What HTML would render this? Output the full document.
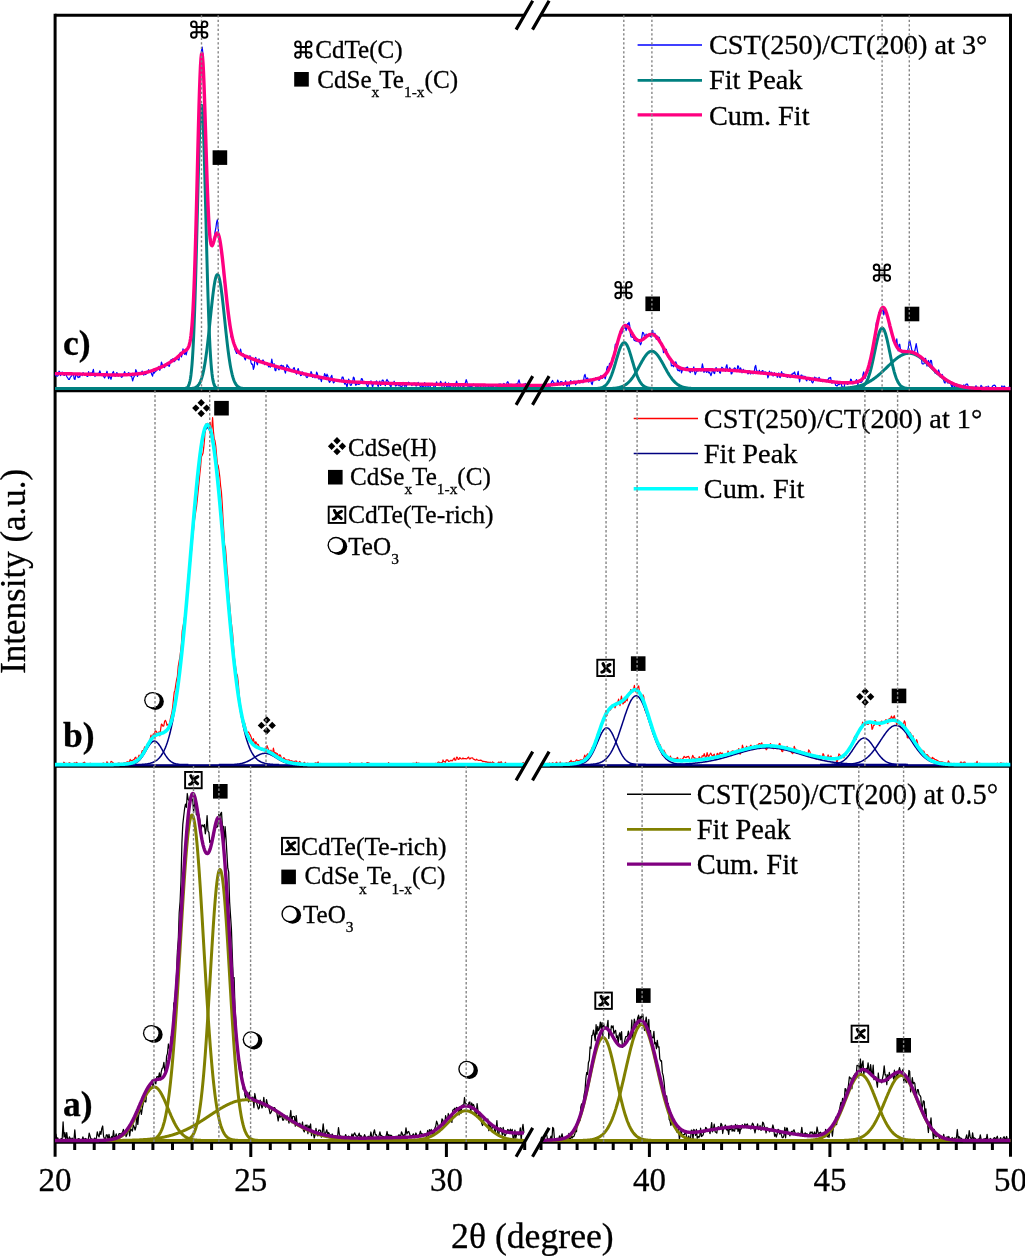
<!DOCTYPE html>
<html lang="en"><head><meta charset="utf-8"><title>XRD patterns of CST(250)/CT(200)</title>
<style>
html,body{margin:0;padding:0;background:#fff}
svg{display:block}
.serif text,.serif{font-family:"Liberation Serif","DejaVu Serif",serif;stroke:#000;stroke-width:0.3px}
.sym text,.sym{font-family:"DejaVu Sans","Liberation Sans",sans-serif}
.dot{stroke:#858585;stroke-width:1.4;stroke-dasharray:2.4 2.1}
</style></head><body>
<svg width="1025" height="1256" viewBox="0 0 1025 1256">
<rect width="100%" height="100%" fill="#fff"/>
<g id="axes" stroke="#000" stroke-width="3" fill="none" stroke-linecap="butt">
<path d="M55.1 13.7V1156.8"/>
<path d="M1010.5 13.7V1156.8"/>
<path d="M55.1 15.2H524.4M540.8 15.2H1010.5"/>
<path d="M55.1 1142.3H524.4M540.8 1142.3H1010.5"/>
<path d="M55.1 390.8H1010.5"/>
<path d="M55.1 766.3H524.4M540.8 766.3H1010.5"/>
<path d="M74.7 1142.3v7.6M94.2 1142.3v7.6M113.8 1142.3v7.6M133.4 1142.3v7.6M152.9 1142.3v7.6M172.5 1142.3v7.6M192.1 1142.3v7.6M211.6 1142.3v7.6M231.2 1142.3v7.6M250.8 1142.3v14.6M270.3 1142.3v7.6M289.9 1142.3v7.6M309.5 1142.3v7.6M329.0 1142.3v7.6M348.6 1142.3v7.6M368.2 1142.3v7.6M387.7 1142.3v7.6M407.3 1142.3v7.6M426.9 1142.3v7.6M446.4 1142.3v14.6M466.0 1142.3v7.6M485.6 1142.3v7.6M505.1 1142.3v7.6M524.7 1142.3v7.6M541.0 1142.3v7.6M559.1 1142.3v7.6M577.1 1142.3v7.6M595.2 1142.3v7.6M613.2 1142.3v7.6M631.3 1142.3v7.6M649.4 1142.3v14.6M667.4 1142.3v7.6M685.5 1142.3v7.6M703.5 1142.3v7.6M721.6 1142.3v7.6M739.6 1142.3v7.6M757.7 1142.3v7.6M775.7 1142.3v7.6M793.8 1142.3v7.6M811.8 1142.3v7.6M829.9 1142.3v14.6M848.0 1142.3v7.6M866.0 1142.3v7.6M884.1 1142.3v7.6M902.1 1142.3v7.6M920.2 1142.3v7.6M938.2 1142.3v7.6M956.3 1142.3v7.6M974.3 1142.3v7.6M992.4 1142.3v7.6"/>
</g>
<g id="panel-c" fill="none" stroke-linejoin="round">
<path d="M55.0 373.6L55.8 375.7L56.6 376.0L57.4 376.2L58.2 375.3L59.0 371.1L59.8 372.1L60.6 375.6L61.4 373.9L62.2 372.1L63.0 372.8L63.8 375.2L64.6 375.4L65.4 372.5L66.2 374.9L67.0 377.0L67.8 378.0L68.6 379.5L69.4 379.4L70.2 377.5L71.0 376.5L71.8 375.6L72.6 373.1L73.4 373.9L74.2 378.8L75.0 379.4L75.8 375.0L76.6 373.8L77.4 376.5L78.2 377.6L79.0 376.6L79.8 377.2L80.6 373.6L81.4 373.6L82.2 375.6L83.0 372.6L83.8 373.6L84.6 375.4L85.4 374.2L86.2 373.9L87.0 376.3L87.8 376.3L88.6 371.7L89.4 374.6L90.2 375.5L91.0 372.6L91.8 375.3L92.6 371.9L93.4 369.4L94.2 375.2L95.0 376.5L95.8 373.3L96.6 373.8L97.4 373.6L98.2 373.4L99.0 373.5L99.8 370.8L100.6 373.3L101.4 375.5L102.2 375.1L103.0 375.3L103.8 376.6L104.6 377.9L105.4 376.2L106.2 373.6L107.0 371.2L107.8 375.2L108.6 378.7L109.4 375.2L110.2 377.3L111.0 379.3L111.8 376.0L112.6 372.9L113.4 371.5L114.2 374.3L115.0 376.2L115.8 376.1L116.6 372.7L117.4 373.0L118.2 376.3L119.0 374.9L119.8 374.6L120.6 375.5L121.4 377.3L122.2 376.9L123.0 375.7L123.8 373.6L124.6 371.6L125.4 373.7L126.2 373.6L127.0 374.1L127.8 373.4L128.6 372.7L129.4 373.5L130.2 375.7L131.0 376.1L131.8 376.8L132.6 381.0L133.4 378.4L134.2 376.3L135.0 375.4L135.8 369.7L136.6 371.4L137.4 376.5L138.2 374.5L139.0 372.4L139.8 373.1L140.6 374.2L141.4 372.5L142.2 371.1L143.0 374.1L143.8 375.0L144.6 372.9L145.4 374.5L146.2 373.9L147.0 373.3L147.8 371.8L148.6 369.7L149.4 371.0L150.2 372.2L151.0 372.3L151.8 374.6L152.6 376.2L153.4 371.6L154.2 373.1L155.0 371.9L155.8 370.9L156.6 370.8L157.4 368.8L158.2 368.4L159.0 366.3L159.8 370.3L160.6 367.9L161.4 362.0L162.2 364.1L163.0 366.9L163.8 366.7L164.6 367.6L165.4 364.8L166.2 363.5L167.0 365.3L167.8 365.3L168.6 365.9L169.4 366.3L170.2 362.2L171.0 359.6L171.8 359.6L172.6 358.8L173.4 361.5L174.2 361.6L175.0 360.8L175.8 359.6L176.6 358.6L177.4 358.5L178.2 359.8L179.0 360.1L179.8 353.4L180.6 352.4L181.4 357.0L182.2 354.3L183.0 348.8L183.8 351.8L184.6 354.4L185.4 352.3L186.2 354.9L187.0 351.4L187.8 346.9L188.6 346.8L189.4 345.9L190.2 341.5L191.0 335.7L191.8 329.2L192.6 319.7L193.4 307.6L194.2 283.2L195.0 258.3L195.8 233.4L196.6 201.4L197.4 170.6L198.2 139.1L199.0 105.3L199.8 78.6L200.6 62.1L201.4 51.2L202.2 47.1L203.0 54.5L203.8 74.3L204.6 100.9L205.4 132.0L206.2 154.2L207.0 172.8L207.8 197.7L208.6 216.6L209.4 227.4L210.2 235.4L211.0 239.8L211.8 244.5L212.6 242.2L213.4 241.7L214.2 240.1L215.0 232.0L215.8 228.5L216.6 222.3L217.4 219.6L218.2 228.1L219.0 239.1L219.8 238.6L220.6 242.8L221.4 251.6L222.2 254.1L223.0 265.6L223.8 280.5L224.6 283.6L225.4 286.4L226.2 295.2L227.0 302.6L227.8 310.9L228.6 320.7L229.4 325.0L230.2 329.1L231.0 336.9L231.8 337.8L232.6 337.9L233.4 341.1L234.2 345.5L235.0 349.8L235.8 351.5L236.6 353.4L237.4 352.1L238.2 352.9L239.0 353.3L239.8 351.8L240.6 349.0L241.4 353.0L242.2 355.7L243.0 353.5L243.8 355.7L244.6 358.7L245.4 359.9L246.2 355.9L247.0 355.5L247.8 357.1L248.6 357.9L249.4 356.1L250.2 355.9L251.0 362.7L251.8 364.3L252.6 364.1L253.4 369.4L254.2 366.9L255.0 358.3L255.8 357.5L256.6 362.6L257.4 364.8L258.2 360.6L259.0 358.8L259.8 361.1L260.6 361.8L261.4 362.1L262.2 360.7L263.0 360.0L263.8 361.4L264.6 364.6L265.4 364.3L266.2 363.9L267.0 363.0L267.8 364.4L268.6 366.9L269.4 364.8L270.2 367.3L271.0 364.2L271.8 359.2L272.6 363.6L273.4 365.1L274.2 363.7L275.0 370.3L275.8 370.8L276.6 366.2L277.4 366.8L278.2 368.9L279.0 369.8L279.8 368.3L280.6 365.8L281.4 365.1L282.2 367.5L283.0 365.5L283.8 366.7L284.6 370.5L285.4 373.1L286.2 369.7L287.0 364.7L287.8 366.2L288.6 366.9L289.4 368.6L290.2 369.7L291.0 370.6L291.8 371.5L292.6 371.2L293.4 368.3L294.2 367.6L295.0 370.6L295.8 372.9L296.6 374.2L297.4 370.4L298.2 368.5L299.0 371.5L299.8 373.3L300.6 375.6L301.4 375.3L302.2 371.9L303.0 372.7L303.8 374.9L304.6 374.7L305.4 374.3L306.2 376.9L307.0 377.7L307.8 376.6L308.6 374.8L309.4 374.8L310.2 375.5L311.0 371.6L311.8 373.3L312.6 377.3L313.4 376.5L314.2 375.6L315.0 377.9L315.8 377.2L316.6 372.1L317.4 373.5L318.2 377.6L319.0 379.2L319.8 378.4L320.6 378.9L321.4 381.6L322.2 377.3L323.0 377.1L323.8 377.7L324.6 373.6L325.4 375.2L326.2 377.0L327.0 374.2L327.8 375.7L328.6 380.3L329.4 382.4L330.2 381.5L331.0 376.7L331.8 375.3L332.6 379.6L333.4 382.9L334.2 382.3L335.0 380.4L335.8 380.0L336.6 380.3L337.4 379.6L338.2 380.6L339.0 381.2L339.8 380.5L340.6 380.7L341.4 380.3L342.2 377.0L343.0 377.0L343.8 380.2L344.6 384.1L345.4 383.6L346.2 384.2L347.0 387.3L347.8 382.6L348.6 379.1L349.4 380.8L350.2 385.0L351.0 385.4L351.8 383.7L352.6 382.0L353.4 377.1L354.2 377.9L355.0 383.0L355.8 385.4L356.6 384.2L357.4 382.6L358.2 384.5L359.0 384.0L359.8 384.1L360.6 382.4L361.4 378.7L362.2 378.8L363.0 381.4L363.8 382.4L364.6 381.9L365.4 383.5L366.2 383.8L367.0 385.4L367.8 387.3L368.6 383.8L369.4 381.7L370.2 382.7L371.0 380.8L371.8 384.1L372.6 387.1L373.4 383.9L374.2 382.0L375.0 382.9L375.8 381.9L376.6 380.9L377.4 384.7L378.2 386.6L379.0 383.3L379.8 381.0L380.6 385.5L381.4 384.1L382.2 380.0L383.0 380.0L383.8 381.7L384.6 384.4L385.4 385.7L386.2 381.0L387.0 379.4L387.8 381.0L388.6 381.8L389.4 384.2L390.2 385.9L391.0 386.9L391.8 382.5L392.6 383.9L393.4 383.8L394.2 381.2L395.0 384.7L395.8 386.1L396.6 385.2L397.4 384.5L398.2 384.6L399.0 385.9L399.8 385.5L400.6 385.9L401.4 387.5L402.2 385.9L403.0 382.4L403.8 384.8L404.6 386.3L405.4 384.9L406.2 386.5L407.0 384.0L407.8 383.3L408.6 382.2L409.4 382.7L410.2 384.5L411.0 383.7L411.8 385.6L412.6 384.2L413.4 383.3L414.2 383.2L415.0 383.1L415.8 385.9L416.6 386.0L417.4 384.1L418.2 382.4L419.0 384.0L419.8 385.7L420.6 387.0L421.4 385.9L422.2 384.9L423.0 388.3L423.8 387.2L424.6 382.5L425.4 384.9L426.2 388.3L427.0 387.2L427.8 387.3L428.6 385.5L429.4 385.0L430.2 386.8L431.0 384.5L431.8 384.6L432.6 384.9L433.4 385.2L434.2 388.0L435.0 388.3L435.8 384.4L436.6 381.9L437.4 384.6L438.2 384.1L439.0 384.2L439.8 384.1L440.6 381.3L441.4 383.1L442.2 388.3L443.0 388.3L443.8 388.3L444.6 385.5L445.4 382.0L446.2 384.8L447.0 388.3L447.8 387.5L448.6 382.9L449.4 387.0L450.2 388.3L451.0 385.5L451.8 384.7L452.6 384.7L453.4 386.9L454.2 387.6L455.0 388.3L455.8 384.0L456.6 381.1L457.4 384.1L458.2 386.8L459.0 388.3L459.8 388.3L460.6 385.5L461.4 385.0L462.2 385.1L463.0 386.8L463.8 386.8L464.6 385.0L465.4 382.8L466.2 379.7L467.0 382.0L467.8 386.3L468.6 386.2L469.4 386.0L470.2 387.1L471.0 386.2L471.8 386.7L472.6 385.6L473.4 384.1L474.2 384.7L475.0 384.8L475.8 386.4L476.6 387.7L477.4 386.9L478.2 386.3L479.0 385.5L479.8 384.6L480.6 387.2L481.4 387.1L482.2 387.1L483.0 388.2L483.8 386.5L484.6 388.3L485.4 388.3L486.2 384.7L487.0 385.1L487.8 386.0L488.6 386.4L489.4 387.3L490.2 387.1L491.0 386.4L491.8 385.9L492.6 386.9L493.4 386.7L494.2 384.5L495.0 385.1L495.8 386.1L496.6 385.0L497.4 387.0L498.2 387.1L499.0 384.0L499.8 384.3L500.6 384.1L501.4 385.6L502.2 386.7L503.0 384.6L503.8 383.5L504.6 384.2L505.4 387.3L506.2 386.8L507.0 382.5L507.8 381.7L508.6 383.2L509.4 387.4L510.2 386.2L511.0 384.0L511.8 388.3L512.6 388.3L513.4 387.1L514.2 388.3L515.0 388.3L515.8 384.2L516.6 383.8L517.4 385.4L518.2 382.0L519.0 379.9L519.8 382.9L520.6 385.9L521.4 387.7L522.2 388.3L523.0 385.8L523.8 384.0L524.6 384.5L525.4 383.5L526.2 385.0L527.0 386.7L527.8 384.3L536.8 385.3L537.5 386.3L538.2 388.3L539.0 386.9L539.7 384.6L540.4 385.0L541.1 387.4L541.8 388.3L542.6 386.8L543.3 387.5L544.0 388.3L544.7 388.3L545.4 384.5L546.2 383.4L546.9 385.5L547.6 386.0L548.3 384.0L549.0 388.0L549.8 388.3L550.5 384.3L551.2 383.1L551.9 381.3L552.6 380.5L553.4 382.5L554.1 383.7L554.8 382.9L555.5 384.1L556.2 385.2L557.0 383.0L557.7 380.0L558.4 381.5L559.1 384.4L559.8 383.8L560.6 381.7L561.3 381.9L562.0 381.7L562.7 383.0L563.4 385.4L564.2 384.2L564.9 382.6L565.6 380.7L566.3 384.1L567.0 386.9L567.8 384.1L568.5 383.6L569.2 386.3L569.9 383.7L570.6 380.6L571.4 381.3L572.1 382.7L572.8 381.8L573.5 381.3L574.2 381.1L575.0 382.1L575.7 384.9L576.4 383.1L577.1 382.8L577.8 382.0L578.6 380.4L579.3 382.8L580.0 383.0L580.7 382.0L581.4 380.6L582.2 380.9L582.9 382.9L583.6 380.0L584.3 375.8L585.0 374.4L585.8 377.7L586.5 380.3L587.2 377.9L587.9 378.3L588.6 382.1L589.4 381.6L590.1 379.2L590.8 380.6L591.5 383.7L592.2 384.5L593.0 380.8L593.7 379.6L594.4 380.7L595.1 379.0L595.8 377.7L596.6 378.4L597.3 378.4L598.0 379.0L598.7 380.2L599.4 380.2L600.2 377.6L600.9 375.7L601.6 378.4L602.3 378.5L603.0 377.3L603.8 375.1L604.5 376.7L605.2 378.9L605.9 376.1L606.6 369.5L607.4 366.3L608.1 369.4L608.8 368.5L609.5 363.4L610.2 363.4L611.0 365.7L611.7 361.3L612.4 357.6L613.1 356.3L613.8 355.7L614.6 350.9L615.3 344.3L616.0 344.1L616.7 343.3L617.4 345.4L618.2 342.9L618.9 337.0L619.6 335.0L620.3 331.2L621.0 330.7L621.8 333.5L622.5 330.8L623.2 327.8L623.9 328.4L624.6 327.6L625.4 327.4L626.1 330.7L626.8 328.0L627.5 323.6L628.2 324.6L629.0 322.2L629.7 325.4L630.4 333.9L631.1 336.8L631.8 337.0L632.6 337.4L633.3 336.2L634.0 340.1L634.7 340.6L635.4 340.6L636.2 341.4L636.9 339.4L637.6 341.0L638.3 341.2L639.0 341.8L639.8 342.8L640.5 344.8L641.2 343.5L641.9 336.6L642.6 332.4L643.4 332.8L644.1 334.6L644.8 337.8L645.5 335.8L646.2 334.1L647.0 336.4L647.7 336.4L648.4 335.6L649.1 335.5L649.8 335.6L650.6 336.7L651.3 337.1L652.0 330.8L652.7 330.3L653.4 335.3L654.2 334.6L654.9 333.2L655.6 336.9L656.3 339.4L657.0 336.3L657.8 336.3L658.5 338.8L659.2 337.4L659.9 340.0L660.6 343.9L661.4 344.8L662.1 343.5L662.8 347.3L663.5 352.6L664.2 351.2L665.0 350.1L665.7 349.4L666.4 349.3L667.1 354.4L667.8 356.8L668.6 355.7L669.3 359.3L670.0 358.9L670.7 360.3L671.4 365.8L672.2 365.7L672.9 365.6L673.6 366.8L674.3 364.3L675.0 363.4L675.8 361.9L676.5 363.4L677.2 369.2L677.9 370.6L678.6 370.0L679.4 371.1L680.1 369.2L680.8 368.5L681.5 372.8L682.2 370.8L683.0 367.9L683.7 368.7L684.4 368.5L685.1 368.1L685.8 368.4L686.6 367.4L687.3 366.9L688.0 368.3L688.7 368.4L689.4 371.5L690.2 372.5L690.9 370.5L691.6 369.9L692.3 371.7L693.0 369.4L693.8 366.9L694.5 371.6L695.2 374.6L695.9 373.1L696.6 370.4L697.4 371.1L698.1 370.8L698.8 370.7L699.5 369.9L700.2 370.1L701.0 371.1L701.7 368.2L702.4 363.9L703.1 367.2L703.8 372.2L704.6 372.0L705.3 369.9L706.0 370.4L706.7 372.5L707.4 370.7L708.2 371.5L708.9 373.0L709.6 372.2L710.3 374.1L711.0 375.7L711.8 372.9L712.5 370.3L713.2 369.9L713.9 373.1L714.6 373.6L715.4 369.3L716.1 367.6L716.8 369.1L717.5 371.5L718.2 370.3L719.0 369.8L719.7 372.8L720.4 373.2L721.1 368.9L721.8 367.2L722.6 367.7L723.3 368.8L724.0 369.2L724.7 369.5L725.4 371.3L726.2 366.2L726.9 364.7L727.6 369.7L728.3 371.1L729.0 369.8L729.8 367.7L730.5 369.1L731.2 374.0L731.9 373.7L732.6 370.9L733.4 370.3L734.1 368.2L734.8 367.9L735.5 368.8L736.2 371.2L737.0 371.1L737.7 365.9L738.4 366.1L739.1 369.2L739.8 370.3L740.6 367.9L741.3 369.7L742.0 372.9L742.7 370.7L743.4 369.3L744.2 370.9L744.9 371.7L745.6 371.5L746.3 371.9L747.0 371.7L747.8 373.8L748.5 373.7L749.2 370.5L749.9 372.1L750.6 374.0L751.4 371.4L752.1 372.8L752.8 373.7L753.5 373.7L754.2 372.2L755.0 366.8L755.7 365.4L756.4 369.6L757.1 371.8L757.8 371.3L758.6 372.4L759.3 370.2L760.0 372.5L760.7 373.4L761.4 371.4L762.2 370.9L762.9 370.6L763.6 374.0L764.3 374.0L765.0 371.7L765.8 372.2L766.5 372.7L767.2 373.6L767.9 377.9L768.6 375.7L769.4 371.2L770.1 372.5L770.8 373.6L771.5 372.2L772.2 373.1L773.0 376.0L773.7 375.7L774.4 372.7L775.1 374.7L775.8 374.7L776.6 373.6L777.3 377.4L778.0 374.4L778.7 372.9L779.4 377.1L780.2 377.6L780.9 374.1L781.6 371.6L782.3 373.9L783.0 375.2L783.8 373.5L784.5 375.3L785.2 375.9L785.9 375.0L786.6 376.5L787.4 377.3L788.1 376.5L788.8 375.7L789.5 376.8L790.2 377.6L791.0 375.0L791.7 374.1L792.4 374.5L793.1 373.1L793.8 373.6L794.6 372.0L795.3 374.3L796.0 376.7L796.7 376.0L797.4 374.5L798.2 371.4L798.9 377.5L799.6 381.8L800.3 377.8L801.0 375.1L801.8 375.1L802.5 376.5L803.2 377.1L803.9 376.0L804.6 377.0L805.4 376.5L806.1 380.0L806.8 380.8L807.5 378.9L808.2 378.5L809.0 377.4L809.7 380.4L810.4 379.5L811.1 379.7L811.8 381.8L812.6 382.9L813.3 381.6L814.0 378.5L814.7 377.0L815.4 378.1L816.2 378.2L816.9 378.0L817.6 379.9L818.3 379.1L819.0 377.4L819.8 378.9L820.5 381.1L821.2 380.9L821.9 380.5L822.6 381.7L823.4 380.4L824.1 379.7L824.8 380.7L825.5 381.4L826.2 381.7L827.0 379.9L827.7 381.2L828.4 378.8L829.1 377.7L829.8 378.2L830.6 377.4L831.3 381.2L832.0 383.3L832.7 381.7L833.4 381.1L834.2 381.8L834.9 382.4L835.6 385.3L836.3 385.3L837.0 386.0L837.8 385.1L838.5 383.0L839.2 384.7L839.9 383.9L840.6 382.5L841.4 384.4L842.1 387.5L842.8 386.9L843.5 387.4L844.2 387.3L845.0 381.8L845.7 382.0L846.4 383.4L847.1 383.9L847.8 384.4L848.6 382.8L849.3 383.4L850.0 382.0L850.7 379.2L851.4 379.8L852.2 382.2L852.9 383.9L853.6 383.1L854.3 381.9L855.0 381.4L855.8 381.0L856.5 379.5L857.2 382.2L857.9 385.1L858.6 380.5L859.4 380.3L860.1 382.5L860.8 381.9L861.5 382.3L862.2 381.1L863.0 374.4L863.7 371.9L864.4 376.5L865.1 378.5L865.8 376.0L866.6 371.4L867.3 370.2L868.0 371.0L868.7 365.8L869.4 360.6L870.2 359.8L870.9 360.2L871.6 359.0L872.3 354.7L873.0 352.2L873.8 345.7L874.5 338.7L875.2 335.2L875.9 326.4L876.6 321.1L877.4 323.2L878.1 320.4L878.8 312.6L879.5 313.1L880.2 315.0L881.0 311.9L881.7 311.9L882.4 307.9L883.1 309.3L883.8 314.9L884.6 311.4L885.3 310.9L886.0 311.8L886.7 312.9L887.4 316.0L888.2 317.0L888.9 323.5L889.6 328.6L890.3 328.7L891.0 331.3L891.8 332.2L892.5 336.8L893.2 340.9L893.9 339.9L894.6 340.1L895.4 344.6L896.1 343.0L896.8 338.9L897.5 346.4L898.2 350.9L899.0 344.5L899.7 344.2L900.4 348.8L901.1 350.9L901.8 352.5L902.6 352.7L903.3 352.8L904.0 351.2L904.7 350.9L905.4 353.0L906.2 354.3L906.9 353.0L907.6 350.7L908.3 348.1L909.0 341.7L909.8 340.4L910.5 343.9L911.2 347.2L911.9 350.3L912.6 352.2L913.4 353.1L914.1 351.1L914.8 350.9L915.5 347.4L916.2 343.7L917.0 348.3L917.7 352.1L918.4 355.1L919.1 356.0L919.8 357.1L920.6 356.1L921.3 356.8L922.0 363.4L922.7 363.9L923.4 364.0L924.2 363.5L924.9 358.8L925.6 358.3L926.3 363.1L927.0 366.2L927.8 361.6L928.5 360.5L929.2 364.2L929.9 363.7L930.6 360.3L931.4 360.6L932.1 365.2L932.8 367.5L933.5 367.4L934.2 369.8L935.0 373.2L935.7 372.8L936.4 373.3L937.1 374.2L937.8 373.1L938.6 369.9L939.3 372.1L940.0 376.6L940.7 376.1L941.4 375.9L942.2 374.5L942.9 376.6L943.6 380.0L944.3 382.4L945.0 383.0L945.8 380.1L946.5 379.1L947.2 382.0L947.9 383.1L948.6 381.9L949.4 381.0L950.1 382.3L950.8 383.8L951.5 386.0L952.2 387.7L953.0 382.9L953.7 384.8L954.4 388.0L955.1 384.7L955.8 385.0L956.6 386.8L957.3 386.6L958.0 385.6L958.7 385.9L959.4 388.3L960.2 388.3L960.9 387.8L961.6 388.3L962.3 387.1L963.0 385.6L963.8 384.8L964.5 386.5L965.2 386.6L965.9 384.4L966.6 384.2L967.4 384.0L968.1 385.9L968.8 388.2L969.5 386.9L970.2 388.3L971.0 388.3L971.7 388.3L972.4 388.3L973.1 388.3L973.8 388.3L974.6 388.3L975.3 387.0L976.0 385.7L976.7 387.1L977.4 388.3L978.2 388.3L978.9 388.3L979.6 388.2L980.3 387.9L981.0 385.3L981.8 386.1L982.5 388.3L983.2 388.3L983.9 388.3L984.6 388.3L985.4 388.3L986.1 386.5L986.8 388.3L987.5 388.3L988.2 386.0L989.0 387.4L989.7 388.3L990.4 388.3L991.1 388.3L991.8 387.3L992.6 386.2L993.3 385.4L994.0 385.4L994.7 385.2L995.4 385.9L996.2 388.3L996.9 388.3L997.6 388.3L998.3 388.3L999.0 387.9L999.8 387.9L1000.5 388.3L1001.2 387.9L1001.9 385.8L1002.6 387.4L1003.4 387.1L1004.1 386.0L1004.8 386.7L1005.5 388.3L1006.2 388.3L1007.0 388.3L1007.7 388.3L1008.4 388.3L1009.1 386.8L1009.8 387.7" stroke="#0000ff" stroke-width="1.2"/>
<path d="M183.5 388.6L184.0 388.5L184.5 388.5L185.0 388.4L185.5 388.3L186.0 388.2L186.5 388.0L187.0 387.7L187.5 387.2L188.0 386.6L188.5 385.8L189.0 384.6L189.5 383.0L190.0 381.0L190.5 378.2L191.0 374.7L191.5 370.2L192.0 364.7L192.5 357.8L193.0 349.5L193.5 339.7L194.0 328.2L194.5 314.9L195.0 300.1L195.5 283.6L196.0 265.7L196.5 246.7L197.0 227.0L197.5 207.1L198.0 187.4L198.5 168.5L199.0 151.1L199.5 135.8L200.0 123.2L200.5 113.6L201.0 107.5L201.5 105.1L202.0 106.6L202.5 111.8L203.0 120.6L203.5 132.5L204.0 147.3L204.5 164.2L205.0 182.7L205.5 202.3L206.0 222.2L206.5 242.1L207.0 261.2L207.5 279.4L208.0 296.2L208.5 311.5L209.0 325.1L209.5 337.1L210.0 347.3L210.5 355.9L211.0 363.1L211.5 369.0L212.0 373.7L212.5 377.5L213.0 380.4L213.5 382.6L214.0 384.3L214.5 385.5L215.0 386.5L215.5 387.1L216.0 387.6L216.5 387.9L217.0 388.2L217.5 388.3L218.0 388.4L218.5 388.5L219.0 388.5L219.5 388.6" stroke="#008080" stroke-width="3"/>
<path d="M187.2 388.6L187.7 388.6L188.2 388.6L188.7 388.6L189.2 388.5L189.7 388.5L190.2 388.5L190.7 388.5L191.2 388.5L191.7 388.4L192.2 388.4L192.7 388.3L193.2 388.2L193.7 388.1L194.2 388.0L194.7 387.8L195.2 387.6L195.7 387.4L196.2 387.1L196.7 386.8L197.2 386.4L197.7 385.9L198.2 385.4L198.7 384.7L199.2 384.0L199.7 383.1L200.2 382.1L200.7 380.9L201.2 379.6L201.7 378.1L202.2 376.4L202.7 374.6L203.2 372.4L203.7 370.1L204.2 367.5L204.7 364.7L205.2 361.7L205.7 358.4L206.2 354.8L206.7 351.1L207.2 347.1L207.7 342.9L208.2 338.5L208.7 333.9L209.2 329.3L209.7 324.5L210.2 319.7L210.7 314.9L211.2 310.2L211.7 305.5L212.2 301.0L212.7 296.6L213.2 292.6L213.7 288.8L214.2 285.4L214.7 282.4L215.2 279.8L215.7 277.7L216.2 276.1L216.7 275.0L217.2 274.5L217.7 274.5L218.2 275.0L218.7 276.1L219.2 277.8L219.7 279.9L220.2 282.5L220.7 285.5L221.2 289.0L221.7 292.7L222.2 296.8L222.7 301.1L223.2 305.7L223.7 310.3L224.2 315.1L224.7 319.9L225.2 324.7L225.7 329.5L226.2 334.1L226.7 338.7L227.2 343.0L227.7 347.2L228.2 351.2L228.7 355.0L229.2 358.5L229.7 361.8L230.2 364.9L230.7 367.7L231.2 370.2L231.7 372.5L232.2 374.6L232.7 376.5L233.2 378.2L233.7 379.7L234.2 381.0L234.7 382.1L235.2 383.1L235.7 384.0L236.2 384.8L236.7 385.4L237.2 386.0L237.7 386.4L238.2 386.8L238.7 387.1L239.2 387.4L239.7 387.6L240.2 387.8L240.7 388.0L241.2 388.1L241.7 388.2L242.2 388.3L242.7 388.4L243.2 388.4L243.7 388.5L244.2 388.5L244.7 388.5L245.2 388.5L245.7 388.5L246.2 388.6L246.7 388.6L247.2 388.6" stroke="#008080" stroke-width="3"/>
<path d="M590.2 388.6L590.7 388.6L591.2 388.6L591.7 388.6L592.2 388.6L592.7 388.6L593.2 388.6L593.7 388.6L594.2 388.6L594.7 388.5L595.2 388.5L595.7 388.5L596.2 388.5L596.7 388.5L597.2 388.4L597.7 388.4L598.2 388.3L598.7 388.3L599.2 388.2L599.7 388.1L600.2 388.0L600.7 387.9L601.2 387.8L601.7 387.6L602.2 387.5L602.7 387.3L603.2 387.0L603.7 386.7L604.2 386.4L604.7 386.1L605.2 385.7L605.7 385.2L606.2 384.7L606.7 384.2L607.2 383.5L607.7 382.9L608.2 382.1L608.7 381.3L609.2 380.4L609.7 379.4L610.2 378.3L610.7 377.2L611.2 376.0L611.7 374.7L612.2 373.3L612.7 371.9L613.2 370.4L613.7 368.8L614.2 367.2L614.7 365.5L615.2 363.9L615.7 362.1L616.2 360.4L616.7 358.7L617.2 357.0L617.7 355.3L618.2 353.7L618.7 352.1L619.2 350.6L619.7 349.2L620.2 347.9L620.7 346.7L621.2 345.7L621.7 344.8L622.2 344.0L622.7 343.4L623.2 343.0L623.7 342.7L624.2 342.6L624.7 342.7L625.2 342.9L625.7 343.4L626.2 344.0L626.7 344.7L627.2 345.6L627.7 346.7L628.2 347.8L628.7 349.1L629.2 350.5L629.7 352.0L630.2 353.6L630.7 355.2L631.2 356.9L631.7 358.6L632.2 360.3L632.7 362.0L633.2 363.7L633.7 365.4L634.2 367.1L634.7 368.7L635.2 370.2L635.7 371.8L636.2 373.2L636.7 374.6L637.2 375.9L637.7 377.1L638.2 378.2L638.7 379.3L639.2 380.3L639.7 381.2L640.2 382.0L640.7 382.8L641.2 383.5L641.7 384.1L642.2 384.7L642.7 385.2L643.2 385.6L643.7 386.0L644.2 386.4L644.7 386.7L645.2 387.0L645.7 387.2L646.2 387.4L646.7 387.6L647.2 387.8L647.7 387.9L648.2 388.0L648.7 388.1L649.2 388.2L649.7 388.3L650.2 388.3L650.7 388.4L651.2 388.4L651.7 388.5L652.2 388.5L652.7 388.5L653.2 388.5L653.7 388.5L654.2 388.6L654.7 388.6L655.2 388.6L655.7 388.6L656.2 388.6L656.7 388.6L657.2 388.6L657.7 388.6L658.2 388.6" stroke="#008080" stroke-width="3"/>
<path d="M600.1 388.6L600.6 388.6L601.1 388.6L601.6 388.6L602.1 388.6L602.6 388.6L603.1 388.6L603.6 388.6L604.1 388.6L604.6 388.6L605.1 388.6L605.6 388.6L606.1 388.6L606.6 388.6L607.1 388.5L607.6 388.5L608.1 388.5L608.6 388.5L609.1 388.5L609.6 388.5L610.1 388.5L610.6 388.5L611.1 388.4L611.6 388.4L612.1 388.4L612.6 388.4L613.1 388.3L613.6 388.3L614.1 388.3L614.6 388.2L615.1 388.2L615.6 388.1L616.1 388.0L616.6 388.0L617.1 387.9L617.6 387.8L618.1 387.7L618.6 387.6L619.1 387.5L619.6 387.4L620.1 387.2L620.6 387.1L621.1 386.9L621.6 386.7L622.1 386.6L622.6 386.3L623.1 386.1L623.6 385.9L624.1 385.6L624.6 385.3L625.1 385.0L625.6 384.7L626.1 384.4L626.6 384.0L627.1 383.6L627.6 383.2L628.1 382.7L628.6 382.2L629.1 381.7L629.6 381.2L630.1 380.7L630.6 380.1L631.1 379.5L631.6 378.8L632.1 378.2L632.6 377.5L633.1 376.8L633.6 376.0L634.1 375.3L634.6 374.5L635.1 373.7L635.6 372.8L636.1 372.0L636.6 371.1L637.1 370.2L637.6 369.3L638.1 368.4L638.6 367.5L639.1 366.6L639.6 365.7L640.1 364.7L640.6 363.8L641.1 362.9L641.6 362.0L642.1 361.1L642.6 360.3L643.1 359.4L643.6 358.6L644.1 357.8L644.6 357.0L645.1 356.3L645.6 355.6L646.1 355.0L646.6 354.4L647.1 353.8L647.6 353.3L648.1 352.8L648.6 352.4L649.1 352.1L649.6 351.8L650.1 351.5L650.6 351.4L651.1 351.3L651.6 351.2L652.1 351.2L652.6 351.3L653.1 351.4L653.6 351.6L654.1 351.9L654.6 352.2L655.1 352.6L655.6 353.0L656.1 353.5L656.6 354.0L657.1 354.6L657.6 355.2L658.1 355.9L658.6 356.6L659.1 357.3L659.6 358.1L660.1 358.9L660.6 359.7L661.1 360.6L661.6 361.4L662.1 362.3L662.6 363.2L663.1 364.1L663.6 365.1L664.1 366.0L664.6 366.9L665.1 367.8L665.6 368.7L666.1 369.6L666.6 370.5L667.1 371.4L667.6 372.3L668.1 373.1L668.6 373.9L669.1 374.8L669.6 375.5L670.1 376.3L670.6 377.0L671.1 377.7L671.6 378.4L672.1 379.1L672.6 379.7L673.1 380.3L673.6 380.9L674.1 381.4L674.6 381.9L675.1 382.4L675.6 382.9L676.1 383.3L676.6 383.7L677.1 384.1L677.6 384.5L678.1 384.8L678.6 385.1L679.1 385.4L679.6 385.7L680.1 386.0L680.6 386.2L681.1 386.4L681.6 386.6L682.1 386.8L682.6 387.0L683.1 387.1L683.6 387.3L684.1 387.4L684.6 387.5L685.1 387.7L685.6 387.8L686.1 387.8L686.6 387.9L687.1 388.0L687.6 388.1L688.1 388.1L688.6 388.2L689.1 388.2L689.6 388.3L690.1 388.3L690.6 388.3L691.1 388.4L691.6 388.4L692.1 388.4L692.6 388.4L693.1 388.5L693.6 388.5L694.1 388.5L694.6 388.5L695.1 388.5L695.6 388.5L696.1 388.5L696.6 388.6L697.1 388.6L697.6 388.6L698.1 388.6L698.6 388.6L699.1 388.6L699.6 388.6L700.1 388.6L700.6 388.6L701.1 388.6L701.6 388.6L702.1 388.6L702.6 388.6L703.1 388.6" stroke="#008080" stroke-width="3"/>
<path d="M850.7 388.6L851.2 388.6L851.7 388.6L852.2 388.6L852.7 388.6L853.2 388.6L853.7 388.6L854.2 388.5L854.7 388.5L855.2 388.5L855.7 388.5L856.2 388.5L856.7 388.4L857.2 388.4L857.7 388.3L858.2 388.2L858.7 388.2L859.2 388.1L859.7 387.9L860.2 387.8L860.7 387.6L861.2 387.4L861.7 387.2L862.2 386.9L862.7 386.5L863.2 386.2L863.7 385.7L864.2 385.2L864.7 384.6L865.2 384.0L865.7 383.2L866.2 382.4L866.7 381.5L867.2 380.4L867.7 379.3L868.2 378.0L868.7 376.6L869.2 375.1L869.7 373.5L870.2 371.8L870.7 369.9L871.2 368.0L871.7 365.9L872.2 363.7L872.7 361.5L873.2 359.2L873.7 356.8L874.2 354.3L874.7 351.9L875.2 349.5L875.7 347.0L876.2 344.7L876.7 342.4L877.2 340.2L877.7 338.1L878.2 336.1L878.7 334.3L879.2 332.8L879.7 331.4L880.2 330.2L880.7 329.3L881.2 328.6L881.7 328.2L882.2 328.1L882.7 328.2L883.2 328.6L883.7 329.3L884.2 330.2L884.7 331.4L885.2 332.8L885.7 334.3L886.2 336.1L886.7 338.1L887.2 340.2L887.7 342.4L888.2 344.7L888.7 347.0L889.2 349.5L889.7 351.9L890.2 354.3L890.7 356.8L891.2 359.2L891.7 361.5L892.2 363.7L892.7 365.9L893.2 368.0L893.7 369.9L894.2 371.8L894.7 373.5L895.2 375.1L895.7 376.6L896.2 378.0L896.7 379.3L897.2 380.4L897.7 381.5L898.2 382.4L898.7 383.2L899.2 384.0L899.7 384.6L900.2 385.2L900.7 385.7L901.2 386.2L901.7 386.5L902.2 386.9L902.7 387.2L903.2 387.4L903.7 387.6L904.2 387.8L904.7 387.9L905.2 388.1L905.7 388.2L906.2 388.2L906.7 388.3L907.2 388.4L907.7 388.4L908.2 388.5L908.7 388.5L909.2 388.5L909.7 388.5L910.2 388.5L910.7 388.6L911.2 388.6L911.7 388.6L912.2 388.6L912.7 388.6L913.2 388.6" stroke="#008080" stroke-width="3"/>
<path d="M816.6 388.6L817.1 388.6L817.6 388.6L818.1 388.6L818.6 388.6L819.1 388.6L819.6 388.6L820.1 388.6L820.6 388.6L821.1 388.6L821.6 388.6L822.1 388.6L822.6 388.6L823.1 388.6L823.6 388.6L824.1 388.6L824.6 388.6L825.1 388.6L825.6 388.6L826.1 388.6L826.6 388.6L827.1 388.6L827.6 388.6L828.1 388.6L828.6 388.6L829.1 388.6L829.6 388.5L830.1 388.5L830.6 388.5L831.1 388.5L831.6 388.5L832.1 388.5L832.6 388.5L833.1 388.5L833.6 388.5L834.1 388.5L834.6 388.5L835.1 388.5L835.6 388.5L836.1 388.5L836.6 388.4L837.1 388.4L837.6 388.4L838.1 388.4L838.6 388.4L839.1 388.4L839.6 388.4L840.1 388.3L840.6 388.3L841.1 388.3L841.6 388.3L842.1 388.3L842.6 388.2L843.1 388.2L843.6 388.2L844.1 388.1L844.6 388.1L845.1 388.1L845.6 388.0L846.1 388.0L846.6 388.0L847.1 387.9L847.6 387.9L848.1 387.8L848.6 387.8L849.1 387.7L849.6 387.7L850.1 387.6L850.6 387.6L851.1 387.5L851.6 387.4L852.1 387.4L852.6 387.3L853.1 387.2L853.6 387.1L854.1 387.0L854.6 386.9L855.1 386.8L855.6 386.7L856.1 386.6L856.6 386.5L857.1 386.4L857.6 386.3L858.1 386.2L858.6 386.0L859.1 385.9L859.6 385.8L860.1 385.6L860.6 385.5L861.1 385.3L861.6 385.1L862.1 385.0L862.6 384.8L863.1 384.6L863.6 384.4L864.1 384.2L864.6 384.0L865.1 383.8L865.6 383.6L866.1 383.3L866.6 383.1L867.1 382.8L867.6 382.6L868.1 382.3L868.6 382.1L869.1 381.8L869.6 381.5L870.1 381.2L870.6 380.9L871.1 380.6L871.6 380.3L872.1 380.0L872.6 379.6L873.1 379.3L873.6 378.9L874.1 378.6L874.6 378.2L875.1 377.8L875.6 377.4L876.1 377.1L876.6 376.7L877.1 376.3L877.6 375.9L878.1 375.4L878.6 375.0L879.1 374.6L879.6 374.1L880.1 373.7L880.6 373.3L881.1 372.8L881.6 372.3L882.1 371.9L882.6 371.4L883.1 370.9L883.6 370.5L884.1 370.0L884.6 369.5L885.1 369.0L885.6 368.6L886.1 368.1L886.6 367.6L887.1 367.1L887.6 366.6L888.1 366.1L888.6 365.6L889.1 365.2L889.6 364.7L890.1 364.2L890.6 363.7L891.1 363.2L891.6 362.8L892.1 362.3L892.6 361.9L893.1 361.4L893.6 361.0L894.1 360.5L894.6 360.1L895.1 359.7L895.6 359.3L896.1 358.9L896.6 358.5L897.1 358.1L897.6 357.7L898.1 357.4L898.6 357.0L899.1 356.7L899.6 356.4L900.1 356.1L900.6 355.8L901.1 355.5L901.6 355.2L902.1 355.0L902.6 354.8L903.1 354.5L903.6 354.3L904.1 354.2L904.6 354.0L905.1 353.9L905.6 353.7L906.1 353.6L906.6 353.5L907.1 353.4L907.6 353.4L908.1 353.3L908.6 353.3L909.1 353.3L909.6 353.3L910.1 353.3L910.6 353.4L911.1 353.5L911.6 353.5L912.1 353.6L912.6 353.8L913.1 353.9L913.6 354.1L914.1 354.2L914.6 354.4L915.1 354.6L915.6 354.9L916.1 355.1L916.6 355.3L917.1 355.6L917.6 355.9L918.1 356.2L918.6 356.5L919.1 356.8L919.6 357.2L920.1 357.5L920.6 357.9L921.1 358.3L921.6 358.6L922.1 359.0L922.6 359.4L923.1 359.9L923.6 360.3L924.1 360.7L924.6 361.1L925.1 361.6L925.6 362.0L926.1 362.5L926.6 363.0L927.1 363.4L927.6 363.9L928.1 364.4L928.6 364.9L929.1 365.3L929.6 365.8L930.1 366.3L930.6 366.8L931.1 367.3L931.6 367.8L932.1 368.3L932.6 368.7L933.1 369.2L933.6 369.7L934.1 370.2L934.6 370.7L935.1 371.1L935.6 371.6L936.1 372.1L936.6 372.5L937.1 373.0L937.6 373.4L938.1 373.9L938.6 374.3L939.1 374.8L939.6 375.2L940.1 375.6L940.6 376.0L941.1 376.4L941.6 376.8L942.1 377.2L942.6 377.6L943.1 378.0L943.6 378.4L944.1 378.7L944.6 379.1L945.1 379.4L945.6 379.8L946.1 380.1L946.6 380.4L947.1 380.7L947.6 381.0L948.1 381.3L948.6 381.6L949.1 381.9L949.6 382.2L950.1 382.4L950.6 382.7L951.1 382.9L951.6 383.2L952.1 383.4L952.6 383.6L953.1 383.9L953.6 384.1L954.1 384.3L954.6 384.5L955.1 384.7L955.6 384.9L956.1 385.0L956.6 385.2L957.1 385.4L957.6 385.5L958.1 385.7L958.6 385.8L959.1 386.0L959.6 386.1L960.1 386.2L960.6 386.3L961.1 386.5L961.6 386.6L962.1 386.7L962.6 386.8L963.1 386.9L963.6 387.0L964.1 387.1L964.6 387.2L965.1 387.2L965.6 387.3L966.1 387.4L966.6 387.5L967.1 387.5L967.6 387.6L968.1 387.6L968.6 387.7L969.1 387.8L969.6 387.8L970.1 387.9L970.6 387.9L971.1 387.9L971.6 388.0L972.1 388.0L972.6 388.1L973.1 388.1L973.6 388.1L974.1 388.2L974.6 388.2L975.1 388.2L975.6 388.2L976.1 388.3L976.6 388.3L977.1 388.3L977.6 388.3L978.1 388.3L978.6 388.4L979.1 388.4L979.6 388.4L980.1 388.4L980.6 388.4L981.1 388.4L981.6 388.4L982.1 388.5L982.6 388.5L983.1 388.5L983.6 388.5L984.1 388.5L984.6 388.5L985.1 388.5L985.6 388.5L986.1 388.5L986.6 388.5L987.1 388.5L987.6 388.5L988.1 388.5L988.6 388.5L989.1 388.6L989.6 388.6L990.1 388.6L990.6 388.6L991.1 388.6L991.6 388.6L992.1 388.6L992.6 388.6L993.1 388.6L993.6 388.6L994.1 388.6L994.6 388.6L995.1 388.6L995.6 388.6L996.1 388.6L996.6 388.6L997.1 388.6L997.6 388.6L998.1 388.6L998.6 388.6L999.1 388.6L999.6 388.6L1000.1 388.6L1000.6 388.6L1001.1 388.6" stroke="#008080" stroke-width="3"/>
<path d="M55 388.6H1010.5" stroke="#008080" stroke-width="3"/>
<path d="M55.0 373.6L55.5 373.6L56.0 373.6L56.5 373.6L57.0 373.6L57.5 373.6L58.0 373.6L58.5 373.6L59.0 373.6L59.5 373.6L60.0 373.6L60.5 373.6L61.0 373.6L61.5 373.6L62.0 373.6L62.5 373.7L63.0 373.7L63.5 373.7L64.0 373.7L64.5 373.7L65.0 373.7L65.5 373.7L66.0 373.7L66.5 373.7L67.0 373.7L67.5 373.7L68.0 373.7L68.5 373.8L69.0 373.8L69.5 373.8L70.0 373.8L70.5 373.8L71.0 373.8L71.5 373.8L72.0 373.8L72.5 373.9L73.0 373.9L73.5 373.9L74.0 373.9L74.5 373.9L75.0 373.9L75.5 373.9L76.0 373.9L76.5 374.0L77.0 374.0L77.5 374.0L78.0 374.0L78.5 374.0L79.0 374.0L79.5 374.0L80.0 374.0L80.5 374.1L81.0 374.1L81.5 374.1L82.0 374.1L82.5 374.1L83.0 374.1L83.5 374.1L84.0 374.2L84.5 374.2L85.0 374.2L85.5 374.2L86.0 374.2L86.5 374.2L87.0 374.2L87.5 374.2L88.0 374.3L88.5 374.3L89.0 374.3L89.5 374.3L90.0 374.3L90.5 374.3L91.0 374.3L91.5 374.3L92.0 374.3L92.5 374.4L93.0 374.4L93.5 374.4L94.0 374.4L94.5 374.4L95.0 374.4L95.5 374.5L96.0 374.5L96.5 374.5L97.0 374.5L97.5 374.5L98.0 374.5L98.5 374.6L99.0 374.6L99.5 374.6L100.0 374.6L100.5 374.6L101.0 374.6L101.5 374.7L102.0 374.7L102.5 374.7L103.0 374.7L103.5 374.7L104.0 374.7L104.5 374.8L105.0 374.8L105.5 374.8L106.0 374.8L106.5 374.8L107.0 374.8L107.5 374.9L108.0 374.9L108.5 374.9L109.0 374.9L109.5 374.9L110.0 374.9L110.5 374.9L111.0 374.9L111.5 374.9L112.0 375.0L112.5 375.0L113.0 375.0L113.5 375.0L114.0 375.0L114.5 375.0L115.0 375.0L115.5 375.0L116.0 375.0L116.5 375.0L117.0 375.0L117.5 375.0L118.0 375.0L118.5 375.0L119.0 375.0L119.5 375.0L120.0 375.0L120.5 375.0L121.0 374.9L121.5 374.9L122.0 374.9L122.5 374.9L123.0 374.9L123.5 374.9L124.0 374.8L124.5 374.8L125.0 374.8L125.5 374.8L126.0 374.7L126.5 374.7L127.0 374.7L127.5 374.7L128.0 374.6L128.5 374.6L129.0 374.6L129.5 374.5L130.0 374.5L130.5 374.5L131.0 374.4L131.5 374.4L132.0 374.3L132.5 374.3L133.0 374.3L133.5 374.2L134.0 374.2L134.5 374.1L135.0 374.1L135.5 374.0L136.0 374.0L136.5 373.9L137.0 373.9L137.5 373.9L138.0 373.8L138.5 373.8L139.0 373.7L139.5 373.7L140.0 373.6L140.5 373.5L141.0 373.5L141.5 373.4L142.0 373.3L142.5 373.3L143.0 373.2L143.5 373.1L144.0 373.0L144.5 372.9L145.0 372.7L145.5 372.6L146.0 372.5L146.5 372.4L147.0 372.2L147.5 372.1L148.0 372.0L148.5 371.8L149.0 371.7L149.5 371.5L150.0 371.3L150.5 371.2L151.0 371.0L151.5 370.8L152.0 370.7L152.5 370.5L153.0 370.3L153.5 370.1L154.0 369.9L154.5 369.7L155.0 369.6L155.5 369.4L156.0 369.2L156.5 369.0L157.0 368.8L157.5 368.6L158.0 368.4L158.5 368.2L159.0 368.0L159.5 367.8L160.0 367.6L160.5 367.4L161.0 367.2L161.5 367.0L162.0 366.7L162.5 366.5L163.0 366.3L163.5 366.0L164.0 365.8L164.5 365.5L165.0 365.2L165.5 365.0L166.0 364.7L166.5 364.4L167.0 364.1L167.5 363.8L168.0 363.5L168.5 363.2L169.0 362.9L169.5 362.6L170.0 362.3L170.5 362.0L171.0 361.7L171.5 361.4L172.0 361.1L172.5 360.7L173.0 360.4L173.5 360.1L174.0 359.8L174.5 359.4L175.0 359.1L175.5 358.8L176.0 358.4L176.5 358.0L177.0 357.6L177.5 357.1L178.0 356.7L178.5 356.2L179.0 355.8L179.5 355.3L180.0 354.9L180.5 354.4L181.0 353.9L181.5 353.5L182.0 353.1L182.5 352.7L183.0 352.3L183.5 351.9L184.0 351.5L184.5 351.2L185.0 350.8L185.5 350.5L186.0 350.2L186.5 349.8L187.0 349.4L187.5 348.8L188.0 348.1L188.5 347.1L189.0 345.8L189.5 344.1L190.0 341.9L190.5 339.1L191.0 335.5L191.5 331.0L192.0 325.4L192.5 318.4L193.0 310.1L193.5 300.2L194.0 288.6L194.5 275.3L195.0 260.3L195.5 243.7L196.0 225.6L196.5 206.3L197.0 186.2L197.5 165.7L198.0 145.4L198.5 125.8L199.0 107.5L199.5 91.1L200.0 77.2L200.5 66.2L201.0 58.5L201.5 54.3L202.0 53.8L202.5 56.8L203.0 63.2L203.5 72.6L204.0 84.6L204.5 98.6L205.0 114.0L205.5 130.3L206.0 146.7L206.5 162.8L207.0 178.1L207.5 192.2L208.0 204.8L208.5 215.7L209.0 224.8L209.5 232.1L210.0 237.7L210.5 241.7L211.0 244.2L211.5 245.5L212.0 245.7L212.5 245.2L213.0 244.0L213.5 242.4L214.0 240.7L214.5 238.8L215.0 237.1L215.5 235.5L216.0 234.3L216.5 233.4L217.0 233.0L217.5 233.1L218.0 233.6L218.5 234.7L219.0 236.2L219.5 238.3L220.0 240.8L220.5 243.8L221.0 247.2L221.5 250.9L222.0 255.0L222.5 259.3L223.0 263.9L223.5 268.6L224.0 273.4L224.5 278.3L225.0 283.2L225.5 288.0L226.0 292.8L226.5 297.5L227.0 302.1L227.5 306.5L228.0 310.7L228.5 314.7L229.0 318.5L229.5 322.1L230.0 325.4L230.5 328.5L231.0 331.3L231.5 333.9L232.0 336.3L232.5 338.5L233.0 340.4L233.5 342.2L234.0 343.8L234.5 345.2L235.0 346.4L235.5 347.6L236.0 348.6L236.5 349.4L237.0 350.2L237.5 350.9L238.0 351.5L238.5 352.0L239.0 352.5L239.5 352.9L240.0 353.3L240.5 353.7L241.0 354.0L241.5 354.3L242.0 354.6L242.5 354.8L243.0 355.1L243.5 355.3L244.0 355.5L244.5 355.8L245.0 356.0L245.5 356.2L246.0 356.4L246.5 356.6L247.0 356.8L247.5 357.0L248.0 357.2L248.5 357.4L249.0 357.6L249.5 357.8L250.0 358.0L250.5 358.2L251.0 358.4L251.5 358.6L252.0 358.8L252.5 358.9L253.0 359.1L253.5 359.3L254.0 359.5L254.5 359.7L255.0 359.9L255.5 360.0L256.0 360.2L256.5 360.4L257.0 360.6L257.5 360.8L258.0 360.9L258.5 361.1L259.0 361.3L259.5 361.4L260.0 361.6L260.5 361.8L261.0 361.9L261.5 362.1L262.0 362.2L262.5 362.4L263.0 362.6L263.5 362.7L264.0 362.9L264.5 363.0L265.0 363.2L265.5 363.3L266.0 363.5L266.5 363.6L267.0 363.8L267.5 364.0L268.0 364.1L268.5 364.3L269.0 364.4L269.5 364.5L270.0 364.7L270.5 364.8L271.0 365.0L271.5 365.1L272.0 365.3L272.5 365.4L273.0 365.6L273.5 365.7L274.0 365.8L274.5 366.0L275.0 366.1L275.5 366.3L276.0 366.4L276.5 366.5L277.0 366.7L277.5 366.8L278.0 367.0L278.5 367.1L279.0 367.2L279.5 367.4L280.0 367.5L280.5 367.7L281.0 367.8L281.5 367.9L282.0 368.1L282.5 368.2L283.0 368.3L283.5 368.5L284.0 368.6L284.5 368.7L285.0 368.9L285.5 369.0L286.0 369.1L286.5 369.3L287.0 369.4L287.5 369.5L288.0 369.7L288.5 369.8L289.0 369.9L289.5 370.1L290.0 370.2L290.5 370.4L291.0 370.5L291.5 370.6L292.0 370.8L292.5 370.9L293.0 371.0L293.5 371.2L294.0 371.3L294.5 371.4L295.0 371.5L295.5 371.7L296.0 371.8L296.5 371.9L297.0 372.1L297.5 372.2L298.0 372.3L298.5 372.4L299.0 372.6L299.5 372.7L300.0 372.8L300.5 372.9L301.0 373.1L301.5 373.2L302.0 373.3L302.5 373.4L303.0 373.6L303.5 373.7L304.0 373.8L304.5 373.9L305.0 374.0L305.5 374.1L306.0 374.2L306.5 374.4L307.0 374.5L307.5 374.6L308.0 374.7L308.5 374.8L309.0 374.9L309.5 375.0L310.0 375.1L310.5 375.2L311.0 375.3L311.5 375.4L312.0 375.5L312.5 375.6L313.0 375.7L313.5 375.8L314.0 375.9L314.5 376.0L315.0 376.1L315.5 376.2L316.0 376.3L316.5 376.4L317.0 376.6L317.5 376.7L318.0 376.8L318.5 376.9L319.0 377.0L319.5 377.1L320.0 377.2L320.5 377.3L321.0 377.4L321.5 377.5L322.0 377.6L322.5 377.7L323.0 377.8L323.5 377.9L324.0 378.0L324.5 378.1L325.0 378.2L325.5 378.3L326.0 378.4L326.5 378.5L327.0 378.6L327.5 378.7L328.0 378.8L328.5 378.9L329.0 379.0L329.5 379.1L330.0 379.2L330.5 379.3L331.0 379.4L331.5 379.4L332.0 379.5L332.5 379.6L333.0 379.7L333.5 379.8L334.0 379.9L334.5 380.0L335.0 380.1L335.5 380.1L336.0 380.2L336.5 380.3L337.0 380.4L337.5 380.4L338.0 380.5L338.5 380.6L339.0 380.7L339.5 380.7L340.0 380.8L340.5 380.9L341.0 380.9L341.5 381.0L342.0 381.1L342.5 381.1L343.0 381.2L343.5 381.2L344.0 381.3L344.5 381.3L345.0 381.4L345.5 381.4L346.0 381.5L346.5 381.5L347.0 381.6L347.5 381.6L348.0 381.7L348.5 381.7L349.0 381.7L349.5 381.8L350.0 381.8L350.5 381.8L351.0 381.9L351.5 381.9L352.0 381.9L352.5 381.9L353.0 382.0L353.5 382.0L354.0 382.0L354.5 382.1L355.0 382.1L355.5 382.1L356.0 382.1L356.5 382.2L357.0 382.2L357.5 382.2L358.0 382.2L358.5 382.3L359.0 382.3L359.5 382.3L360.0 382.3L360.5 382.4L361.0 382.4L361.5 382.4L362.0 382.4L362.5 382.4L363.0 382.5L363.5 382.5L364.0 382.5L364.5 382.5L365.0 382.6L365.5 382.6L366.0 382.6L366.5 382.6L367.0 382.6L367.5 382.7L368.0 382.7L368.5 382.7L369.0 382.7L369.5 382.7L370.0 382.8L370.5 382.8L371.0 382.8L371.5 382.8L372.0 382.8L372.5 382.9L373.0 382.9L373.5 382.9L374.0 382.9L374.5 382.9L375.0 383.0L375.5 383.0L376.0 383.0L376.5 383.0L377.0 383.0L377.5 383.0L378.0 383.1L378.5 383.1L379.0 383.1L379.5 383.1L380.0 383.1L380.5 383.1L381.0 383.2L381.5 383.2L382.0 383.2L382.5 383.2L383.0 383.2L383.5 383.2L384.0 383.3L384.5 383.3L385.0 383.3L385.5 383.3L386.0 383.3L386.5 383.3L387.0 383.3L387.5 383.4L388.0 383.4L388.5 383.4L389.0 383.4L389.5 383.4L390.0 383.4L390.5 383.4L391.0 383.5L391.5 383.5L392.0 383.5L392.5 383.5L393.0 383.5L393.5 383.5L394.0 383.5L394.5 383.5L395.0 383.6L395.5 383.6L396.0 383.6L396.5 383.6L397.0 383.6L397.5 383.6L398.0 383.6L398.5 383.6L399.0 383.7L399.5 383.7L400.0 383.7L400.5 383.7L401.0 383.7L401.5 383.7L402.0 383.7L402.5 383.7L403.0 383.7L403.5 383.8L404.0 383.8L404.5 383.8L405.0 383.8L405.5 383.8L406.0 383.8L406.5 383.8L407.0 383.8L407.5 383.8L408.0 383.9L408.5 383.9L409.0 383.9L409.5 383.9L410.0 383.9L410.5 383.9L411.0 383.9L411.5 383.9L412.0 383.9L412.5 383.9L413.0 384.0L413.5 384.0L414.0 384.0L414.5 384.0L415.0 384.0L415.5 384.0L416.0 384.0L416.5 384.0L417.0 384.0L417.5 384.0L418.0 384.1L418.5 384.1L419.0 384.1L419.5 384.1L420.0 384.1L420.5 384.1L421.0 384.1L421.5 384.1L422.0 384.1L422.5 384.2L423.0 384.2L423.5 384.2L424.0 384.2L424.5 384.2L425.0 384.2L425.5 384.2L426.0 384.2L426.5 384.2L427.0 384.2L427.5 384.2L428.0 384.3L428.5 384.3L429.0 384.3L429.5 384.3L430.0 384.3L430.5 384.3L431.0 384.3L431.5 384.3L432.0 384.3L432.5 384.3L433.0 384.3L433.5 384.4L434.0 384.4L434.5 384.4L435.0 384.4L435.5 384.4L436.0 384.4L436.5 384.4L437.0 384.4L437.5 384.4L438.0 384.4L438.5 384.4L439.0 384.5L439.5 384.5L440.0 384.5L440.5 384.5L441.0 384.5L441.5 384.5L442.0 384.5L442.5 384.5L443.0 384.5L443.5 384.5L444.0 384.5L444.5 384.5L445.0 384.6L445.5 384.6L446.0 384.6L446.5 384.6L447.0 384.6L447.5 384.6L448.0 384.6L448.5 384.6L449.0 384.6L449.5 384.6L450.0 384.6L450.5 384.6L451.0 384.6L451.5 384.7L452.0 384.7L452.5 384.7L453.0 384.7L453.5 384.7L454.0 384.7L454.5 384.7L455.0 384.7L455.5 384.7L456.0 384.7L456.5 384.7L457.0 384.7L457.5 384.7L458.0 384.7L458.5 384.8L459.0 384.8L459.5 384.8L460.0 384.8L460.5 384.8L461.0 384.8L461.5 384.8L462.0 384.8L462.5 384.8L463.0 384.8L463.5 384.8L464.0 384.8L464.5 384.8L465.0 384.8L465.5 384.8L466.0 384.8L466.5 384.9L467.0 384.9L467.5 384.9L468.0 384.9L468.5 384.9L469.0 384.9L469.5 384.9L470.0 384.9L470.5 384.9L471.0 384.9L471.5 384.9L472.0 384.9L472.5 384.9L473.0 384.9L473.5 384.9L474.0 384.9L474.5 384.9L475.0 384.9L475.5 385.0L476.0 385.0L476.5 385.0L477.0 385.0L477.5 385.0L478.0 385.0L478.5 385.0L479.0 385.0L479.5 385.0L480.0 385.0L480.5 385.0L481.0 385.0L481.5 385.0L482.0 385.0L482.5 385.0L483.0 385.0L483.5 385.0L484.0 385.0L484.5 385.0L485.0 385.0L485.5 385.1L486.0 385.1L486.5 385.1L487.0 385.1L487.5 385.1L488.0 385.1L488.5 385.1L489.0 385.1L489.5 385.1L490.0 385.1L490.5 385.1L491.0 385.1L491.5 385.1L492.0 385.1L492.5 385.1L493.0 385.1L493.5 385.1L494.0 385.1L494.5 385.1L495.0 385.1L495.5 385.1L496.0 385.1L496.5 385.1L497.0 385.1L497.5 385.2L498.0 385.2L498.5 385.2L499.0 385.2L499.5 385.2L500.0 385.2L500.5 385.2L501.0 385.2L501.5 385.2L502.0 385.2L502.5 385.2L503.0 385.2L503.5 385.2L504.0 385.2L504.5 385.2L505.0 385.2L505.5 385.2L506.0 385.2L506.5 385.2L507.0 385.2L507.5 385.2L508.0 385.2L508.5 385.2L509.0 385.2L509.5 385.2L510.0 385.2L510.5 385.2L511.0 385.2L511.5 385.2L512.0 385.3L512.5 385.3L513.0 385.3L513.5 385.3L514.0 385.3L514.5 385.3L515.0 385.3L515.5 385.3L516.0 385.3L516.5 385.3L517.0 385.3L517.5 385.3L518.0 385.3L518.5 385.3L519.0 385.3L519.5 385.3L520.0 385.3L520.5 385.3L521.0 385.3L521.5 385.3L522.0 385.3L522.5 385.3L523.0 385.3L523.5 385.3L524.0 385.3L524.5 385.3L525.0 385.3L525.5 385.3L526.0 385.3L526.5 385.3L527.0 385.3L527.5 385.3L528.0 385.3L528.5 385.4L529.0 385.4L529.5 385.4L530.0 385.4L530.5 385.4L531.0 385.4L531.5 385.4L532.0 385.4L532.5 385.4L533.0 385.4L533.5 385.4L534.0 385.4L534.5 385.4L535.0 385.4L535.5 385.4L536.0 385.4L536.5 385.4L537.0 385.4L537.5 385.4L538.0 385.4L538.5 385.4L539.0 385.4L539.5 385.4L540.0 385.4L540.5 385.4L541.0 385.4L541.5 385.4L542.0 385.4L542.5 385.4L543.0 385.4L543.5 385.4L544.0 385.3L544.5 385.3L545.0 385.3L545.5 385.3L546.0 385.2L546.5 385.2L547.0 385.2L547.5 385.2L548.0 385.1L548.5 385.1L549.0 385.0L549.5 385.0L550.0 385.0L550.5 384.9L551.0 384.9L551.5 384.8L552.0 384.8L552.5 384.7L553.0 384.7L553.5 384.6L554.0 384.6L554.5 384.5L555.0 384.5L555.5 384.4L556.0 384.4L556.5 384.3L557.0 384.3L557.5 384.2L558.0 384.2L558.5 384.1L559.0 384.1L559.5 384.0L560.0 384.0L560.5 384.0L561.0 383.9L561.5 383.9L562.0 383.8L562.5 383.8L563.0 383.7L563.5 383.7L564.0 383.6L564.5 383.6L565.0 383.5L565.5 383.5L566.0 383.4L566.5 383.3L567.0 383.3L567.5 383.2L568.0 383.2L568.5 383.1L569.0 383.1L569.5 383.0L570.0 382.9L570.5 382.9L571.0 382.8L571.5 382.8L572.0 382.7L572.5 382.6L573.0 382.6L573.5 382.5L574.0 382.5L574.5 382.4L575.0 382.3L575.5 382.3L576.0 382.2L576.5 382.1L577.0 382.1L577.5 382.0L578.0 381.9L578.5 381.9L579.0 381.8L579.5 381.7L580.0 381.7L580.5 381.6L581.0 381.5L581.5 381.4L582.0 381.4L582.5 381.3L583.0 381.2L583.5 381.2L584.0 381.1L584.5 381.0L585.0 380.9L585.5 380.9L586.0 380.8L586.5 380.7L587.0 380.6L587.5 380.6L588.0 380.5L588.5 380.4L589.0 380.3L589.5 380.2L590.0 380.1L590.5 380.1L591.0 380.0L591.5 379.9L592.0 379.8L592.5 379.7L593.0 379.6L593.5 379.5L594.0 379.4L594.5 379.3L595.0 379.2L595.5 379.0L596.0 378.9L596.5 378.8L597.0 378.7L597.5 378.6L598.0 378.4L598.5 378.3L599.0 378.1L599.5 378.0L600.0 377.8L600.5 377.6L601.0 377.4L601.5 377.2L602.0 376.9L602.5 376.7L603.0 376.4L603.5 376.0L604.0 375.7L604.5 375.3L605.0 374.8L605.5 374.3L606.0 373.8L606.5 373.2L607.0 372.5L607.5 371.8L608.0 371.0L608.5 370.1L609.0 369.1L609.5 368.1L610.0 367.0L610.5 365.8L611.0 364.6L611.5 363.2L612.0 361.8L612.5 360.3L613.0 358.7L613.5 357.1L614.0 355.4L614.5 353.7L615.0 351.9L615.5 350.1L616.0 348.2L616.5 346.4L617.0 344.5L617.5 342.7L618.0 340.9L618.5 339.1L619.0 337.4L619.5 335.8L620.0 334.2L620.5 332.8L621.0 331.4L621.5 330.2L622.0 329.1L622.5 328.2L623.0 327.4L623.5 326.7L624.0 326.2L624.5 325.8L625.0 325.6L625.5 325.5L626.0 325.6L626.5 325.8L627.0 326.1L627.5 326.5L628.0 327.0L628.5 327.6L629.0 328.2L629.5 329.0L630.0 329.8L630.5 330.6L631.0 331.5L631.5 332.4L632.0 333.2L632.5 334.1L633.0 334.9L633.5 335.7L634.0 336.5L634.5 337.2L635.0 337.9L635.5 338.4L636.0 339.0L636.5 339.4L637.0 339.8L637.5 340.1L638.0 340.4L638.5 340.6L639.0 340.7L639.5 340.7L640.0 340.7L640.5 340.6L641.0 340.4L641.5 340.2L642.0 339.9L642.5 339.6L643.0 339.3L643.5 338.9L644.0 338.5L644.5 338.1L645.0 337.7L645.5 337.3L646.0 336.9L646.5 336.5L647.0 336.1L647.5 335.8L648.0 335.5L648.5 335.2L649.0 334.9L649.5 334.7L650.0 334.6L650.5 334.4L651.0 334.4L651.5 334.4L652.0 334.4L652.5 334.5L653.0 334.6L653.5 334.8L654.0 335.0L654.5 335.3L655.0 335.7L655.5 336.1L656.0 336.5L656.5 337.1L657.0 337.6L657.5 338.2L658.0 338.8L658.5 339.5L659.0 340.2L659.5 341.0L660.0 341.8L660.5 342.6L661.0 343.4L661.5 344.2L662.0 345.1L662.5 346.0L663.0 346.9L663.5 347.8L664.0 348.6L664.5 349.5L665.0 350.4L665.5 351.3L666.0 352.2L666.5 353.1L667.0 353.9L667.5 354.7L668.0 355.6L668.5 356.4L669.0 357.1L669.5 357.9L670.0 358.6L670.5 359.3L671.0 360.0L671.5 360.7L672.0 361.3L672.5 361.9L673.0 362.5L673.5 363.0L674.0 363.6L674.5 364.0L675.0 364.5L675.5 365.0L676.0 365.4L676.5 365.8L677.0 366.1L677.5 366.5L678.0 366.8L678.5 367.1L679.0 367.3L679.5 367.6L680.0 367.8L680.5 368.1L681.0 368.3L681.5 368.4L682.0 368.6L682.5 368.8L683.0 368.9L683.5 369.0L684.0 369.1L684.5 369.2L685.0 369.3L685.5 369.4L686.0 369.5L686.5 369.5L687.0 369.6L687.5 369.6L688.0 369.7L688.5 369.7L689.0 369.7L689.5 369.8L690.0 369.8L690.5 369.8L691.0 369.8L691.5 369.8L692.0 369.8L692.5 369.8L693.0 369.8L693.5 369.8L694.0 369.8L694.5 369.8L695.0 369.8L695.5 369.8L696.0 369.8L696.5 369.8L697.0 369.8L697.5 369.8L698.0 369.8L698.5 369.8L699.0 369.8L699.5 369.8L700.0 369.8L700.5 369.8L701.0 369.8L701.5 369.8L702.0 369.8L702.5 369.8L703.0 369.8L703.5 369.8L704.0 369.8L704.5 369.8L705.0 369.8L705.5 369.8L706.0 369.8L706.5 369.8L707.0 369.8L707.5 369.8L708.0 369.8L708.5 369.8L709.0 369.8L709.5 369.8L710.0 369.8L710.5 369.8L711.0 369.8L711.5 369.8L712.0 369.8L712.5 369.8L713.0 369.8L713.5 369.9L714.0 369.9L714.5 369.9L715.0 369.9L715.5 369.9L716.0 369.9L716.5 369.9L717.0 369.9L717.5 369.9L718.0 369.9L718.5 369.9L719.0 369.9L719.5 369.9L720.0 369.9L720.5 369.9L721.0 369.9L721.5 369.9L722.0 369.9L722.5 370.0L723.0 370.0L723.5 370.0L724.0 370.0L724.5 370.0L725.0 370.0L725.5 370.0L726.0 370.1L726.5 370.1L727.0 370.1L727.5 370.1L728.0 370.2L728.5 370.2L729.0 370.2L729.5 370.2L730.0 370.3L730.5 370.3L731.0 370.3L731.5 370.4L732.0 370.4L732.5 370.4L733.0 370.5L733.5 370.5L734.0 370.5L734.5 370.6L735.0 370.6L735.5 370.6L736.0 370.7L736.5 370.7L737.0 370.8L737.5 370.8L738.0 370.8L738.5 370.9L739.0 370.9L739.5 371.0L740.0 371.0L740.5 371.1L741.0 371.1L741.5 371.1L742.0 371.2L742.5 371.2L743.0 371.3L743.5 371.3L744.0 371.4L744.5 371.4L745.0 371.5L745.5 371.5L746.0 371.6L746.5 371.6L747.0 371.7L747.5 371.7L748.0 371.8L748.5 371.8L749.0 371.9L749.5 371.9L750.0 372.0L750.5 372.0L751.0 372.1L751.5 372.1L752.0 372.1L752.5 372.2L753.0 372.2L753.5 372.3L754.0 372.3L754.5 372.4L755.0 372.4L755.5 372.5L756.0 372.5L756.5 372.6L757.0 372.6L757.5 372.7L758.0 372.7L758.5 372.8L759.0 372.8L759.5 372.9L760.0 372.9L760.5 373.0L761.0 373.0L761.5 373.1L762.0 373.1L762.5 373.1L763.0 373.2L763.5 373.2L764.0 373.3L764.5 373.3L765.0 373.4L765.5 373.4L766.0 373.5L766.5 373.5L767.0 373.6L767.5 373.6L768.0 373.7L768.5 373.7L769.0 373.7L769.5 373.8L770.0 373.8L770.5 373.9L771.0 373.9L771.5 374.0L772.0 374.0L772.5 374.1L773.0 374.1L773.5 374.2L774.0 374.2L774.5 374.3L775.0 374.3L775.5 374.4L776.0 374.5L776.5 374.5L777.0 374.6L777.5 374.6L778.0 374.7L778.5 374.7L779.0 374.8L779.5 374.8L780.0 374.9L780.5 374.9L781.0 375.0L781.5 375.0L782.0 375.1L782.5 375.1L783.0 375.2L783.5 375.3L784.0 375.3L784.5 375.4L785.0 375.4L785.5 375.5L786.0 375.5L786.5 375.6L787.0 375.7L787.5 375.7L788.0 375.8L788.5 375.8L789.0 375.9L789.5 375.9L790.0 376.0L790.5 376.1L791.0 376.1L791.5 376.2L792.0 376.2L792.5 376.3L793.0 376.4L793.5 376.4L794.0 376.5L794.5 376.5L795.0 376.6L795.5 376.7L796.0 376.7L796.5 376.8L797.0 376.8L797.5 376.9L798.0 377.0L798.5 377.0L799.0 377.1L799.5 377.2L800.0 377.2L800.5 377.3L801.0 377.4L801.5 377.4L802.0 377.5L802.5 377.6L803.0 377.7L803.5 377.7L804.0 377.8L804.5 377.9L805.0 377.9L805.5 378.0L806.0 378.1L806.5 378.2L807.0 378.2L807.5 378.3L808.0 378.4L808.5 378.5L809.0 378.5L809.5 378.6L810.0 378.7L810.5 378.7L811.0 378.8L811.5 378.9L812.0 379.0L812.5 379.0L813.0 379.1L813.5 379.2L814.0 379.3L814.5 379.3L815.0 379.4L815.5 379.5L816.0 379.5L816.5 379.6L817.0 379.7L817.5 379.7L818.0 379.8L818.5 379.9L819.0 380.0L819.5 380.0L820.0 380.1L820.5 380.2L821.0 380.2L821.5 380.3L822.0 380.4L822.5 380.4L823.0 380.5L823.5 380.6L824.0 380.6L824.5 380.7L825.0 380.8L825.5 380.8L826.0 380.9L826.5 381.0L827.0 381.1L827.5 381.1L828.0 381.2L828.5 381.3L829.0 381.3L829.5 381.4L830.0 381.5L830.5 381.5L831.0 381.6L831.5 381.7L832.0 381.7L832.5 381.8L833.0 381.8L833.5 381.9L834.0 382.0L834.5 382.0L835.0 382.1L835.5 382.1L836.0 382.2L836.5 382.2L837.0 382.3L837.5 382.3L838.0 382.4L838.5 382.4L839.0 382.5L839.5 382.5L840.0 382.5L840.5 382.6L841.0 382.6L841.5 382.6L842.0 382.7L842.5 382.7L843.0 382.7L843.5 382.7L844.0 382.7L844.5 382.8L845.0 382.8L845.5 382.8L846.0 382.8L846.5 382.8L847.0 382.8L847.5 382.8L848.0 382.8L848.5 382.8L849.0 382.8L849.5 382.8L850.0 382.8L850.5 382.7L851.0 382.7L851.5 382.7L852.0 382.7L852.5 382.6L853.0 382.6L853.5 382.5L854.0 382.5L854.5 382.4L855.0 382.3L855.5 382.2L856.0 382.1L856.5 382.0L857.0 381.9L857.5 381.8L858.0 381.6L858.5 381.4L859.0 381.2L859.5 381.0L860.0 380.7L860.5 380.5L861.0 380.1L861.5 379.8L862.0 379.3L862.5 378.9L863.0 378.3L863.5 377.8L864.0 377.1L864.5 376.4L865.0 375.5L865.5 374.6L866.0 373.6L866.5 372.5L867.0 371.3L867.5 369.9L868.0 368.5L868.5 366.9L869.0 365.2L869.5 363.3L870.0 361.4L870.5 359.3L871.0 357.0L871.5 354.7L872.0 352.3L872.5 349.7L873.0 347.1L873.5 344.4L874.0 341.6L874.5 338.9L875.0 336.0L875.5 333.2L876.0 330.5L876.5 327.8L877.0 325.1L877.5 322.6L878.0 320.2L878.5 317.9L879.0 315.8L879.5 313.9L880.0 312.3L880.5 310.8L881.0 309.6L881.5 308.7L882.0 308.0L882.5 307.6L883.0 307.4L883.5 307.5L884.0 307.9L884.5 308.5L885.0 309.3L885.5 310.4L886.0 311.7L886.5 313.1L887.0 314.7L887.5 316.4L888.0 318.2L888.5 320.1L889.0 322.1L889.5 324.0L890.0 326.1L890.5 328.0L891.0 330.0L891.5 331.9L892.0 333.8L892.5 335.6L893.0 337.3L893.5 338.9L894.0 340.4L894.5 341.8L895.0 343.1L895.5 344.3L896.0 345.3L896.5 346.3L897.0 347.1L897.5 347.9L898.0 348.6L898.5 349.1L899.0 349.6L899.5 350.0L900.0 350.4L900.5 350.7L901.0 350.9L901.5 351.1L902.0 351.2L902.5 351.3L903.0 351.4L903.5 351.5L904.0 351.5L904.5 351.5L905.0 351.5L905.5 351.6L906.0 351.6L906.5 351.6L907.0 351.6L907.5 351.6L908.0 351.6L908.5 351.7L909.0 351.7L909.5 351.8L910.0 351.8L910.5 351.9L911.0 352.0L911.5 352.1L912.0 352.2L912.5 352.4L913.0 352.6L913.5 352.7L914.0 352.9L914.5 353.1L915.0 353.4L915.5 353.6L916.0 353.9L916.5 354.1L917.0 354.4L917.5 354.7L918.0 355.0L918.5 355.4L919.0 355.7L919.5 356.1L920.0 356.4L920.5 356.8L921.0 357.2L921.5 357.6L922.0 358.0L922.5 358.4L923.0 358.9L923.5 359.3L924.0 359.8L924.5 360.2L925.0 360.7L925.5 361.1L926.0 361.6L926.5 362.1L927.0 362.6L927.5 363.1L928.0 363.6L928.5 364.0L929.0 364.5L929.5 365.0L930.0 365.5L930.5 366.0L931.0 366.5L931.5 367.0L932.0 367.5L932.5 368.0L933.0 368.5L933.5 369.0L934.0 369.5L934.5 370.0L935.0 370.5L935.5 371.0L936.0 371.5L936.5 371.9L937.0 372.4L937.5 372.9L938.0 373.3L938.5 373.8L939.0 374.2L939.5 374.6L940.0 375.1L940.5 375.5L941.0 375.9L941.5 376.3L942.0 376.7L942.5 377.1L943.0 377.5L943.5 377.9L944.0 378.3L944.5 378.6L945.0 379.0L945.5 379.4L946.0 379.7L946.5 380.0L947.0 380.4L947.5 380.7L948.0 381.0L948.5 381.3L949.0 381.6L949.5 381.9L950.0 382.1L950.5 382.4L951.0 382.7L951.5 382.9L952.0 383.2L952.5 383.4L953.0 383.6L953.5 383.9L954.0 384.1L954.5 384.3L955.0 384.5L955.5 384.7L956.0 384.9L956.5 385.0L957.0 385.2L957.5 385.4L958.0 385.5L958.5 385.7L959.0 385.8L959.5 386.0L960.0 386.1L960.5 386.2L961.0 386.4L961.5 386.5L962.0 386.6L962.5 386.7L963.0 386.8L963.5 386.9L964.0 387.0L964.5 387.1L965.0 387.2L965.5 387.3L966.0 387.3L966.5 387.4L967.0 387.5L967.5 387.6L968.0 387.6L968.5 387.7L969.0 387.7L969.5 387.8L970.0 387.8L970.5 387.9L971.0 387.9L971.5 388.0L972.0 388.0L972.5 388.1L973.0 388.1L973.5 388.1L974.0 388.2L974.5 388.2L975.0 388.2L975.5 388.2L976.0 388.3L976.5 388.3L977.0 388.3L977.5 388.3L978.0 388.3L978.5 388.4L979.0 388.4L979.5 388.4L980.0 388.4L980.5 388.4L981.0 388.4L981.5 388.4L982.0 388.5L982.5 388.5L983.0 388.5L983.5 388.5L984.0 388.5L984.5 388.5L985.0 388.5L985.5 388.5L986.0 388.5L986.5 388.5L987.0 388.5L987.5 388.5L988.0 388.5L988.5 388.5L989.0 388.6L989.5 388.6L990.0 388.6L990.5 388.6L991.0 388.6L991.5 388.6L992.0 388.6L992.5 388.6L993.0 388.6L993.5 388.6L994.0 388.6L994.5 388.6L995.0 388.6L995.5 388.6L996.0 388.6L996.5 388.6L997.0 388.6L997.5 388.6L998.0 388.6L998.5 388.6L999.0 388.6L999.5 388.6L1000.0 388.6L1000.5 388.6L1001.0 388.6L1001.5 388.6L1002.0 388.6L1002.5 388.6L1003.0 388.6L1003.5 388.6L1004.0 388.6L1004.5 388.6L1005.0 388.6L1005.5 388.6L1006.0 388.6L1006.5 388.6L1007.0 388.6L1007.5 388.6L1008.0 388.6L1008.5 388.6L1009.0 388.6L1009.5 388.6L1010.0 388.6L1010.5 388.6" stroke="#ff0080" stroke-width="3.4"/>
</g>
<g id="panel-b" fill="none" stroke-linejoin="round">
<path d="M55.0 764.3L55.8 764.0L56.6 764.3L57.4 764.3L58.2 764.3L59.0 764.2L59.8 764.3L60.6 763.8L61.4 764.3L62.2 764.3L63.0 764.3L63.8 762.2L64.6 762.7L65.4 764.0L66.2 763.4L67.0 764.3L67.8 764.1L68.6 763.2L69.4 762.7L70.2 763.2L71.0 764.3L71.8 764.2L72.6 764.3L73.4 763.6L74.2 762.8L75.0 763.0L75.8 763.3L76.6 762.3L77.4 763.1L78.2 764.2L79.0 763.8L79.8 763.8L80.6 764.3L81.4 763.9L82.2 764.3L83.0 763.0L83.8 762.6L84.6 762.2L85.4 763.8L86.2 764.3L87.0 764.3L87.8 764.3L88.6 764.3L89.4 764.3L90.2 763.2L91.0 764.3L91.8 764.2L92.6 764.3L93.4 764.3L94.2 763.7L95.0 763.9L95.8 764.0L96.6 764.3L97.4 764.3L98.2 764.2L99.0 764.3L99.8 763.9L100.6 763.9L101.4 763.6L102.2 764.3L103.0 763.0L103.8 763.0L104.6 764.1L105.4 764.2L106.2 764.3L107.0 761.7L107.8 763.0L108.6 764.3L109.4 764.0L110.2 764.3L111.0 761.4L111.8 761.5L112.6 762.8L113.4 762.9L114.2 764.3L115.0 764.2L115.8 764.3L116.6 764.0L117.4 764.3L118.2 763.2L119.0 763.0L119.8 763.4L120.6 764.0L121.4 763.4L122.2 763.5L123.0 763.6L123.8 763.0L124.6 762.7L125.4 762.8L126.2 762.5L127.0 761.9L127.8 761.8L128.6 762.1L129.4 761.7L130.2 759.4L131.0 761.1L131.8 760.4L132.6 760.6L133.4 759.6L134.2 759.6L135.0 757.8L135.8 757.2L136.6 759.8L137.4 760.3L138.2 757.8L139.0 755.1L139.8 756.3L140.6 757.0L141.4 753.7L142.2 750.6L143.0 751.0L143.8 749.7L144.6 746.9L145.4 748.8L146.2 748.7L147.0 744.4L147.8 743.4L148.6 745.7L149.4 744.1L150.2 738.9L151.0 735.2L151.8 738.4L152.6 736.1L153.4 733.8L154.2 735.5L155.0 731.4L155.8 730.8L156.6 731.8L157.4 734.4L158.2 733.1L159.0 731.8L159.8 735.8L160.6 729.7L161.4 724.0L162.2 724.7L163.0 726.3L163.8 726.0L164.6 721.3L165.4 720.3L166.2 721.9L167.0 725.3L167.8 724.4L168.6 724.7L169.4 725.4L170.2 719.6L171.0 715.8L171.8 713.0L172.6 707.7L173.4 699.7L174.2 692.2L175.0 690.2L175.8 684.5L176.6 679.7L177.4 676.3L178.2 666.6L179.0 661.8L179.8 657.6L180.6 651.2L181.4 643.8L182.2 631.1L183.0 626.3L183.8 622.7L184.6 616.4L185.4 612.7L186.2 606.7L187.0 593.9L187.8 578.4L188.6 573.3L189.4 573.0L190.2 564.8L191.0 556.1L191.8 547.9L192.6 538.3L193.4 531.5L194.2 522.5L195.0 516.6L195.8 511.2L196.6 506.3L197.4 498.7L198.2 490.4L199.0 482.4L199.8 474.2L200.6 466.9L201.4 456.8L202.2 455.2L203.0 453.3L203.8 447.2L204.6 438.5L205.4 427.2L206.2 423.7L207.0 427.0L207.8 423.3L208.6 425.3L209.4 424.7L210.2 422.4L211.0 435.4L211.8 427.5L212.6 417.5L213.4 430.9L214.2 438.6L215.0 440.8L215.8 446.0L216.6 455.3L217.4 463.9L218.2 465.5L219.0 470.6L219.8 476.8L220.6 485.8L221.4 491.8L222.2 503.2L223.0 518.3L223.8 531.2L224.6 545.0L225.4 547.2L226.2 556.7L227.0 569.0L227.8 577.2L228.6 591.0L229.4 601.6L230.2 610.2L231.0 620.0L231.8 626.6L232.6 633.2L233.4 644.6L234.2 656.0L235.0 662.1L235.8 668.0L236.6 673.7L237.4 675.2L238.2 681.9L239.0 692.5L239.8 699.7L240.6 706.0L241.4 711.7L242.2 716.1L243.0 719.0L243.8 721.5L244.6 722.8L245.4 725.6L246.2 729.7L247.0 733.2L247.8 732.6L248.6 732.0L249.4 733.6L250.2 734.8L251.0 736.7L251.8 739.4L252.6 741.6L253.4 738.6L254.2 742.1L255.0 745.0L255.8 741.7L256.6 743.3L257.4 745.0L258.2 744.3L259.0 746.6L259.8 748.1L260.6 748.6L261.4 750.3L262.2 750.2L263.0 749.7L263.8 748.9L264.6 748.3L265.4 750.6L266.2 748.8L267.0 745.6L267.8 747.6L268.6 749.9L269.4 751.3L270.2 750.5L271.0 750.2L271.8 753.5L272.6 753.5L273.4 748.1L274.2 751.9L275.0 754.8L275.8 752.5L276.6 754.4L277.4 753.7L278.2 755.5L279.0 757.5L279.8 754.7L280.6 755.6L281.4 758.4L282.2 758.4L283.0 758.9L283.8 757.6L284.6 758.5L285.4 759.6L286.2 759.8L287.0 760.1L287.8 760.0L288.6 759.8L289.4 760.1L290.2 761.0L291.0 761.0L291.8 760.7L292.6 761.6L293.4 761.4L294.2 762.1L295.0 761.0L295.8 761.1L296.6 761.0L297.4 762.9L298.2 763.0L299.0 762.2L299.8 761.4L300.6 762.7L301.4 763.8L302.2 763.9L303.0 763.8L303.8 762.8L304.6 762.3L305.4 763.9L306.2 763.8L307.0 764.1L307.8 763.1L308.6 764.0L309.4 764.2L310.2 764.3L311.0 764.0L311.8 763.6L312.6 764.3L313.4 764.3L314.2 764.3L315.0 763.1L315.8 762.8L316.6 764.0L317.4 762.6L318.2 762.0L319.0 764.3L319.8 764.2L320.6 763.5L321.4 764.3L322.2 764.3L323.0 764.3L323.8 763.9L324.6 763.9L325.4 764.3L326.2 764.3L327.0 763.9L327.8 764.0L328.6 764.3L329.4 764.3L330.2 764.3L331.0 764.3L331.8 764.3L332.6 764.1L333.4 763.6L334.2 764.0L335.0 764.2L335.8 764.1L336.6 764.0L337.4 764.3L338.2 764.3L339.0 763.4L339.8 764.2L340.6 763.6L341.4 764.0L342.2 763.9L343.0 764.0L343.8 764.1L344.6 764.3L345.4 764.3L346.2 764.3L347.0 764.1L347.8 764.3L348.6 764.3L349.4 763.0L350.2 762.8L351.0 764.3L351.8 764.3L352.6 764.3L353.4 764.3L354.2 763.6L355.0 764.3L355.8 764.3L356.6 763.8L357.4 764.0L358.2 764.3L359.0 764.3L359.8 764.0L360.6 764.2L361.4 763.1L362.2 763.0L363.0 764.3L363.8 764.3L364.6 764.3L365.4 764.2L366.2 763.9L367.0 762.6L367.8 762.6L368.6 763.1L369.4 763.1L370.2 763.8L371.0 764.3L371.8 764.1L372.6 764.3L373.4 764.3L374.2 763.9L375.0 764.2L375.8 764.2L376.6 764.3L377.4 764.3L378.2 764.3L379.0 764.3L379.8 764.3L380.6 763.9L381.4 764.3L382.2 764.2L383.0 764.3L383.8 764.3L384.6 764.2L385.4 764.3L386.2 763.6L387.0 764.3L387.8 764.2L388.6 762.5L389.4 764.3L390.2 764.3L391.0 764.3L391.8 763.6L392.6 763.7L393.4 764.1L394.2 764.3L395.0 764.3L395.8 764.3L396.6 764.0L397.4 764.1L398.2 764.3L399.0 764.0L399.8 764.3L400.6 764.1L401.4 763.8L402.2 763.9L403.0 764.3L403.8 764.1L404.6 763.6L405.4 764.3L406.2 764.0L407.0 764.1L407.8 764.3L408.6 764.1L409.4 764.3L410.2 763.9L411.0 764.2L411.8 764.3L412.6 763.4L413.4 763.4L414.2 763.3L415.0 763.5L415.8 763.4L416.6 762.3L417.4 763.5L418.2 763.4L419.0 763.1L419.8 764.3L420.6 764.3L421.4 764.1L422.2 764.1L423.0 764.3L423.8 764.3L424.6 763.6L425.4 763.9L426.2 763.8L427.0 763.7L427.8 763.9L428.6 764.3L429.4 764.1L430.2 763.5L431.0 763.7L431.8 764.2L432.6 763.9L433.4 763.8L434.2 763.6L435.0 763.5L435.8 763.3L436.6 763.8L437.4 763.2L438.2 762.0L439.0 762.1L439.8 762.9L440.6 762.9L441.4 762.7L442.2 762.9L443.0 759.9L443.8 761.7L444.6 761.7L445.4 762.3L446.2 759.9L447.0 760.1L447.8 759.9L448.6 761.5L449.4 761.2L450.2 760.9L451.0 760.2L451.8 760.9L452.6 760.6L453.4 759.0L454.2 758.0L455.0 760.2L455.8 760.1L456.6 757.2L457.4 757.4L458.2 759.5L459.0 759.3L459.8 757.6L460.6 758.5L461.4 758.9L462.2 759.0L463.0 757.9L463.8 758.8L464.6 758.5L465.4 758.7L466.2 758.9L467.0 758.7L467.8 757.7L468.6 757.1L469.4 758.9L470.2 758.9L471.0 757.9L471.8 758.0L472.6 757.9L473.4 759.2L474.2 759.3L475.0 760.0L475.8 760.1L476.6 759.1L477.4 760.0L478.2 760.3L479.0 760.4L479.8 760.3L480.6 760.1L481.4 760.4L482.2 761.0L483.0 761.7L483.8 761.2L484.6 761.5L485.4 762.1L486.2 761.6L487.0 762.4L487.8 762.1L488.6 762.3L489.4 762.7L490.2 762.1L491.0 763.0L491.8 762.9L492.6 761.8L493.4 762.6L494.2 763.1L495.0 763.5L495.8 763.5L496.6 763.6L497.4 763.6L498.2 762.6L499.0 762.0L499.8 763.8L500.6 762.0L501.4 761.8L502.2 764.2L503.0 764.3L503.8 764.2L504.6 764.3L505.4 762.3L506.2 763.9L507.0 764.1L507.8 764.3L508.6 764.3L509.4 764.2L510.2 764.3L511.0 764.1L511.8 763.8L512.6 764.3L513.4 764.3L514.2 764.3L515.0 764.3L515.8 764.3L516.6 764.2L517.4 764.3L518.2 764.0L519.0 763.8L519.8 764.3L520.6 764.3L521.4 764.3L522.2 763.6L523.0 762.7L523.8 762.3" stroke="#ff0000" stroke-width="1.2"/>
<path d="M540.8 763.3L541.5 763.6L542.2 763.5L543.0 762.7L543.7 763.1L544.4 763.5L545.1 763.7L545.8 764.0L546.6 764.2L547.3 763.4L548.0 764.1L548.7 763.4L549.4 763.0L550.2 763.7L550.9 763.7L551.6 764.3L552.3 762.8L553.0 762.9L553.8 764.0L554.5 763.8L555.2 764.1L555.9 762.7L556.6 762.2L557.4 763.3L558.1 764.3L558.8 764.2L559.5 763.4L560.2 762.0L561.0 763.3L561.7 764.3L562.4 763.4L563.1 764.0L563.8 763.8L564.6 764.0L565.3 763.2L566.0 763.4L566.7 762.7L567.4 763.7L568.2 763.0L568.9 763.3L569.6 761.5L570.3 761.8L571.0 760.3L571.8 761.8L572.5 762.2L573.2 761.7L573.9 761.9L574.6 761.8L575.4 761.6L576.1 760.2L576.8 759.8L577.5 761.0L578.2 760.7L579.0 760.6L579.7 760.4L580.4 759.9L581.1 760.0L581.8 759.8L582.6 759.6L583.3 759.4L584.0 757.7L584.7 755.1L585.4 756.5L586.2 757.7L586.9 755.0L587.6 753.8L588.3 755.9L589.0 755.0L589.8 753.5L590.5 751.0L591.2 750.1L591.9 747.8L592.6 747.5L593.4 747.8L594.1 746.2L594.8 742.8L595.5 739.9L596.2 740.7L597.0 736.8L597.7 732.7L598.4 733.6L599.1 734.0L599.8 732.3L600.6 729.5L601.3 725.3L602.0 724.1L602.7 723.2L603.4 721.4L604.2 719.8L604.9 716.7L605.6 711.3L606.3 714.1L607.0 715.7L607.8 712.0L608.5 709.9L609.2 709.9L609.9 710.3L610.6 709.7L611.4 707.6L612.1 705.0L612.8 706.0L613.5 705.1L614.2 704.8L615.0 707.9L615.7 706.0L616.4 702.4L617.1 703.4L617.8 701.9L618.6 699.1L619.3 702.5L620.0 705.7L620.7 700.6L621.4 696.2L622.2 699.8L622.9 704.0L623.6 703.2L624.3 701.3L625.0 702.3L625.8 700.6L626.5 699.3L627.2 700.8L627.9 695.9L628.6 694.1L629.4 695.1L630.1 691.9L630.8 689.5L631.5 690.6L632.2 691.4L633.0 691.9L633.7 688.3L634.4 685.3L635.1 690.6L635.8 691.9L636.6 688.7L637.3 688.3L638.0 686.8L638.7 685.9L639.4 691.3L640.2 695.1L640.9 697.8L641.6 698.6L642.3 697.6L643.0 694.9L643.8 696.8L644.5 707.4L645.2 710.8L645.9 709.0L646.6 712.3L647.4 716.2L648.1 716.9L648.8 717.2L649.5 719.2L650.2 723.5L651.0 724.2L651.7 725.9L652.4 730.2L653.1 733.6L653.8 736.2L654.6 735.0L655.3 738.3L656.0 741.2L656.7 739.6L657.4 741.7L658.2 744.0L658.9 746.6L659.6 746.6L660.3 744.9L661.0 747.6L661.8 752.6L662.5 755.4L663.2 752.8L663.9 750.1L664.6 751.9L665.4 753.3L666.1 755.1L666.8 757.5L667.5 757.3L668.2 757.0L669.0 759.3L669.7 759.0L670.4 756.0L671.1 758.7L671.8 758.1L672.6 759.0L673.3 759.4L674.0 758.4L674.7 759.1L675.4 758.7L676.2 759.7L676.9 758.0L677.6 757.3L678.3 759.6L679.0 759.6L679.8 759.4L680.5 759.0L681.2 759.5L681.9 759.5L682.6 759.0L683.4 757.9L684.1 756.3L684.8 757.2L685.5 757.4L686.2 757.7L687.0 756.5L687.7 756.9L688.4 756.3L689.1 757.3L689.8 759.7L690.6 760.1L691.3 760.1L692.0 757.7L692.7 755.4L693.4 756.7L694.2 758.3L694.9 757.8L695.6 758.6L696.3 759.6L697.0 758.5L697.8 759.0L698.5 758.9L699.2 756.7L699.9 757.5L700.6 758.7L701.4 759.6L702.1 755.9L702.8 755.8L703.5 756.1L704.2 753.7L705.0 756.0L705.7 758.2L706.4 756.4L707.1 752.7L707.8 755.1L708.6 757.6L709.3 755.1L710.0 754.3L710.7 753.1L711.4 754.2L712.2 755.9L712.9 756.7L713.6 754.8L714.3 754.1L715.0 759.4L715.8 758.6L716.5 755.9L717.2 753.3L717.9 753.5L718.6 755.8L719.4 754.5L720.1 752.4L720.8 753.1L721.5 753.7L722.2 752.9L723.0 754.5L723.7 754.9L724.4 754.3L725.1 755.5L725.8 753.8L726.6 754.3L727.3 754.2L728.0 751.0L728.7 752.5L729.4 754.5L730.2 754.5L730.9 752.7L731.6 751.3L732.3 751.3L733.0 750.8L733.8 751.7L734.5 752.5L735.2 753.7L735.9 752.8L736.6 750.3L737.4 751.7L738.1 750.1L738.8 748.5L739.5 753.6L740.2 754.2L741.0 752.2L741.7 750.7L742.4 745.2L743.1 747.1L743.8 750.1L744.6 749.6L745.3 749.0L746.0 747.6L746.7 746.2L747.4 748.2L748.2 747.6L748.9 747.4L749.6 749.0L750.3 746.0L751.0 745.2L751.8 747.9L752.5 749.7L753.2 748.9L753.9 747.9L754.6 745.5L755.4 747.1L756.1 748.0L756.8 745.2L757.5 745.0L758.2 745.1L759.0 743.6L759.7 743.5L760.4 744.3L761.1 744.2L761.8 742.8L762.6 746.2L763.3 746.8L764.0 744.5L764.7 746.6L765.4 747.6L766.2 749.8L766.9 749.0L767.6 747.3L768.3 746.1L769.0 747.2L769.8 745.9L770.5 743.5L771.2 745.8L771.9 747.3L772.6 748.1L773.4 748.7L774.1 748.4L774.8 746.9L775.5 746.5L776.2 748.5L777.0 748.8L777.7 748.1L778.4 747.6L779.1 743.9L779.8 743.4L780.6 746.5L781.3 749.8L782.0 751.5L782.7 751.7L783.4 748.9L784.2 747.8L784.9 748.8L785.6 748.8L786.3 748.9L787.0 746.3L787.8 747.6L788.5 750.1L789.2 750.5L789.9 749.0L790.6 749.5L791.4 752.4L792.1 753.1L792.8 753.7L793.5 751.4L794.2 746.3L795.0 748.5L795.7 750.8L796.4 749.4L797.1 752.3L797.8 753.3L798.6 752.3L799.3 753.1L800.0 750.5L800.7 752.3L801.4 754.5L802.2 751.8L802.9 753.3L803.6 753.7L804.3 752.1L805.0 752.3L805.8 753.1L806.5 752.6L807.2 755.9L807.9 755.1L808.6 749.8L809.4 750.6L810.1 752.4L810.8 755.6L811.5 757.2L812.2 756.6L813.0 757.4L813.7 755.3L814.4 755.8L815.1 757.3L815.8 758.8L816.6 759.0L817.3 756.7L818.0 757.5L818.7 758.6L819.4 755.6L820.2 756.3L820.9 760.0L821.6 759.7L822.3 757.0L823.0 753.6L823.8 754.8L824.5 758.3L825.2 759.4L825.9 757.3L826.6 758.0L827.4 757.6L828.1 754.9L828.8 756.7L829.5 757.7L830.2 756.9L831.0 755.9L831.7 758.1L832.4 758.6L833.1 757.8L833.8 758.3L834.6 758.4L835.3 758.6L836.0 758.1L836.7 761.6L837.4 761.4L838.2 757.6L838.9 753.9L839.6 754.6L840.3 755.3L841.0 756.4L841.8 757.5L842.5 756.1L843.2 756.8L843.9 757.9L844.6 755.8L845.4 754.2L846.1 755.0L846.8 753.2L847.5 751.3L848.2 749.4L849.0 748.0L849.7 748.7L850.4 747.4L851.1 745.9L851.8 745.8L852.6 744.8L853.3 741.4L854.0 738.5L854.7 736.3L855.4 738.4L856.2 739.5L856.9 736.2L857.6 734.0L858.3 732.8L859.0 732.6L859.8 729.4L860.5 727.2L861.2 729.3L861.9 726.4L862.6 722.1L863.4 724.4L864.1 724.0L864.8 723.6L865.5 722.7L866.2 721.4L867.0 724.3L867.7 724.3L868.4 724.1L869.1 723.1L869.8 721.5L870.6 721.8L871.3 723.1L872.0 729.3L872.7 728.3L873.4 725.6L874.2 725.5L874.9 720.7L875.6 720.8L876.3 723.4L877.0 724.2L877.8 723.8L878.5 724.5L879.2 725.2L879.9 725.8L880.6 722.8L881.4 721.2L882.1 721.4L882.8 721.6L883.5 722.9L884.2 722.5L885.0 721.7L885.7 719.8L886.4 719.9L887.1 722.1L887.8 723.6L888.6 719.5L889.3 718.5L890.0 721.5L890.7 718.5L891.4 716.1L892.2 717.5L892.9 720.0L893.6 717.0L894.3 715.7L895.0 718.9L895.8 720.0L896.5 723.5L897.2 725.7L897.9 723.0L898.6 720.6L899.4 722.2L900.1 725.3L900.8 727.8L901.5 727.1L902.2 727.8L903.0 726.5L903.7 723.1L904.4 720.9L905.1 722.2L905.8 728.5L906.6 732.2L907.3 737.6L908.0 738.1L908.7 734.0L909.4 732.6L910.2 732.4L910.9 734.0L911.6 735.6L912.3 736.6L913.0 735.8L913.8 739.3L914.5 743.1L915.2 744.6L915.9 742.6L916.6 739.7L917.4 742.0L918.1 746.4L918.8 748.2L919.5 747.7L920.2 748.7L921.0 749.5L921.7 749.7L922.4 750.8L923.1 751.1L923.8 751.0L924.6 753.2L925.3 754.3L926.0 755.1L926.7 754.5L927.4 754.8L928.2 756.0L928.9 756.7L929.6 759.3L930.3 758.2L931.0 758.1L931.8 758.8L932.5 757.4L933.2 758.6L933.9 758.4L934.6 759.2L935.4 759.6L936.1 759.6L936.8 760.5L937.5 760.4L938.2 761.1L939.0 761.5L939.7 761.7L940.4 761.8L941.1 761.9L941.8 761.8L942.6 762.0L943.3 762.7L944.0 762.4L944.7 762.8L945.4 762.8L946.2 763.4L946.9 763.3L947.6 763.7L948.3 760.8L949.0 761.8L949.8 764.0L950.5 763.4L951.2 763.5L951.9 763.4L952.6 764.1L953.4 763.7L954.1 763.3L954.8 764.1L955.5 764.1L956.2 764.3L957.0 764.3L957.7 764.3L958.4 764.1L959.1 764.0L959.8 764.0L960.6 762.0L961.3 762.1L962.0 763.7L962.7 763.2L963.4 762.5L964.2 762.1L964.9 762.0L965.6 763.7L966.3 764.3L967.0 764.2L967.8 764.2L968.5 764.1L969.2 764.3L969.9 763.7L970.6 763.7L971.4 763.7L972.1 764.0L972.8 764.3L973.5 764.1L974.2 764.3L975.0 763.2L975.7 763.7L976.4 763.0L977.1 761.3L977.8 764.0L978.6 764.3L979.3 763.2L980.0 763.8L980.7 763.4L981.4 764.3L982.2 764.2L982.9 764.1L983.6 764.1L984.3 764.3L985.0 764.1L985.8 763.8L986.5 764.3L987.2 764.1L987.9 764.3L988.6 764.1L989.4 763.7L990.1 764.2L990.8 764.3L991.5 764.3L992.2 764.3L993.0 763.8L993.7 764.3L994.4 764.3L995.1 763.9L995.8 764.3L996.6 764.0L997.3 763.1L998.0 764.0L998.7 764.3L999.4 764.1L1000.2 763.2L1000.9 762.8L1001.6 763.4L1002.3 763.4L1003.0 763.7L1003.8 763.3L1004.5 763.5L1005.2 763.9L1005.9 764.3L1006.6 763.3L1007.4 764.3L1008.1 764.2L1008.8 764.3L1009.5 763.5" stroke="#ff0000" stroke-width="1.2"/>
<path d="M119.9 764.6L120.4 764.6L120.9 764.6L121.4 764.6L121.9 764.6L122.4 764.6L122.9 764.6L123.4 764.6L123.9 764.6L124.4 764.6L124.9 764.6L125.4 764.6L125.9 764.5L126.4 764.5L126.9 764.5L127.4 764.5L127.9 764.5L128.4 764.4L128.9 764.4L129.4 764.4L129.9 764.3L130.4 764.3L130.9 764.2L131.4 764.1L131.9 764.0L132.4 763.9L132.9 763.8L133.4 763.7L133.9 763.5L134.4 763.4L134.9 763.2L135.4 763.0L135.9 762.7L136.4 762.5L136.9 762.2L137.4 761.8L137.9 761.5L138.4 761.0L138.9 760.6L139.4 760.1L139.9 759.6L140.4 759.1L140.9 758.5L141.4 757.8L141.9 757.2L142.4 756.5L142.9 755.7L143.4 754.9L143.9 754.2L144.4 753.3L144.9 752.5L145.4 751.6L145.9 750.8L146.4 749.9L146.9 749.0L147.4 748.2L147.9 747.3L148.4 746.5L148.9 745.7L149.4 745.0L149.9 744.3L150.4 743.7L150.9 743.1L151.4 742.6L151.9 742.1L152.4 741.7L152.9 741.5L153.4 741.3L153.9 741.1L154.4 741.1L154.9 741.2L155.4 741.3L155.9 741.5L156.4 741.8L156.9 742.2L157.4 742.7L157.9 743.2L158.4 743.8L158.9 744.5L159.4 745.2L159.9 745.9L160.4 746.7L160.9 747.5L161.4 748.4L161.9 749.2L162.4 750.1L162.9 751.0L163.4 751.8L163.9 752.7L164.4 753.5L164.9 754.3L165.4 755.1L165.9 755.9L166.4 756.6L166.9 757.3L167.4 758.0L167.9 758.6L168.4 759.2L168.9 759.7L169.4 760.2L169.9 760.7L170.4 761.1L170.9 761.5L171.4 761.9L171.9 762.2L172.4 762.5L172.9 762.8L173.4 763.0L173.9 763.2L174.4 763.4L174.9 763.6L175.4 763.7L175.9 763.9L176.4 764.0L176.9 764.1L177.4 764.1L177.9 764.2L178.4 764.3L178.9 764.3L179.4 764.4L179.9 764.4L180.4 764.4L180.9 764.5L181.4 764.5L181.9 764.5L182.4 764.5L182.9 764.5L183.4 764.6L183.9 764.6L184.4 764.6L184.9 764.6L185.4 764.6L185.9 764.6L186.4 764.6L186.9 764.6L187.4 764.6L187.9 764.6L188.4 764.6" stroke="#000080" stroke-width="1.5"/>
<path d="M135.2 764.6L135.7 764.5L136.2 764.5L136.7 764.5L137.2 764.5L137.7 764.5L138.2 764.5L138.7 764.5L139.2 764.5L139.7 764.5L140.2 764.4L140.7 764.4L141.2 764.4L141.7 764.4L142.2 764.3L142.7 764.3L143.2 764.3L143.7 764.2L144.2 764.2L144.7 764.2L145.2 764.1L145.7 764.1L146.2 764.0L146.7 763.9L147.2 763.9L147.7 763.8L148.2 763.7L148.7 763.6L149.2 763.5L149.7 763.4L150.2 763.3L150.7 763.1L151.2 763.0L151.7 762.8L152.2 762.7L152.7 762.5L153.2 762.3L153.7 762.0L154.2 761.8L154.7 761.5L155.2 761.3L155.7 760.9L156.2 760.6L156.7 760.3L157.2 759.9L157.7 759.5L158.2 759.0L158.7 758.5L159.2 758.0L159.7 757.4L160.2 756.8L160.7 756.2L161.2 755.5L161.7 754.8L162.2 754.0L162.7 753.2L163.2 752.3L163.7 751.3L164.2 750.3L164.7 749.2L165.2 748.1L165.7 746.9L166.2 745.6L166.7 744.2L167.2 742.8L167.7 741.2L168.2 739.6L168.7 737.9L169.2 736.1L169.7 734.2L170.2 732.3L170.7 730.2L171.2 728.0L171.7 725.7L172.2 723.3L172.7 720.8L173.2 718.1L173.7 715.4L174.2 712.5L174.7 709.5L175.2 706.4L175.7 703.2L176.2 699.8L176.7 696.4L177.2 692.8L177.7 689.0L178.2 685.2L178.7 681.2L179.2 677.0L179.7 672.8L180.2 668.4L180.7 664.0L181.2 659.3L181.7 654.6L182.2 649.8L182.7 644.8L183.2 639.8L183.7 634.6L184.2 629.3L184.7 624.0L185.2 618.5L185.7 613.0L186.2 607.4L186.7 601.7L187.2 596.0L187.7 590.2L188.2 584.3L188.7 578.5L189.2 572.5L189.7 566.6L190.2 560.7L190.7 554.7L191.2 548.8L191.7 542.9L192.2 537.0L192.7 531.2L193.2 525.4L193.7 519.7L194.2 514.0L194.7 508.4L195.2 503.0L195.7 497.6L196.2 492.4L196.7 487.3L197.2 482.3L197.7 477.5L198.2 472.9L198.7 468.4L199.2 464.1L199.7 460.1L200.2 456.2L200.7 452.5L201.2 449.1L201.7 445.9L202.2 442.9L202.7 440.2L203.2 437.7L203.7 435.5L204.2 433.5L204.7 431.8L205.2 430.4L205.7 429.3L206.2 428.5L206.7 427.9L207.2 427.6L207.7 427.6L208.2 427.9L208.7 428.5L209.2 429.4L209.7 430.5L210.2 431.9L210.7 433.6L211.2 435.6L211.7 437.8L212.2 440.3L212.7 443.0L213.2 446.0L213.7 449.2L214.2 452.6L214.7 456.3L215.2 460.2L215.7 464.3L216.2 468.6L216.7 473.1L217.2 477.7L217.7 482.5L218.2 487.5L218.7 492.6L219.2 497.8L219.7 503.2L220.2 508.7L220.7 514.2L221.2 519.9L221.7 525.6L222.2 531.4L222.7 537.2L223.2 543.1L223.7 549.0L224.2 555.0L224.7 560.9L225.2 566.9L225.7 572.8L226.2 578.7L226.7 584.6L227.2 590.4L227.7 596.2L228.2 601.9L228.7 607.6L229.2 613.2L229.7 618.7L230.2 624.2L230.7 629.5L231.2 634.8L231.7 640.0L232.2 645.0L232.7 650.0L233.2 654.8L233.7 659.5L234.2 664.1L234.7 668.6L235.2 673.0L235.7 677.2L236.2 681.3L236.7 685.3L237.2 689.2L237.7 692.9L238.2 696.5L238.7 700.0L239.2 703.3L239.7 706.6L240.2 709.7L240.7 712.6L241.2 715.5L241.7 718.2L242.2 720.9L242.7 723.4L243.2 725.8L243.7 728.1L244.2 730.3L244.7 732.3L245.2 734.3L245.7 736.2L246.2 738.0L246.7 739.7L247.2 741.3L247.7 742.8L248.2 744.3L248.7 745.6L249.2 746.9L249.7 748.1L250.2 749.3L250.7 750.3L251.2 751.4L251.7 752.3L252.2 753.2L252.7 754.0L253.2 754.8L253.7 755.5L254.2 756.2L254.7 756.9L255.2 757.5L255.7 758.0L256.2 758.5L256.7 759.0L257.2 759.5L257.7 759.9L258.2 760.3L258.7 760.6L259.2 761.0L259.7 761.3L260.2 761.5L260.7 761.8L261.2 762.1L261.7 762.3L262.2 762.5L262.7 762.7L263.2 762.8L263.7 763.0L264.2 763.1L264.7 763.3L265.2 763.4L265.7 763.5L266.2 763.6L266.7 763.7L267.2 763.8L267.7 763.9L268.2 763.9L268.7 764.0L269.2 764.1L269.7 764.1L270.2 764.2L270.7 764.2L271.2 764.3L271.7 764.3L272.2 764.3L272.7 764.3L273.2 764.4L273.7 764.4L274.2 764.4L274.7 764.4L275.2 764.5L275.7 764.5L276.2 764.5L276.7 764.5L277.2 764.5L277.7 764.5L278.2 764.5L278.7 764.5L279.2 764.5" stroke="#000080" stroke-width="1.5"/>
<path d="M218.8 764.6L219.3 764.6L219.8 764.6L220.3 764.6L220.8 764.6L221.3 764.6L221.8 764.6L222.3 764.6L222.8 764.6L223.3 764.6L223.8 764.6L224.3 764.6L224.8 764.6L225.3 764.6L225.8 764.6L226.3 764.6L226.8 764.6L227.3 764.6L227.8 764.6L228.3 764.6L228.8 764.5L229.3 764.5L229.8 764.5L230.3 764.5L230.8 764.5L231.3 764.5L231.8 764.5L232.3 764.5L232.8 764.4L233.3 764.4L233.8 764.4L234.3 764.4L234.8 764.3L235.3 764.3L235.8 764.3L236.3 764.2L236.8 764.2L237.3 764.1L237.8 764.1L238.3 764.0L238.8 763.9L239.3 763.9L239.8 763.8L240.3 763.7L240.8 763.6L241.3 763.5L241.8 763.4L242.3 763.3L242.8 763.1L243.3 763.0L243.8 762.8L244.3 762.7L244.8 762.5L245.3 762.3L245.8 762.1L246.3 761.9L246.8 761.7L247.3 761.5L247.8 761.3L248.3 761.0L248.8 760.8L249.3 760.5L249.8 760.3L250.3 760.0L250.8 759.7L251.3 759.4L251.8 759.1L252.3 758.8L252.8 758.5L253.3 758.2L253.8 757.9L254.3 757.6L254.8 757.2L255.3 756.9L255.8 756.6L256.3 756.3L256.8 756.0L257.3 755.8L257.8 755.5L258.3 755.2L258.8 755.0L259.3 754.7L259.8 754.5L260.3 754.3L260.8 754.1L261.3 753.9L261.8 753.8L262.3 753.6L262.8 753.5L263.3 753.4L263.8 753.4L264.3 753.3L264.8 753.3L265.3 753.3L265.8 753.3L266.3 753.4L266.8 753.5L267.3 753.5L267.8 753.7L268.3 753.8L268.8 754.0L269.3 754.1L269.8 754.3L270.3 754.5L270.8 754.8L271.3 755.0L271.8 755.3L272.3 755.5L272.8 755.8L273.3 756.1L273.8 756.4L274.3 756.7L274.8 757.0L275.3 757.3L275.8 757.6L276.3 757.9L276.8 758.2L277.3 758.6L277.8 758.9L278.3 759.2L278.8 759.5L279.3 759.7L279.8 760.0L280.3 760.3L280.8 760.6L281.3 760.8L281.8 761.1L282.3 761.3L282.8 761.5L283.3 761.8L283.8 762.0L284.3 762.2L284.8 762.4L285.3 762.5L285.8 762.7L286.3 762.9L286.8 763.0L287.3 763.2L287.8 763.3L288.3 763.4L288.8 763.5L289.3 763.6L289.8 763.7L290.3 763.8L290.8 763.9L291.3 764.0L291.8 764.0L292.3 764.1L292.8 764.1L293.3 764.2L293.8 764.2L294.3 764.3L294.8 764.3L295.3 764.3L295.8 764.4L296.3 764.4L296.8 764.4L297.3 764.4L297.8 764.5L298.3 764.5L298.8 764.5L299.3 764.5L299.8 764.5L300.3 764.5L300.8 764.5L301.3 764.6L301.8 764.6L302.3 764.6L302.8 764.6L303.3 764.6L303.8 764.6L304.3 764.6L304.8 764.6L305.3 764.6L305.8 764.6L306.3 764.6L306.8 764.6L307.3 764.6L307.8 764.6L308.3 764.6L308.8 764.6L309.3 764.6L309.8 764.6L310.3 764.6L310.8 764.6" stroke="#000080" stroke-width="1.5"/>
<path d="M567.7 764.6L568.2 764.6L568.7 764.6L569.2 764.6L569.7 764.6L570.2 764.6L570.7 764.6L571.2 764.6L571.7 764.6L572.2 764.6L572.7 764.6L573.2 764.5L573.7 764.5L574.2 764.5L574.7 764.5L575.2 764.5L575.7 764.5L576.2 764.4L576.7 764.4L577.2 764.4L577.7 764.3L578.2 764.3L578.7 764.2L579.2 764.1L579.7 764.1L580.2 764.0L580.7 763.9L581.2 763.8L581.7 763.6L582.2 763.5L582.7 763.3L583.2 763.1L583.7 762.9L584.2 762.7L584.7 762.4L585.2 762.1L585.7 761.8L586.2 761.4L586.7 761.0L587.2 760.6L587.7 760.1L588.2 759.6L588.7 759.0L589.2 758.4L589.7 757.8L590.2 757.1L590.7 756.3L591.2 755.5L591.7 754.7L592.2 753.8L592.7 752.9L593.2 751.9L593.7 750.9L594.2 749.9L594.7 748.8L595.2 747.7L595.7 746.5L596.2 745.3L596.7 744.2L597.2 743.0L597.7 741.8L598.2 740.6L598.7 739.4L599.2 738.2L599.7 737.1L600.2 736.0L600.7 734.9L601.2 733.9L601.7 732.9L602.2 732.1L602.7 731.2L603.2 730.5L603.7 729.8L604.2 729.3L604.7 728.8L605.2 728.4L605.7 728.1L606.2 728.0L606.7 727.9L607.2 727.9L607.7 728.1L608.2 728.3L608.7 728.7L609.2 729.1L609.7 729.7L610.2 730.3L610.7 731.1L611.2 731.9L611.7 732.7L612.2 733.7L612.7 734.7L613.2 735.7L613.7 736.8L614.2 738.0L614.7 739.1L615.2 740.3L615.7 741.5L616.2 742.7L616.7 743.9L617.2 745.1L617.7 746.2L618.2 747.4L618.7 748.5L619.2 749.6L619.7 750.7L620.2 751.7L620.7 752.7L621.2 753.6L621.7 754.5L622.2 755.4L622.7 756.2L623.2 756.9L623.7 757.6L624.2 758.3L624.7 758.9L625.2 759.5L625.7 760.0L626.2 760.5L626.7 760.9L627.2 761.3L627.7 761.7L628.2 762.0L628.7 762.3L629.2 762.6L629.7 762.8L630.2 763.1L630.7 763.3L631.2 763.4L631.7 763.6L632.2 763.7L632.7 763.8L633.2 764.0L633.7 764.0L634.2 764.1L634.7 764.2L635.2 764.3L635.7 764.3L636.2 764.4L636.7 764.4L637.2 764.4L637.7 764.5L638.2 764.5L638.7 764.5L639.2 764.5L639.7 764.5L640.2 764.5L640.7 764.6L641.2 764.6L641.7 764.6L642.2 764.6L642.7 764.6L643.2 764.6L643.7 764.6L644.2 764.6L644.7 764.6L645.2 764.6L645.7 764.6" stroke="#000080" stroke-width="1.5"/>
<path d="M579.4 764.6L579.9 764.6L580.4 764.6L580.9 764.6L581.4 764.6L581.9 764.6L582.4 764.6L582.9 764.6L583.4 764.6L583.9 764.6L584.4 764.6L584.9 764.5L585.4 764.5L585.9 764.5L586.4 764.5L586.9 764.5L587.4 764.5L587.9 764.5L588.4 764.5L588.9 764.4L589.4 764.4L589.9 764.4L590.4 764.4L590.9 764.3L591.4 764.3L591.9 764.3L592.4 764.2L592.9 764.2L593.4 764.1L593.9 764.1L594.4 764.0L594.9 763.9L595.4 763.9L595.9 763.8L596.4 763.7L596.9 763.6L597.4 763.5L597.9 763.3L598.4 763.2L598.9 763.1L599.4 762.9L599.9 762.7L600.4 762.5L600.9 762.3L601.4 762.1L601.9 761.8L602.4 761.5L602.9 761.3L603.4 760.9L603.9 760.6L604.4 760.2L604.9 759.8L605.4 759.4L605.9 759.0L606.4 758.5L606.9 758.0L607.4 757.4L607.9 756.8L608.4 756.2L608.9 755.6L609.4 754.9L609.9 754.1L610.4 753.4L610.9 752.6L611.4 751.7L611.9 750.8L612.4 749.9L612.9 748.9L613.4 747.9L613.9 746.8L614.4 745.7L614.9 744.6L615.4 743.4L615.9 742.1L616.4 740.9L616.9 739.6L617.4 738.2L617.9 736.9L618.4 735.5L618.9 734.0L619.4 732.6L619.9 731.1L620.4 729.6L620.9 728.1L621.4 726.6L621.9 725.0L622.4 723.5L622.9 721.9L623.4 720.4L623.9 718.9L624.4 717.3L624.9 715.8L625.4 714.3L625.9 712.9L626.4 711.5L626.9 710.1L627.4 708.7L627.9 707.4L628.4 706.1L628.9 704.9L629.4 703.8L629.9 702.7L630.4 701.7L630.9 700.7L631.4 699.8L631.9 699.1L632.4 698.3L632.9 697.7L633.4 697.2L633.9 696.7L634.4 696.3L634.9 696.1L635.4 695.9L635.9 695.8L636.4 695.8L636.9 695.9L637.4 696.1L637.9 696.4L638.4 696.8L638.9 697.3L639.4 697.8L639.9 698.5L640.4 699.2L640.9 700.0L641.4 700.9L641.9 701.9L642.4 702.9L642.9 704.0L643.4 705.2L643.9 706.4L644.4 707.6L644.9 709.0L645.4 710.3L645.9 711.7L646.4 713.2L646.9 714.6L647.4 716.1L647.9 717.6L648.4 719.2L648.9 720.7L649.4 722.3L649.9 723.8L650.4 725.3L650.9 726.9L651.4 728.4L651.9 729.9L652.4 731.4L652.9 732.9L653.4 734.3L653.9 735.8L654.4 737.1L654.9 738.5L655.4 739.8L655.9 741.1L656.4 742.4L656.9 743.6L657.4 744.8L657.9 745.9L658.4 747.0L658.9 748.1L659.4 749.1L659.9 750.1L660.4 751.0L660.9 751.9L661.4 752.7L661.9 753.5L662.4 754.3L662.9 755.0L663.4 755.7L663.9 756.3L664.4 757.0L664.9 757.5L665.4 758.1L665.9 758.6L666.4 759.1L666.9 759.5L667.4 759.9L667.9 760.3L668.4 760.7L668.9 761.0L669.4 761.3L669.9 761.6L670.4 761.9L670.9 762.1L671.4 762.3L671.9 762.6L672.4 762.7L672.9 762.9L673.4 763.1L673.9 763.2L674.4 763.4L674.9 763.5L675.4 763.6L675.9 763.7L676.4 763.8L676.9 763.9L677.4 764.0L677.9 764.0L678.4 764.1L678.9 764.1L679.4 764.2L679.9 764.2L680.4 764.3L680.9 764.3L681.4 764.4L681.9 764.4L682.4 764.4L682.9 764.4L683.4 764.5L683.9 764.5L684.4 764.5L684.9 764.5L685.4 764.5L685.9 764.5L686.4 764.5L686.9 764.5L687.4 764.5L687.9 764.6L688.4 764.6L688.9 764.6L689.4 764.6L689.9 764.6L690.4 764.6L690.9 764.6L691.4 764.6L691.9 764.6L692.4 764.6" stroke="#000080" stroke-width="1.5"/>
<path d="M629.4 764.6L629.9 764.6L630.4 764.6L630.9 764.6L631.4 764.6L631.9 764.6L632.4 764.6L632.9 764.6L633.4 764.6L633.9 764.6L634.4 764.6L634.9 764.6L635.4 764.6L635.9 764.6L636.4 764.6L636.9 764.6L637.4 764.6L637.9 764.6L638.4 764.6L638.9 764.6L639.4 764.6L639.9 764.6L640.4 764.6L640.9 764.6L641.4 764.6L641.9 764.6L642.4 764.6L642.9 764.6L643.4 764.6L643.9 764.6L644.4 764.6L644.9 764.6L645.4 764.6L645.9 764.6L646.4 764.6L646.9 764.6L647.4 764.6L647.9 764.6L648.4 764.6L648.9 764.6L649.4 764.6L649.9 764.6L650.4 764.6L650.9 764.6L651.4 764.6L651.9 764.6L652.4 764.6L652.9 764.6L653.4 764.6L653.9 764.6L654.4 764.6L654.9 764.6L655.4 764.6L655.9 764.5L656.4 764.5L656.9 764.5L657.4 764.5L657.9 764.5L658.4 764.5L658.9 764.5L659.4 764.5L659.9 764.5L660.4 764.5L660.9 764.5L661.4 764.5L661.9 764.5L662.4 764.5L662.9 764.5L663.4 764.5L663.9 764.5L664.4 764.5L664.9 764.5L665.4 764.5L665.9 764.5L666.4 764.5L666.9 764.4L667.4 764.4L667.9 764.4L668.4 764.4L668.9 764.4L669.4 764.4L669.9 764.4L670.4 764.4L670.9 764.4L671.4 764.4L671.9 764.4L672.4 764.3L672.9 764.3L673.4 764.3L673.9 764.3L674.4 764.3L674.9 764.3L675.4 764.3L675.9 764.3L676.4 764.2L676.9 764.2L677.4 764.2L677.9 764.2L678.4 764.2L678.9 764.2L679.4 764.1L679.9 764.1L680.4 764.1L680.9 764.1L681.4 764.1L681.9 764.0L682.4 764.0L682.9 764.0L683.4 764.0L683.9 763.9L684.4 763.9L684.9 763.9L685.4 763.9L685.9 763.8L686.4 763.8L686.9 763.8L687.4 763.7L687.9 763.7L688.4 763.7L688.9 763.7L689.4 763.6L689.9 763.6L690.4 763.5L690.9 763.5L691.4 763.5L691.9 763.4L692.4 763.4L692.9 763.3L693.4 763.3L693.9 763.2L694.4 763.2L694.9 763.2L695.4 763.1L695.9 763.1L696.4 763.0L696.9 763.0L697.4 762.9L697.9 762.8L698.4 762.8L698.9 762.7L699.4 762.7L699.9 762.6L700.4 762.5L700.9 762.5L701.4 762.4L701.9 762.3L702.4 762.3L702.9 762.2L703.4 762.1L703.9 762.1L704.4 762.0L704.9 761.9L705.4 761.8L705.9 761.7L706.4 761.7L706.9 761.6L707.4 761.5L707.9 761.4L708.4 761.3L708.9 761.2L709.4 761.1L709.9 761.0L710.4 760.9L710.9 760.8L711.4 760.7L711.9 760.6L712.4 760.5L712.9 760.4L713.4 760.3L713.9 760.2L714.4 760.1L714.9 760.0L715.4 759.9L715.9 759.8L716.4 759.7L716.9 759.5L717.4 759.4L717.9 759.3L718.4 759.2L718.9 759.0L719.4 758.9L719.9 758.8L720.4 758.7L720.9 758.5L721.4 758.4L721.9 758.3L722.4 758.1L722.9 758.0L723.4 757.9L723.9 757.7L724.4 757.6L724.9 757.4L725.4 757.3L725.9 757.2L726.4 757.0L726.9 756.9L727.4 756.7L727.9 756.6L728.4 756.4L728.9 756.3L729.4 756.1L729.9 756.0L730.4 755.8L730.9 755.7L731.4 755.5L731.9 755.4L732.4 755.2L732.9 755.1L733.4 754.9L733.9 754.7L734.4 754.6L734.9 754.4L735.4 754.3L735.9 754.1L736.4 754.0L736.9 753.8L737.4 753.7L737.9 753.5L738.4 753.4L738.9 753.2L739.4 753.1L739.9 752.9L740.4 752.8L740.9 752.6L741.4 752.5L741.9 752.3L742.4 752.2L742.9 752.0L743.4 751.9L743.9 751.7L744.4 751.6L744.9 751.5L745.4 751.3L745.9 751.2L746.4 751.0L746.9 750.9L747.4 750.8L747.9 750.6L748.4 750.5L748.9 750.4L749.4 750.3L749.9 750.1L750.4 750.0L750.9 749.9L751.4 749.8L751.9 749.7L752.4 749.6L752.9 749.5L753.4 749.4L753.9 749.3L754.4 749.2L754.9 749.1L755.4 749.0L755.9 748.9L756.4 748.8L756.9 748.7L757.4 748.6L757.9 748.6L758.4 748.5L758.9 748.4L759.4 748.4L759.9 748.3L760.4 748.2L760.9 748.2L761.4 748.1L761.9 748.1L762.4 748.0L762.9 748.0L763.4 748.0L763.9 747.9L764.4 747.9L764.9 747.9L765.4 747.9L765.9 747.8L766.4 747.8L766.9 747.8L767.4 747.8L767.9 747.8L768.4 747.8L768.9 747.8L769.4 747.8L769.9 747.8L770.4 747.8L770.9 747.9L771.4 747.9L771.9 747.9L772.4 747.9L772.9 748.0L773.4 748.0L773.9 748.1L774.4 748.1L774.9 748.2L775.4 748.2L775.9 748.3L776.4 748.3L776.9 748.4L777.4 748.5L777.9 748.5L778.4 748.6L778.9 748.7L779.4 748.8L779.9 748.9L780.4 748.9L780.9 749.0L781.4 749.1L781.9 749.2L782.4 749.3L782.9 749.4L783.4 749.5L783.9 749.6L784.4 749.8L784.9 749.9L785.4 750.0L785.9 750.1L786.4 750.2L786.9 750.3L787.4 750.5L787.9 750.6L788.4 750.7L788.9 750.9L789.4 751.0L789.9 751.1L790.4 751.3L790.9 751.4L791.4 751.5L791.9 751.7L792.4 751.8L792.9 752.0L793.4 752.1L793.9 752.3L794.4 752.4L794.9 752.5L795.4 752.7L795.9 752.8L796.4 753.0L796.9 753.2L797.4 753.3L797.9 753.5L798.4 753.6L798.9 753.8L799.4 753.9L799.9 754.1L800.4 754.2L800.9 754.4L801.4 754.5L801.9 754.7L802.4 754.8L802.9 755.0L803.4 755.2L803.9 755.3L804.4 755.5L804.9 755.6L805.4 755.8L805.9 755.9L806.4 756.1L806.9 756.2L807.4 756.4L807.9 756.5L808.4 756.7L808.9 756.8L809.4 757.0L809.9 757.1L810.4 757.2L810.9 757.4L811.4 757.5L811.9 757.7L812.4 757.8L812.9 757.9L813.4 758.1L813.9 758.2L814.4 758.3L814.9 758.5L815.4 758.6L815.9 758.7L816.4 758.9L816.9 759.0L817.4 759.1L817.9 759.2L818.4 759.4L818.9 759.5L819.4 759.6L819.9 759.7L820.4 759.8L820.9 760.0L821.4 760.1L821.9 760.2L822.4 760.3L822.9 760.4L823.4 760.5L823.9 760.6L824.4 760.7L824.9 760.8L825.4 760.9L825.9 761.0L826.4 761.1L826.9 761.2L827.4 761.3L827.9 761.4L828.4 761.5L828.9 761.5L829.4 761.6L829.9 761.7L830.4 761.8L830.9 761.9L831.4 761.9L831.9 762.0L832.4 762.1L832.9 762.2L833.4 762.2L833.9 762.3L834.4 762.4L834.9 762.4L835.4 762.5L835.9 762.6L836.4 762.6L836.9 762.7L837.4 762.8L837.9 762.8L838.4 762.9L838.9 762.9L839.4 763.0L839.9 763.0L840.4 763.1L840.9 763.1L841.4 763.2L841.9 763.2L842.4 763.3L842.9 763.3L843.4 763.4L843.9 763.4L844.4 763.4L844.9 763.5L845.4 763.5L845.9 763.6L846.4 763.6L846.9 763.6L847.4 763.7L847.9 763.7L848.4 763.7L848.9 763.8L849.4 763.8L849.9 763.8L850.4 763.9L850.9 763.9L851.4 763.9L851.9 763.9L852.4 764.0L852.9 764.0L853.4 764.0L853.9 764.0L854.4 764.1L854.9 764.1L855.4 764.1L855.9 764.1L856.4 764.1L856.9 764.2L857.4 764.2L857.9 764.2L858.4 764.2L858.9 764.2L859.4 764.2L859.9 764.3L860.4 764.3L860.9 764.3L861.4 764.3L861.9 764.3L862.4 764.3L862.9 764.3L863.4 764.3L863.9 764.4L864.4 764.4L864.9 764.4L865.4 764.4L865.9 764.4L866.4 764.4L866.9 764.4L867.4 764.4L867.9 764.4L868.4 764.4L868.9 764.4L869.4 764.5L869.9 764.5L870.4 764.5L870.9 764.5L871.4 764.5L871.9 764.5L872.4 764.5L872.9 764.5L873.4 764.5L873.9 764.5L874.4 764.5L874.9 764.5L875.4 764.5L875.9 764.5L876.4 764.5L876.9 764.5L877.4 764.5L877.9 764.5L878.4 764.5L878.9 764.5L879.4 764.5L879.9 764.5L880.4 764.5L880.9 764.6L881.4 764.6L881.9 764.6L882.4 764.6L882.9 764.6L883.4 764.6L883.9 764.6L884.4 764.6L884.9 764.6L885.4 764.6L885.9 764.6L886.4 764.6L886.9 764.6L887.4 764.6L887.9 764.6L888.4 764.6L888.9 764.6L889.4 764.6L889.9 764.6L890.4 764.6L890.9 764.6L891.4 764.6L891.9 764.6L892.4 764.6L892.9 764.6L893.4 764.6L893.9 764.6L894.4 764.6L894.9 764.6L895.4 764.6L895.9 764.6L896.4 764.6L896.9 764.6L897.4 764.6L897.9 764.6L898.4 764.6L898.9 764.6L899.4 764.6L899.9 764.6L900.4 764.6L900.9 764.6L901.4 764.6L901.9 764.6L902.4 764.6L902.9 764.6L903.4 764.6L903.9 764.6L904.4 764.6L904.9 764.6L905.4 764.6L905.9 764.6L906.4 764.6" stroke="#000080" stroke-width="1.5"/>
<path d="M820.0 764.6L820.5 764.6L821.0 764.6L821.5 764.6L822.0 764.6L822.5 764.6L823.0 764.6L823.5 764.6L824.0 764.6L824.5 764.6L825.0 764.6L825.5 764.6L826.0 764.6L826.5 764.6L827.0 764.5L827.5 764.5L828.0 764.5L828.5 764.5L829.0 764.5L829.5 764.5L830.0 764.5L830.5 764.4L831.0 764.4L831.5 764.4L832.0 764.4L832.5 764.3L833.0 764.3L833.5 764.2L834.0 764.2L834.5 764.1L835.0 764.0L835.5 764.0L836.0 763.9L836.5 763.8L837.0 763.7L837.5 763.5L838.0 763.4L838.5 763.2L839.0 763.1L839.5 762.9L840.0 762.7L840.5 762.5L841.0 762.2L841.5 762.0L842.0 761.7L842.5 761.4L843.0 761.1L843.5 760.7L844.0 760.4L844.5 760.0L845.0 759.5L845.5 759.1L846.0 758.6L846.5 758.1L847.0 757.6L847.5 757.0L848.0 756.4L848.5 755.8L849.0 755.2L849.5 754.5L850.0 753.8L850.5 753.1L851.0 752.4L851.5 751.7L852.0 751.0L852.5 750.2L853.0 749.4L853.5 748.7L854.0 747.9L854.5 747.2L855.0 746.4L855.5 745.7L856.0 744.9L856.5 744.2L857.0 743.5L857.5 742.9L858.0 742.2L858.5 741.6L859.0 741.0L859.5 740.5L860.0 740.0L860.5 739.6L861.0 739.2L861.5 738.9L862.0 738.6L862.5 738.4L863.0 738.2L863.5 738.1L864.0 738.1L864.5 738.1L865.0 738.2L865.5 738.3L866.0 738.5L866.5 738.8L867.0 739.1L867.5 739.5L868.0 739.9L868.5 740.3L869.0 740.8L869.5 741.4L870.0 742.0L870.5 742.6L871.0 743.2L871.5 743.9L872.0 744.6L872.5 745.4L873.0 746.1L873.5 746.8L874.0 747.6L874.5 748.4L875.0 749.1L875.5 749.9L876.0 750.7L876.5 751.4L877.0 752.1L877.5 752.9L878.0 753.6L878.5 754.3L879.0 754.9L879.5 755.6L880.0 756.2L880.5 756.8L881.0 757.3L881.5 757.9L882.0 758.4L882.5 758.9L883.0 759.4L883.5 759.8L884.0 760.2L884.5 760.6L885.0 760.9L885.5 761.3L886.0 761.6L886.5 761.9L887.0 762.1L887.5 762.4L888.0 762.6L888.5 762.8L889.0 763.0L889.5 763.2L890.0 763.3L890.5 763.5L891.0 763.6L891.5 763.7L892.0 763.8L892.5 763.9L893.0 764.0L893.5 764.1L894.0 764.1L894.5 764.2L895.0 764.3L895.5 764.3L896.0 764.3L896.5 764.4L897.0 764.4L897.5 764.4L898.0 764.5L898.5 764.5L899.0 764.5L899.5 764.5L900.0 764.5L900.5 764.5L901.0 764.5L901.5 764.6L902.0 764.6L902.5 764.6L903.0 764.6L903.5 764.6L904.0 764.6L904.5 764.6L905.0 764.6L905.5 764.6L906.0 764.6L906.5 764.6L907.0 764.6L907.5 764.6L908.0 764.6" stroke="#000080" stroke-width="1.5"/>
<path d="M830.8 764.6L831.3 764.6L831.8 764.6L832.3 764.6L832.8 764.6L833.3 764.6L833.8 764.6L834.3 764.6L834.8 764.6L835.3 764.6L835.8 764.6L836.3 764.6L836.8 764.6L837.3 764.6L837.8 764.6L838.3 764.6L838.8 764.6L839.3 764.6L839.8 764.5L840.3 764.5L840.8 764.5L841.3 764.5L841.8 764.5L842.3 764.5L842.8 764.5L843.3 764.5L843.8 764.5L844.3 764.4L844.8 764.4L845.3 764.4L845.8 764.4L846.3 764.4L846.8 764.3L847.3 764.3L847.8 764.3L848.3 764.2L848.8 764.2L849.3 764.2L849.8 764.1L850.3 764.1L850.8 764.0L851.3 764.0L851.8 763.9L852.3 763.8L852.8 763.8L853.3 763.7L853.8 763.6L854.3 763.5L854.8 763.4L855.3 763.3L855.8 763.2L856.3 763.1L856.8 763.0L857.3 762.8L857.8 762.7L858.3 762.5L858.8 762.4L859.3 762.2L859.8 762.0L860.3 761.8L860.8 761.6L861.3 761.4L861.8 761.1L862.3 760.9L862.8 760.6L863.3 760.3L863.8 760.0L864.3 759.7L864.8 759.4L865.3 759.0L865.8 758.7L866.3 758.3L866.8 757.9L867.3 757.5L867.8 757.0L868.3 756.6L868.8 756.1L869.3 755.6L869.8 755.1L870.3 754.6L870.8 754.0L871.3 753.5L871.8 752.9L872.3 752.3L872.8 751.7L873.3 751.1L873.8 750.4L874.3 749.8L874.8 749.1L875.3 748.4L875.8 747.7L876.3 747.0L876.8 746.3L877.3 745.5L877.8 744.8L878.3 744.0L878.8 743.3L879.3 742.5L879.8 741.7L880.3 741.0L880.8 740.2L881.3 739.4L881.8 738.7L882.3 737.9L882.8 737.2L883.3 736.4L883.8 735.7L884.3 735.0L884.8 734.3L885.3 733.6L885.8 732.9L886.3 732.2L886.8 731.6L887.3 731.0L887.8 730.4L888.3 729.8L888.8 729.3L889.3 728.8L889.8 728.3L890.3 727.9L890.8 727.5L891.3 727.1L891.8 726.7L892.3 726.4L892.8 726.2L893.3 725.9L893.8 725.8L894.3 725.6L894.8 725.5L895.3 725.4L895.8 725.4L896.3 725.4L896.8 725.5L897.3 725.6L897.8 725.7L898.3 725.9L898.8 726.1L899.3 726.3L899.8 726.6L900.3 726.9L900.8 727.3L901.3 727.7L901.8 728.1L902.3 728.6L902.8 729.1L903.3 729.6L903.8 730.2L904.3 730.8L904.8 731.4L905.3 732.0L905.8 732.6L906.3 733.3L906.8 734.0L907.3 734.7L907.8 735.4L908.3 736.1L908.8 736.9L909.3 737.6L909.8 738.4L910.3 739.1L910.8 739.9L911.3 740.7L911.8 741.4L912.3 742.2L912.8 743.0L913.3 743.7L913.8 744.5L914.3 745.2L914.8 746.0L915.3 746.7L915.8 747.4L916.3 748.1L916.8 748.8L917.3 749.5L917.8 750.2L918.3 750.8L918.8 751.4L919.3 752.1L919.8 752.7L920.3 753.2L920.8 753.8L921.3 754.4L921.8 754.9L922.3 755.4L922.8 755.9L923.3 756.4L923.8 756.8L924.3 757.3L924.8 757.7L925.3 758.1L925.8 758.5L926.3 758.9L926.8 759.2L927.3 759.6L927.8 759.9L928.3 760.2L928.8 760.5L929.3 760.8L929.8 761.0L930.3 761.3L930.8 761.5L931.3 761.7L931.8 761.9L932.3 762.1L932.8 762.3L933.3 762.5L933.8 762.6L934.3 762.8L934.8 762.9L935.3 763.1L935.8 763.2L936.3 763.3L936.8 763.4L937.3 763.5L937.8 763.6L938.3 763.7L938.8 763.7L939.3 763.8L939.8 763.9L940.3 764.0L940.8 764.0L941.3 764.1L941.8 764.1L942.3 764.2L942.8 764.2L943.3 764.2L943.8 764.3L944.3 764.3L944.8 764.3L945.3 764.4L945.8 764.4L946.3 764.4L946.8 764.4L947.3 764.4L947.8 764.5L948.3 764.5L948.8 764.5L949.3 764.5L949.8 764.5L950.3 764.5L950.8 764.5L951.3 764.5L951.8 764.5L952.3 764.5L952.8 764.6L953.3 764.6L953.8 764.6L954.3 764.6L954.8 764.6L955.3 764.6L955.8 764.6L956.3 764.6L956.8 764.6L957.3 764.6L957.8 764.6L958.3 764.6L958.8 764.6L959.3 764.6L959.8 764.6L960.3 764.6L960.8 764.6" stroke="#000080" stroke-width="1.5"/>
<path d="M55 765.2H524.4M540.8 765.2H1010.5" stroke="#000080" stroke-width="2"/>
<path d="M55.0 764.6L55.5 764.6L56.0 764.6L56.5 764.6L57.0 764.6L57.5 764.6L58.0 764.6L58.5 764.6L59.0 764.6L59.5 764.6L60.0 764.6L60.5 764.6L61.0 764.6L61.5 764.6L62.0 764.6L62.5 764.6L63.0 764.6L63.5 764.6L64.0 764.6L64.5 764.6L65.0 764.6L65.5 764.6L66.0 764.6L66.5 764.6L67.0 764.6L67.5 764.6L68.0 764.6L68.5 764.6L69.0 764.6L69.5 764.6L70.0 764.6L70.5 764.6L71.0 764.6L71.5 764.6L72.0 764.6L72.5 764.6L73.0 764.6L73.5 764.6L74.0 764.6L74.5 764.6L75.0 764.6L75.5 764.6L76.0 764.6L76.5 764.6L77.0 764.6L77.5 764.6L78.0 764.6L78.5 764.6L79.0 764.6L79.5 764.6L80.0 764.6L80.5 764.6L81.0 764.6L81.5 764.6L82.0 764.6L82.5 764.6L83.0 764.6L83.5 764.6L84.0 764.6L84.5 764.6L85.0 764.6L85.5 764.6L86.0 764.6L86.5 764.6L87.0 764.6L87.5 764.6L88.0 764.6L88.5 764.6L89.0 764.6L89.5 764.6L90.0 764.6L90.5 764.6L91.0 764.6L91.5 764.6L92.0 764.6L92.5 764.6L93.0 764.6L93.5 764.6L94.0 764.6L94.5 764.6L95.0 764.6L95.5 764.6L96.0 764.6L96.5 764.6L97.0 764.6L97.5 764.6L98.0 764.6L98.5 764.6L99.0 764.6L99.5 764.6L100.0 764.6L100.5 764.6L101.0 764.6L101.5 764.6L102.0 764.6L102.5 764.6L103.0 764.6L103.5 764.6L104.0 764.6L104.5 764.6L105.0 764.6L105.5 764.6L106.0 764.6L106.5 764.6L107.0 764.6L107.5 764.6L108.0 764.6L108.5 764.6L109.0 764.6L109.5 764.6L110.0 764.6L110.5 764.6L111.0 764.6L111.5 764.6L112.0 764.6L112.5 764.6L113.0 764.6L113.5 764.6L114.0 764.5L114.5 764.5L115.0 764.5L115.5 764.5L116.0 764.5L116.5 764.5L117.0 764.5L117.5 764.4L118.0 764.4L118.5 764.4L119.0 764.4L119.5 764.3L120.0 764.3L120.5 764.3L121.0 764.3L121.5 764.3L122.0 764.2L122.5 764.2L123.0 764.2L123.5 764.1L124.0 764.1L124.5 764.1L125.0 764.1L125.5 764.0L126.0 764.0L126.5 763.9L127.0 763.9L127.5 763.8L128.0 763.8L128.5 763.7L129.0 763.6L129.5 763.5L130.0 763.4L130.5 763.3L131.0 763.2L131.5 763.1L132.0 763.0L132.5 762.8L133.0 762.6L133.5 762.5L134.0 762.3L134.5 762.0L135.0 761.8L135.5 761.5L136.0 761.2L136.5 760.9L137.0 760.6L137.5 760.2L138.0 759.8L138.5 759.3L139.0 758.9L139.5 758.4L140.0 757.8L140.5 757.2L141.0 756.6L141.5 755.9L142.0 755.2L142.5 754.5L143.0 753.7L143.5 752.9L144.0 752.0L144.5 751.2L145.0 750.3L145.5 749.4L146.0 748.4L146.5 747.5L147.0 746.6L147.5 745.6L148.0 744.7L148.5 743.8L149.0 742.9L149.5 742.1L150.0 741.3L150.5 740.5L151.0 739.8L151.5 739.1L152.0 738.4L152.5 737.9L153.0 737.3L153.5 736.8L154.0 736.4L154.5 736.0L155.0 735.7L155.5 735.4L156.0 735.1L156.5 734.9L157.0 734.7L157.5 734.6L158.0 734.4L158.5 734.3L159.0 734.1L159.5 734.0L160.0 733.8L160.5 733.7L161.0 733.5L161.5 733.4L162.0 733.2L162.5 733.0L163.0 732.8L163.5 732.6L164.0 732.3L164.5 732.0L165.0 731.7L165.5 731.4L166.0 731.0L166.5 730.5L167.0 730.0L167.5 729.4L168.0 728.7L168.5 727.9L169.0 727.0L169.5 726.0L170.0 724.8L170.5 723.5L171.0 722.1L171.5 720.5L172.0 718.8L172.5 716.9L173.0 714.8L173.5 712.6L174.0 710.2L174.5 707.7L175.0 704.9L175.5 702.0L176.0 699.0L176.5 695.8L177.0 692.4L177.5 688.9L178.0 685.2L178.5 681.4L179.0 677.4L179.5 673.3L180.0 669.0L180.5 664.6L181.0 660.1L181.5 655.5L182.0 650.7L182.5 645.8L183.0 640.8L183.5 635.7L184.0 630.5L184.5 625.2L185.0 619.8L185.5 614.2L186.0 608.7L186.5 603.0L187.0 597.2L187.5 591.4L188.0 585.6L188.5 579.7L189.0 573.7L189.5 567.7L190.0 561.7L190.5 555.7L191.0 549.7L191.5 543.8L192.0 537.8L192.5 531.9L193.0 526.0L193.5 520.2L194.0 514.4L194.5 508.7L195.0 503.1L195.5 497.7L196.0 492.3L196.5 487.1L197.0 482.0L197.5 477.0L198.0 472.3L198.5 467.7L199.0 463.2L199.5 459.0L200.0 455.0L200.5 451.2L201.0 447.6L201.5 444.2L202.0 441.1L202.5 438.3L203.0 435.7L203.5 433.3L204.0 431.2L204.5 429.4L205.0 427.9L205.5 426.7L206.0 425.7L206.5 425.1L207.0 424.7L207.5 424.6L208.0 424.8L208.5 425.3L209.0 426.1L209.5 427.2L210.0 428.5L210.5 430.2L211.0 432.1L211.5 434.2L212.0 436.7L212.5 439.4L213.0 442.3L213.5 445.5L214.0 449.0L214.5 452.6L215.0 456.5L215.5 460.6L216.0 464.9L216.5 469.4L217.0 474.0L217.5 478.8L218.0 483.8L218.5 488.9L219.0 494.2L219.5 499.6L220.0 505.1L220.5 510.7L221.0 516.4L221.5 522.2L222.0 528.0L222.5 533.9L223.0 539.8L223.5 545.7L224.0 551.7L224.5 557.7L225.0 563.7L225.5 569.7L226.0 575.6L226.5 581.5L227.0 587.4L227.5 593.2L228.0 599.0L228.5 604.7L229.0 610.4L229.5 615.9L230.0 621.4L230.5 626.7L231.0 632.0L231.5 637.2L232.0 642.2L232.5 647.2L233.0 652.0L233.5 656.7L234.0 661.3L234.5 665.8L235.0 670.1L235.5 674.3L236.0 678.4L236.5 682.3L237.0 686.1L237.5 689.8L238.0 693.3L238.5 696.7L239.0 699.9L239.5 703.0L240.0 706.0L240.5 708.8L241.0 711.5L241.5 714.1L242.0 716.5L242.5 718.9L243.0 721.0L243.5 723.1L244.0 725.1L244.5 726.9L245.0 728.6L245.5 730.2L246.0 731.7L246.5 733.1L247.0 734.4L247.5 735.6L248.0 736.8L248.5 737.8L249.0 738.8L249.5 739.7L250.0 740.6L250.5 741.3L251.0 742.0L251.5 742.7L252.0 743.3L252.5 743.9L253.0 744.4L253.5 744.8L254.0 745.3L254.5 745.7L255.0 746.0L255.5 746.4L256.0 746.7L256.5 747.0L257.0 747.2L257.5 747.5L258.0 747.7L258.5 747.9L259.0 748.1L259.5 748.3L260.0 748.5L260.5 748.6L261.0 748.8L261.5 749.0L262.0 749.1L262.5 749.3L263.0 749.4L263.5 749.6L264.0 749.8L264.5 749.9L265.0 750.1L265.5 750.3L266.0 750.5L266.5 750.7L267.0 750.9L267.5 751.1L268.0 751.4L268.5 751.6L269.0 751.9L269.5 752.1L270.0 752.4L270.5 752.7L271.0 753.0L271.5 753.3L272.0 753.6L272.5 753.9L273.0 754.2L273.5 754.6L274.0 754.9L274.5 755.2L275.0 755.6L275.5 755.9L276.0 756.2L276.5 756.6L277.0 756.9L277.5 757.2L278.0 757.6L278.5 757.9L279.0 758.2L279.5 758.5L280.0 758.8L280.5 759.1L281.0 759.4L281.5 759.7L282.0 759.9L282.5 760.2L283.0 760.4L283.5 760.6L284.0 760.9L284.5 761.1L285.0 761.3L285.5 761.5L286.0 761.6L286.5 761.8L287.0 762.0L287.5 762.1L288.0 762.3L288.5 762.4L289.0 762.5L289.5 762.6L290.0 762.7L290.5 762.8L291.0 762.9L291.5 763.0L292.0 763.1L292.5 763.2L293.0 763.3L293.5 763.4L294.0 763.4L294.5 763.5L295.0 763.6L295.5 763.6L296.0 763.7L296.5 763.7L297.0 763.8L297.5 763.9L298.0 763.9L298.5 764.0L299.0 764.0L299.5 764.1L300.0 764.1L300.5 764.1L301.0 764.2L301.5 764.2L302.0 764.3L302.5 764.3L303.0 764.3L303.5 764.4L304.0 764.4L304.5 764.4L305.0 764.5L305.5 764.5L306.0 764.5L306.5 764.5L307.0 764.5L307.5 764.6L308.0 764.6L308.5 764.6L309.0 764.6L309.5 764.6L310.0 764.6L310.5 764.6L311.0 764.6L311.5 764.6L312.0 764.6L312.5 764.6L313.0 764.6L313.5 764.6L314.0 764.6L314.5 764.6L315.0 764.6L315.5 764.6L316.0 764.6L316.5 764.6L317.0 764.6L317.5 764.6L318.0 764.6L318.5 764.6L319.0 764.6L319.5 764.6L320.0 764.6L320.5 764.6L321.0 764.6L321.5 764.6L322.0 764.6L322.5 764.6L323.0 764.6L323.5 764.6L324.0 764.6L324.5 764.6L325.0 764.6L325.5 764.6L326.0 764.6L326.5 764.6L327.0 764.6L327.5 764.6L328.0 764.6L328.5 764.6L329.0 764.6L329.5 764.6L330.0 764.6L330.5 764.6L331.0 764.6L331.5 764.6L332.0 764.6L332.5 764.6L333.0 764.6L333.5 764.6L334.0 764.6L334.5 764.6L335.0 764.6L335.5 764.6L336.0 764.6L336.5 764.6L337.0 764.6L337.5 764.6L338.0 764.6L338.5 764.6L339.0 764.6L339.5 764.6L340.0 764.6L340.5 764.6L341.0 764.6L341.5 764.6L342.0 764.6L342.5 764.6L343.0 764.6L343.5 764.6L344.0 764.6L344.5 764.6L345.0 764.6L345.5 764.6L346.0 764.6L346.5 764.6L347.0 764.6L347.5 764.6L348.0 764.6L348.5 764.6L349.0 764.6L349.5 764.6L350.0 764.6L350.5 764.6L351.0 764.6L351.5 764.6L352.0 764.6L352.5 764.6L353.0 764.6L353.5 764.6L354.0 764.6L354.5 764.6L355.0 764.6L355.5 764.6L356.0 764.6L356.5 764.6L357.0 764.6L357.5 764.6L358.0 764.6L358.5 764.6L359.0 764.6L359.5 764.6L360.0 764.6L360.5 764.6L361.0 764.6L361.5 764.6L362.0 764.6L362.5 764.6L363.0 764.6L363.5 764.6L364.0 764.6L364.5 764.6L365.0 764.6L365.5 764.6L366.0 764.6L366.5 764.6L367.0 764.6L367.5 764.6L368.0 764.6L368.5 764.6L369.0 764.6L369.5 764.6L370.0 764.6L370.5 764.6L371.0 764.6L371.5 764.6L372.0 764.6L372.5 764.6L373.0 764.6L373.5 764.6L374.0 764.6L374.5 764.6L375.0 764.6L375.5 764.6L376.0 764.6L376.5 764.6L377.0 764.6L377.5 764.6L378.0 764.6L378.5 764.6L379.0 764.6L379.5 764.6L380.0 764.6L380.5 764.6L381.0 764.6L381.5 764.6L382.0 764.6L382.5 764.6L383.0 764.6L383.5 764.6L384.0 764.6L384.5 764.6L385.0 764.6L385.5 764.6L386.0 764.6L386.5 764.6L387.0 764.6L387.5 764.6L388.0 764.6L388.5 764.6L389.0 764.6L389.5 764.6L390.0 764.6L390.5 764.6L391.0 764.6L391.5 764.6L392.0 764.6L392.5 764.6L393.0 764.6L393.5 764.6L394.0 764.6L394.5 764.6L395.0 764.6L395.5 764.6L396.0 764.6L396.5 764.6L397.0 764.6L397.5 764.6L398.0 764.6L398.5 764.6L399.0 764.6L399.5 764.6L400.0 764.6L400.5 764.6L401.0 764.6L401.5 764.6L402.0 764.6L402.5 764.6L403.0 764.6L403.5 764.6L404.0 764.6L404.5 764.6L405.0 764.6L405.5 764.6L406.0 764.6L406.5 764.6L407.0 764.6L407.5 764.6L408.0 764.6L408.5 764.6L409.0 764.6L409.5 764.6L410.0 764.6L410.5 764.6L411.0 764.6L411.5 764.6L412.0 764.6L412.5 764.6L413.0 764.6L413.5 764.6L414.0 764.6L414.5 764.6L415.0 764.6L415.5 764.6L416.0 764.6L416.5 764.6L417.0 764.6L417.5 764.6L418.0 764.6L418.5 764.6L419.0 764.6L419.5 764.6L420.0 764.6L420.5 764.6L421.0 764.6L421.5 764.6L422.0 764.6L422.5 764.6L423.0 764.6L423.5 764.6L424.0 764.6L424.5 764.6L425.0 764.6L425.5 764.6L426.0 764.6L426.5 764.6L427.0 764.6L427.5 764.6L428.0 764.6L428.5 764.6L429.0 764.6L429.5 764.6L430.0 764.6L430.5 764.6L431.0 764.6L431.5 764.6L432.0 764.6L432.5 764.6L433.0 764.6L433.5 764.6L434.0 764.6L434.5 764.6L435.0 764.6L435.5 764.6L436.0 764.6L436.5 764.6L437.0 764.6L437.5 764.6L438.0 764.6L438.5 764.6L439.0 764.6L439.5 764.6L440.0 764.6L440.5 764.6L441.0 764.6L441.5 764.6L442.0 764.6L442.5 764.6L443.0 764.6L443.5 764.6L444.0 764.6L444.5 764.6L445.0 764.6L445.5 764.6L446.0 764.6L446.5 764.6L447.0 764.6L447.5 764.6L448.0 764.6L448.5 764.6L449.0 764.6L449.5 764.6L450.0 764.6L450.5 764.6L451.0 764.6L451.5 764.6L452.0 764.6L452.5 764.6L453.0 764.6L453.5 764.6L454.0 764.6L454.5 764.6L455.0 764.6L455.5 764.6L456.0 764.6L456.5 764.6L457.0 764.6L457.5 764.6L458.0 764.6L458.5 764.6L459.0 764.6L459.5 764.6L460.0 764.6L460.5 764.6L461.0 764.6L461.5 764.6L462.0 764.6L462.5 764.6L463.0 764.6L463.5 764.6L464.0 764.6L464.5 764.6L465.0 764.6L465.5 764.6L466.0 764.6L466.5 764.6L467.0 764.6L467.5 764.6L468.0 764.6L468.5 764.6L469.0 764.6L469.5 764.6L470.0 764.6L470.5 764.6L471.0 764.6L471.5 764.6L472.0 764.6L472.5 764.6L473.0 764.6L473.5 764.6L474.0 764.6L474.5 764.6L475.0 764.6L475.5 764.6L476.0 764.6L476.5 764.6L477.0 764.6L477.5 764.6L478.0 764.6L478.5 764.6L479.0 764.6L479.5 764.6L480.0 764.6L480.5 764.6L481.0 764.6L481.5 764.6L482.0 764.6L482.5 764.6L483.0 764.6L483.5 764.6L484.0 764.6L484.5 764.6L485.0 764.6L485.5 764.6L486.0 764.6L486.5 764.6L487.0 764.6L487.5 764.6L488.0 764.6L488.5 764.6L489.0 764.6L489.5 764.6L490.0 764.6L490.5 764.6L491.0 764.6L491.5 764.6L492.0 764.6L492.5 764.6L493.0 764.6L493.5 764.6L494.0 764.6L494.5 764.6L495.0 764.6L495.5 764.6L496.0 764.6L496.5 764.6L497.0 764.6L497.5 764.6L498.0 764.6L498.5 764.6L499.0 764.6L499.5 764.6L500.0 764.6L500.5 764.6L501.0 764.6L501.5 764.6L502.0 764.6L502.5 764.6L503.0 764.6L503.5 764.6L504.0 764.6L504.5 764.6L505.0 764.6L505.5 764.6L506.0 764.6L506.5 764.6L507.0 764.6L507.5 764.6L508.0 764.6L508.5 764.6L509.0 764.6L509.5 764.6L510.0 764.6L510.5 764.6L511.0 764.6L511.5 764.6L512.0 764.6L512.5 764.6L513.0 764.6L513.5 764.6L514.0 764.6L514.5 764.6L515.0 764.6L515.5 764.6L516.0 764.6L516.5 764.6L517.0 764.6L517.5 764.6L518.0 764.6L518.5 764.6L519.0 764.6L519.5 764.6L520.0 764.6L520.5 764.6L521.0 764.6L521.5 764.6L522.0 764.6L522.5 764.6L523.0 764.6L523.5 764.6L524.0 764.6" stroke="#00ffff" stroke-width="3.6"/>
<path d="M540.8 764.6L541.3 764.6L541.8 764.6L542.3 764.6L542.8 764.6L543.3 764.6L543.8 764.6L544.3 764.6L544.8 764.6L545.3 764.6L545.8 764.6L546.3 764.6L546.8 764.6L547.3 764.6L547.8 764.6L548.3 764.6L548.8 764.6L549.3 764.6L549.8 764.6L550.3 764.5L550.8 764.5L551.3 764.5L551.8 764.5L552.3 764.5L552.8 764.5L553.3 764.5L553.8 764.5L554.3 764.5L554.8 764.5L555.3 764.5L555.8 764.5L556.3 764.5L556.8 764.5L557.3 764.5L557.8 764.4L558.3 764.4L558.8 764.4L559.3 764.4L559.8 764.4L560.3 764.4L560.8 764.4L561.3 764.4L561.8 764.4L562.3 764.4L562.8 764.3L563.3 764.3L563.8 764.3L564.3 764.3L564.8 764.3L565.3 764.3L565.8 764.3L566.3 764.3L566.8 764.2L567.3 764.2L567.8 764.2L568.3 764.2L568.8 764.1L569.3 764.1L569.8 764.1L570.3 764.0L570.8 764.0L571.3 763.9L571.8 763.9L572.3 763.8L572.8 763.8L573.3 763.7L573.8 763.7L574.3 763.6L574.8 763.5L575.3 763.4L575.8 763.4L576.3 763.3L576.8 763.2L577.3 763.1L577.8 763.0L578.3 762.9L578.8 762.7L579.3 762.6L579.8 762.5L580.3 762.3L580.8 762.1L581.3 761.9L581.8 761.7L582.3 761.5L582.8 761.3L583.3 761.0L583.8 760.7L584.3 760.4L584.8 760.0L585.3 759.7L585.8 759.3L586.3 758.8L586.8 758.3L587.3 757.8L587.8 757.2L588.3 756.6L588.8 756.0L589.3 755.3L589.8 754.5L590.3 753.7L590.8 752.9L591.3 752.0L591.8 751.0L592.3 750.0L592.8 748.9L593.3 747.7L593.8 746.6L594.3 745.3L594.8 744.0L595.3 742.7L595.8 741.3L596.3 740.0L596.8 738.5L597.3 737.1L597.8 735.6L598.3 734.1L598.8 732.6L599.3 731.2L599.8 729.7L600.3 728.2L600.8 726.8L601.3 725.3L601.8 723.9L602.3 722.6L602.8 721.3L603.3 720.0L603.8 718.8L604.3 717.6L604.8 716.5L605.3 715.4L605.8 714.4L606.3 713.5L606.8 712.6L607.3 711.8L607.8 711.0L608.3 710.3L608.8 709.6L609.3 709.0L609.8 708.5L610.3 707.9L610.8 707.5L611.3 707.0L611.8 706.6L612.3 706.2L612.8 705.9L613.3 705.6L613.8 705.3L614.3 705.0L614.8 704.7L615.3 704.5L615.8 704.3L616.3 704.0L616.8 703.8L617.3 703.6L617.8 703.4L618.3 703.2L618.8 703.0L619.3 702.7L619.8 702.5L620.3 702.2L620.8 701.9L621.3 701.6L621.8 701.3L622.3 700.9L622.8 700.5L623.3 700.1L623.8 699.7L624.3 699.3L624.8 698.8L625.3 698.3L625.8 697.8L626.3 697.2L626.8 696.7L627.3 696.1L627.8 695.5L628.3 694.9L628.8 694.3L629.3 693.8L629.8 693.2L630.3 692.7L630.8 692.2L631.3 691.7L631.8 691.2L632.3 690.8L632.8 690.5L633.3 690.2L633.8 690.0L634.3 689.8L634.8 689.8L635.3 689.7L635.8 689.8L636.3 690.0L636.8 690.2L637.3 690.5L637.8 690.9L638.3 691.4L638.8 692.0L639.3 692.6L639.8 693.4L640.3 694.2L640.8 695.1L641.3 696.1L641.8 697.1L642.3 698.3L642.8 699.4L643.3 700.7L643.8 702.0L644.3 703.4L644.8 704.8L645.3 706.2L645.8 707.7L646.3 709.2L646.8 710.8L647.3 712.3L647.8 713.9L648.3 715.5L648.8 717.1L649.3 718.7L649.8 720.4L650.3 722.0L650.8 723.6L651.3 725.1L651.8 726.7L652.3 728.2L652.8 729.8L653.3 731.2L653.8 732.7L654.3 734.1L654.8 735.5L655.3 736.9L655.8 738.2L656.3 739.5L656.8 740.7L657.3 741.9L657.8 743.1L658.3 744.2L658.8 745.3L659.3 746.3L659.8 747.3L660.3 748.2L660.8 749.1L661.3 749.9L661.8 750.8L662.3 751.5L662.8 752.2L663.3 752.9L663.8 753.6L664.3 754.2L664.8 754.7L665.3 755.3L665.8 755.8L666.3 756.2L666.8 756.7L667.3 757.1L667.8 757.5L668.3 757.8L668.8 758.1L669.3 758.4L669.8 758.7L670.3 758.9L670.8 759.2L671.3 759.4L671.8 759.6L672.3 759.7L672.8 759.9L673.3 760.0L673.8 760.1L674.3 760.3L674.8 760.4L675.3 760.4L675.8 760.5L676.3 760.6L676.8 760.6L677.3 760.7L677.8 760.7L678.3 760.8L678.8 760.8L679.3 760.8L679.8 760.8L680.3 760.8L680.8 760.9L681.3 760.9L681.8 760.9L682.3 760.9L682.8 760.8L683.3 760.8L683.8 760.8L684.3 760.8L684.8 760.8L685.3 760.8L685.8 760.8L686.3 760.7L686.8 760.7L687.3 760.7L687.8 760.7L688.3 760.7L688.8 760.6L689.3 760.6L689.8 760.6L690.3 760.5L690.8 760.5L691.3 760.5L691.8 760.4L692.3 760.4L692.8 760.4L693.3 760.3L693.8 760.3L694.3 760.3L694.8 760.2L695.3 760.2L695.8 760.1L696.3 760.1L696.8 760.0L697.3 760.0L697.8 760.0L698.3 759.9L698.8 759.9L699.3 759.8L699.8 759.8L700.3 759.7L700.8 759.6L701.3 759.6L701.8 759.5L702.3 759.5L702.8 759.4L703.3 759.3L703.8 759.3L704.3 759.2L704.8 759.1L705.3 759.1L705.8 759.0L706.3 758.9L706.8 758.9L707.3 758.8L707.8 758.7L708.3 758.6L708.8 758.5L709.3 758.5L709.8 758.4L710.3 758.3L710.8 758.2L711.3 758.1L711.8 758.0L712.3 757.9L712.8 757.8L713.3 757.7L713.8 757.6L714.3 757.5L714.8 757.4L715.3 757.3L715.8 757.2L716.3 757.1L716.8 757.0L717.3 756.9L717.8 756.8L718.3 756.7L718.8 756.6L719.3 756.4L719.8 756.3L720.3 756.2L720.8 756.1L721.3 755.9L721.8 755.8L722.3 755.7L722.8 755.6L723.3 755.4L723.8 755.3L724.3 755.2L724.8 755.0L725.3 754.9L725.8 754.8L726.3 754.6L726.8 754.5L727.3 754.3L727.8 754.2L728.3 754.1L728.8 753.9L729.3 753.8L729.8 753.6L730.3 753.5L730.8 753.3L731.3 753.2L731.8 753.1L732.3 752.9L732.8 752.8L733.3 752.6L733.8 752.5L734.3 752.3L734.8 752.2L735.3 752.0L735.8 751.9L736.3 751.7L736.8 751.6L737.3 751.4L737.8 751.3L738.3 751.1L738.8 751.0L739.3 750.9L739.8 750.7L740.3 750.6L740.8 750.4L741.3 750.3L741.8 750.1L742.3 750.0L742.8 749.9L743.3 749.7L743.8 749.6L744.3 749.4L744.8 749.3L745.3 749.2L745.8 749.0L746.3 748.9L746.8 748.8L747.3 748.7L747.8 748.5L748.3 748.4L748.8 748.3L749.3 748.2L749.8 748.1L750.3 747.9L750.8 747.8L751.3 747.7L751.8 747.6L752.3 747.5L752.8 747.4L753.3 747.3L753.8 747.2L754.3 747.1L754.8 747.0L755.3 746.9L755.8 746.9L756.3 746.8L756.8 746.7L757.3 746.6L757.8 746.5L758.3 746.5L758.8 746.4L759.3 746.3L759.8 746.3L760.3 746.2L760.8 746.2L761.3 746.1L761.8 746.1L762.3 746.0L762.8 746.0L763.3 746.0L763.8 745.9L764.3 745.9L764.8 745.9L765.3 745.9L765.8 745.8L766.3 745.8L766.8 745.8L767.3 745.8L767.8 745.8L768.3 745.8L768.8 745.8L769.3 745.8L769.8 745.8L770.3 745.8L770.8 745.9L771.3 745.9L771.8 745.9L772.3 745.9L772.8 746.0L773.3 746.0L773.8 746.1L774.3 746.1L774.8 746.2L775.3 746.2L775.8 746.3L776.3 746.3L776.8 746.4L777.3 746.5L777.8 746.5L778.3 746.6L778.8 746.7L779.3 746.8L779.8 746.8L780.3 746.9L780.8 747.0L781.3 747.1L781.8 747.2L782.3 747.3L782.8 747.4L783.3 747.5L783.8 747.6L784.3 747.7L784.8 747.8L785.3 748.0L785.8 748.1L786.3 748.2L786.8 748.3L787.3 748.4L787.8 748.6L788.3 748.7L788.8 748.8L789.3 749.0L789.8 749.1L790.3 749.2L790.8 749.4L791.3 749.5L791.8 749.6L792.3 749.8L792.8 749.9L793.3 750.1L793.8 750.2L794.3 750.4L794.8 750.5L795.3 750.7L795.8 750.8L796.3 751.0L796.8 751.1L797.3 751.3L797.8 751.4L798.3 751.6L798.8 751.7L799.3 751.9L799.8 752.0L800.3 752.2L800.8 752.3L801.3 752.5L801.8 752.6L802.3 752.8L802.8 752.9L803.3 753.1L803.8 753.2L804.3 753.4L804.8 753.5L805.3 753.7L805.8 753.8L806.3 753.9L806.8 754.1L807.3 754.2L807.8 754.3L808.3 754.5L808.8 754.6L809.3 754.7L809.8 754.9L810.3 755.0L810.8 755.1L811.3 755.2L811.8 755.4L812.3 755.5L812.8 755.6L813.3 755.7L813.8 755.8L814.3 755.9L814.8 756.0L815.3 756.2L815.8 756.3L816.3 756.4L816.8 756.5L817.3 756.6L817.8 756.7L818.3 756.8L818.8 756.9L819.3 757.0L819.8 757.1L820.3 757.2L820.8 757.3L821.3 757.3L821.8 757.4L822.3 757.5L822.8 757.6L823.3 757.7L823.8 757.8L824.3 757.8L824.8 757.9L825.3 758.0L825.8 758.1L826.3 758.1L826.8 758.2L827.3 758.3L827.8 758.3L828.3 758.4L828.8 758.4L829.3 758.5L829.8 758.5L830.3 758.6L830.8 758.6L831.3 758.7L831.8 758.7L832.3 758.7L832.8 758.7L833.3 758.7L833.8 758.7L834.3 758.7L834.8 758.7L835.3 758.7L835.8 758.6L836.3 758.6L836.8 758.5L837.3 758.4L837.8 758.3L838.3 758.2L838.8 758.1L839.3 757.9L839.8 757.7L840.3 757.5L840.8 757.3L841.3 757.0L841.8 756.8L842.3 756.5L842.8 756.1L843.3 755.8L843.8 755.4L844.3 755.0L844.8 754.5L845.3 754.0L845.8 753.5L846.3 752.9L846.8 752.3L847.3 751.7L847.8 751.1L848.3 750.4L848.8 749.6L849.3 748.9L849.8 748.1L850.3 747.3L850.8 746.4L851.3 745.6L851.8 744.7L852.3 743.8L852.8 742.8L853.3 741.9L853.8 740.9L854.3 740.0L854.8 739.0L855.3 738.0L855.8 737.1L856.3 736.1L856.8 735.1L857.3 734.2L857.8 733.3L858.3 732.4L858.8 731.5L859.3 730.6L859.8 729.8L860.3 729.0L860.8 728.2L861.3 727.5L861.8 726.9L862.3 726.2L862.8 725.7L863.3 725.1L863.8 724.6L864.3 724.2L864.8 723.8L865.3 723.4L865.8 723.1L866.3 722.9L866.8 722.7L867.3 722.5L867.8 722.3L868.3 722.2L868.8 722.2L869.3 722.1L869.8 722.1L870.3 722.1L870.8 722.2L871.3 722.2L871.8 722.3L872.3 722.4L872.8 722.5L873.3 722.6L873.8 722.7L874.3 722.8L874.8 722.9L875.3 723.0L875.8 723.1L876.3 723.2L876.8 723.2L877.3 723.3L877.8 723.3L878.3 723.3L878.8 723.3L879.3 723.3L879.8 723.3L880.3 723.3L880.8 723.2L881.3 723.1L881.8 723.0L882.3 722.9L882.8 722.8L883.3 722.7L883.8 722.5L884.3 722.4L884.8 722.2L885.3 722.0L885.8 721.9L886.3 721.7L886.8 721.5L887.3 721.3L887.8 721.2L888.3 721.0L888.8 720.9L889.3 720.7L889.8 720.6L890.3 720.5L890.8 720.4L891.3 720.3L891.8 720.3L892.3 720.2L892.8 720.2L893.3 720.2L893.8 720.2L894.3 720.3L894.8 720.4L895.3 720.5L895.8 720.6L896.3 720.8L896.8 721.0L897.3 721.2L897.8 721.5L898.3 721.7L898.8 722.1L899.3 722.4L899.8 722.8L900.3 723.2L900.8 723.6L901.3 724.0L901.8 724.5L902.3 725.0L902.8 725.5L903.3 726.1L903.8 726.6L904.3 727.2L904.8 727.8L905.3 728.4L905.8 729.1L906.3 729.7L906.8 730.4L907.3 731.1L907.8 731.8L908.3 732.5L908.8 733.2L909.3 733.9L909.8 734.6L910.3 735.4L910.8 736.1L911.3 736.8L911.8 737.6L912.3 738.4L912.8 739.1L913.3 739.9L913.8 740.6L914.3 741.4L914.8 742.2L915.3 742.9L915.8 743.7L916.3 744.4L916.8 745.2L917.3 745.9L917.8 746.6L918.3 747.4L918.8 748.1L919.3 748.8L919.8 749.5L920.3 750.1L920.8 750.8L921.3 751.4L921.8 752.1L922.3 752.7L922.8 753.3L923.3 753.9L923.8 754.4L924.3 755.0L924.8 755.5L925.3 756.0L925.8 756.5L926.3 756.9L926.8 757.4L927.3 757.8L927.8 758.2L928.3 758.6L928.8 759.0L929.3 759.3L929.8 759.7L930.3 760.0L930.8 760.3L931.3 760.5L931.8 760.8L932.3 761.1L932.8 761.3L933.3 761.5L933.8 761.7L934.3 761.9L934.8 762.1L935.3 762.3L935.8 762.4L936.3 762.6L936.8 762.7L937.3 762.8L937.8 763.0L938.3 763.1L938.8 763.2L939.3 763.3L939.8 763.4L940.3 763.5L940.8 763.5L941.3 763.6L941.8 763.7L942.3 763.7L942.8 763.8L943.3 763.9L943.8 763.9L944.3 764.0L944.8 764.0L945.3 764.1L945.8 764.1L946.3 764.2L946.8 764.2L947.3 764.3L947.8 764.3L948.3 764.3L948.8 764.4L949.3 764.4L949.8 764.4L950.3 764.4L950.8 764.5L951.3 764.5L951.8 764.5L952.3 764.5L952.8 764.5L953.3 764.5L953.8 764.6L954.3 764.6L954.8 764.6L955.3 764.6L955.8 764.6L956.3 764.6L956.8 764.6L957.3 764.6L957.8 764.6L958.3 764.6L958.8 764.6L959.3 764.6L959.8 764.6L960.3 764.6L960.8 764.6L961.3 764.6L961.8 764.6L962.3 764.6L962.8 764.6L963.3 764.6L963.8 764.6L964.3 764.6L964.8 764.6L965.3 764.6L965.8 764.6L966.3 764.6L966.8 764.6L967.3 764.6L967.8 764.6L968.3 764.6L968.8 764.6L969.3 764.6L969.8 764.6L970.3 764.6L970.8 764.6L971.3 764.6L971.8 764.6L972.3 764.6L972.8 764.6L973.3 764.6L973.8 764.6L974.3 764.6L974.8 764.6L975.3 764.6L975.8 764.6L976.3 764.6L976.8 764.6L977.3 764.6L977.8 764.6L978.3 764.6L978.8 764.6L979.3 764.6L979.8 764.6L980.3 764.6L980.8 764.6L981.3 764.6L981.8 764.6L982.3 764.6L982.8 764.6L983.3 764.6L983.8 764.6L984.3 764.6L984.8 764.6L985.3 764.6L985.8 764.6L986.3 764.6L986.8 764.6L987.3 764.6L987.8 764.6L988.3 764.6L988.8 764.6L989.3 764.6L989.8 764.6L990.3 764.6L990.8 764.6L991.3 764.6L991.8 764.6L992.3 764.6L992.8 764.6L993.3 764.6L993.8 764.6L994.3 764.6L994.8 764.6L995.3 764.6L995.8 764.6L996.3 764.6L996.8 764.6L997.3 764.6L997.8 764.6L998.3 764.6L998.8 764.6L999.3 764.6L999.8 764.6L1000.3 764.6L1000.8 764.6L1001.3 764.6L1001.8 764.6L1002.3 764.6L1002.8 764.6L1003.3 764.6L1003.8 764.6L1004.3 764.6L1004.8 764.6L1005.3 764.6L1005.8 764.6L1006.3 764.6L1006.8 764.6L1007.3 764.6L1007.8 764.6L1008.3 764.6L1008.8 764.6L1009.3 764.6L1009.8 764.6L1010.3 764.6" stroke="#00ffff" stroke-width="3.6"/>
</g>
<g id="panel-a" fill="none" stroke-linejoin="round">
<path d="M55.0 1140.0L55.9 1134.1L56.8 1139.3L57.7 1137.9L58.6 1140.2L59.5 1140.1L60.4 1139.5L61.3 1138.6L62.2 1138.4L63.1 1121.9L64.0 1137.1L64.9 1132.7L65.8 1139.8L66.7 1132.7L67.6 1139.0L68.5 1140.2L69.4 1136.8L70.3 1138.7L71.2 1139.8L72.1 1138.1L73.0 1139.9L73.9 1140.2L74.8 1129.8L75.7 1140.1L76.6 1139.8L77.5 1139.4L78.4 1138.7L79.3 1138.9L80.2 1139.9L81.1 1139.9L82.0 1140.2L82.9 1136.8L83.8 1139.9L84.7 1138.9L85.6 1138.5L86.5 1139.2L87.4 1139.7L88.3 1139.4L89.2 1133.1L90.1 1136.1L91.0 1139.3L91.9 1138.9L92.8 1140.1L93.7 1139.6L94.6 1138.1L95.5 1140.2L96.4 1138.0L97.3 1131.9L98.2 1135.3L99.1 1136.9L100.0 1131.5L100.9 1134.4L101.8 1128.4L102.7 1126.0L103.6 1136.7L104.5 1138.4L105.4 1139.9L106.3 1134.9L107.2 1134.9L108.1 1139.7L109.0 1134.3L109.9 1139.7L110.8 1138.3L111.7 1136.4L112.6 1138.3L113.5 1130.7L114.4 1138.1L115.3 1137.2L116.2 1133.8L117.1 1137.6L118.0 1137.5L118.9 1133.8L119.8 1133.6L120.7 1133.8L121.6 1133.5L122.5 1132.4L123.4 1129.3L124.3 1134.9L125.2 1130.9L126.1 1136.6L127.0 1134.5L127.9 1128.6L128.8 1130.3L129.7 1136.0L130.6 1128.7L131.5 1129.8L132.4 1131.1L133.3 1125.0L134.2 1126.9L135.1 1130.0L136.0 1126.5L136.9 1113.2L137.8 1124.4L138.7 1115.3L139.6 1111.5L140.5 1109.0L141.4 1114.3L142.3 1108.0L143.2 1103.6L144.1 1098.2L145.0 1101.9L145.9 1101.8L146.8 1090.1L147.7 1087.4L148.6 1088.6L149.5 1091.0L150.4 1084.8L151.3 1084.5L152.2 1079.8L153.1 1087.9L154.0 1080.6L154.9 1080.7L155.8 1083.9L156.7 1076.9L157.6 1076.7L158.5 1077.6L159.4 1072.8L160.3 1079.8L161.2 1072.2L162.1 1068.5L163.0 1067.7L163.9 1062.4L164.8 1071.1L165.7 1070.5L166.6 1056.1L167.5 1053.4L168.4 1044.0L169.3 1048.3L170.2 1050.6L171.1 1036.8L172.0 1035.3L172.9 1031.2L173.8 1002.8L174.7 1004.1L175.6 989.4L176.5 975.4L177.4 951.4L178.3 939.8L179.2 912.7L180.1 901.6L181.0 880.7L181.9 842.9L182.8 824.4L183.7 816.2L184.6 808.7L185.5 804.1L186.4 807.3L187.3 793.5L188.2 799.3L189.1 800.7L190.0 801.7L190.9 795.8L191.8 799.6L192.7 799.4L193.6 812.4L194.5 803.7L195.4 795.6L196.3 814.6L197.2 815.3L198.1 812.3L199.0 815.2L199.9 820.1L200.8 836.0L201.7 825.2L202.6 825.2L203.5 826.8L204.4 824.6L205.3 833.8L206.2 828.3L207.1 815.6L208.0 831.0L208.9 832.4L209.8 842.5L210.7 840.9L211.6 842.3L212.5 837.1L213.4 837.6L214.3 831.7L215.2 825.6L216.1 827.2L217.0 827.3L217.9 825.5L218.8 814.3L219.7 817.8L220.6 813.8L221.5 812.3L222.4 825.8L223.3 826.2L224.2 844.3L225.1 826.6L226.0 838.1L226.9 853.2L227.8 868.2L228.7 872.2L229.6 901.7L230.5 915.2L231.4 928.5L232.3 954.4L233.2 978.7L234.1 977.6L235.0 1007.9L235.9 1021.6L236.8 1041.4L237.7 1053.2L238.6 1055.6L239.5 1069.6L240.4 1062.4L241.3 1079.0L242.2 1071.8L243.1 1089.3L244.0 1084.8L244.9 1095.3L245.8 1098.0L246.7 1093.1L247.6 1092.3L248.5 1101.9L249.4 1092.2L250.3 1101.5L251.2 1098.1L252.1 1097.6L253.0 1097.1L253.9 1107.7L254.8 1093.5L255.7 1098.4L256.6 1102.9L257.5 1105.8L258.4 1109.0L259.3 1107.9L260.2 1100.1L261.1 1104.3L262.0 1108.0L262.9 1105.8L263.8 1097.4L264.7 1105.8L265.6 1107.3L266.5 1099.6L267.4 1103.8L268.3 1106.0L269.2 1109.3L270.1 1113.7L271.0 1112.6L271.9 1110.2L272.8 1109.7L273.7 1107.8L274.6 1107.6L275.5 1109.5L276.4 1110.1L277.3 1115.7L278.2 1121.0L279.1 1114.8L280.0 1117.2L280.9 1116.5L281.8 1115.6L282.7 1120.1L283.6 1120.1L284.5 1116.6L285.4 1116.3L286.3 1120.0L287.2 1115.9L288.1 1119.4L289.0 1123.2L289.9 1116.6L290.8 1110.5L291.7 1122.6L292.6 1116.7L293.5 1116.4L294.4 1116.5L295.3 1126.2L296.2 1115.6L297.1 1123.6L298.0 1125.5L298.9 1125.9L299.8 1123.2L300.7 1125.8L301.6 1127.2L302.5 1122.0L303.4 1130.2L304.3 1131.9L305.2 1125.2L306.1 1126.0L307.0 1124.9L307.9 1133.6L308.8 1125.8L309.7 1128.4L310.6 1124.0L311.5 1135.7L312.4 1130.5L313.3 1132.7L314.2 1138.0L315.1 1135.0L316.0 1128.4L316.9 1134.7L317.8 1135.9L318.7 1130.2L319.6 1130.1L320.5 1130.3L321.4 1137.1L322.3 1132.1L323.2 1123.8L324.1 1132.6L325.0 1134.7L325.9 1132.3L326.8 1129.8L327.7 1134.2L328.6 1132.5L329.5 1134.1L330.4 1135.1L331.3 1136.3L332.2 1134.0L333.1 1136.4L334.0 1135.8L334.9 1136.2L335.8 1135.7L336.7 1137.0L337.6 1136.3L338.5 1127.6L339.4 1134.4L340.3 1136.3L341.2 1136.2L342.1 1136.9L343.0 1136.1L343.9 1137.0L344.8 1136.8L345.7 1134.6L346.6 1137.3L347.5 1136.9L348.4 1136.2L349.3 1136.5L350.2 1137.9L351.1 1137.7L352.0 1134.0L352.9 1137.3L353.8 1134.3L354.7 1132.9L355.6 1135.0L356.5 1136.1L357.4 1136.5L358.3 1135.5L359.2 1133.2L360.1 1137.4L361.0 1135.5L361.9 1137.7L362.8 1137.7L363.7 1137.3L364.6 1134.7L365.5 1136.9L366.4 1137.9L367.3 1137.7L368.2 1136.2L369.1 1137.0L370.0 1137.1L370.9 1132.0L371.8 1137.2L372.7 1138.0L373.6 1132.8L374.5 1129.8L375.4 1134.9L376.3 1134.7L377.2 1136.7L378.1 1137.2L379.0 1135.9L379.9 1131.9L380.8 1135.8L381.7 1135.5L382.6 1136.9L383.5 1136.7L384.4 1137.6L385.3 1136.9L386.2 1135.6L387.1 1131.5L388.0 1136.5L388.9 1134.6L389.8 1137.0L390.7 1135.2L391.6 1135.5L392.5 1137.5L393.4 1137.5L394.3 1137.5L395.2 1136.9L396.1 1136.1L397.0 1136.9L397.9 1136.6L398.8 1134.8L399.7 1135.3L400.6 1136.7L401.5 1131.8L402.4 1134.0L403.3 1136.5L404.2 1134.9L405.1 1135.2L406.0 1127.9L406.9 1134.0L407.8 1132.0L408.7 1131.5L409.6 1133.8L410.5 1136.8L411.4 1135.7L412.3 1135.8L413.2 1133.9L414.1 1135.4L415.0 1136.3L415.9 1133.0L416.8 1135.1L417.7 1135.9L418.6 1135.7L419.5 1134.4L420.4 1131.2L421.3 1134.1L422.2 1133.7L423.1 1135.4L424.0 1134.2L424.9 1134.1L425.8 1134.4L426.7 1137.0L427.6 1130.5L428.5 1136.4L429.4 1129.7L430.3 1133.1L431.2 1129.3L432.1 1134.1L433.0 1133.5L433.9 1135.4L434.8 1128.3L435.7 1126.3L436.6 1121.1L437.5 1123.6L438.4 1126.9L439.3 1127.9L440.2 1124.8L441.1 1125.6L442.0 1118.9L442.9 1120.1L443.8 1126.2L444.7 1124.7L445.6 1115.6L446.5 1118.9L447.4 1120.1L448.3 1113.5L449.2 1118.9L450.1 1116.9L451.0 1116.9L451.9 1122.4L452.8 1110.0L453.7 1109.7L454.6 1108.2L455.5 1111.7L456.4 1107.3L457.3 1108.4L458.2 1107.7L459.1 1114.9L460.0 1108.2L460.9 1113.5L461.8 1105.6L462.7 1105.0L463.6 1106.4L464.5 1097.5L465.4 1103.8L466.3 1103.5L467.2 1105.5L468.1 1107.0L469.0 1102.3L469.9 1102.0L470.8 1112.5L471.7 1103.0L472.6 1105.8L473.5 1104.5L474.4 1107.1L475.3 1114.9L476.2 1115.3L477.1 1103.6L478.0 1110.9L478.9 1118.6L479.8 1112.2L480.7 1116.0L481.6 1122.9L482.5 1125.5L483.4 1123.6L484.3 1116.9L485.2 1119.1L486.1 1120.8L487.0 1119.5L487.9 1119.1L488.8 1130.6L489.7 1124.3L490.6 1127.1L491.5 1129.4L492.4 1127.4L493.3 1126.4L494.2 1127.6L495.1 1132.8L496.0 1129.7L496.9 1120.6L497.8 1132.9L498.7 1135.7L499.6 1128.7L500.5 1127.8L501.4 1128.7L502.3 1135.1L503.2 1127.3L504.1 1134.4L505.0 1135.9L505.9 1134.2L506.8 1132.5L507.7 1129.5L508.6 1130.0L509.5 1132.6L510.4 1129.1L511.3 1132.4L512.2 1129.4L513.1 1138.1L514.0 1138.8L514.9 1130.1L515.8 1138.2L516.7 1134.1L517.6 1133.4L518.5 1134.8L519.4 1134.7L520.3 1127.8L521.2 1140.2L522.1 1129.7L523.0 1124.4L523.9 1132.8" stroke="#000" stroke-width="1.25"/>
<path d="M540.8 1139.9L541.6 1137.2L542.5 1139.1L543.4 1137.9L544.2 1137.8L545.1 1136.1L545.9 1132.1L546.8 1135.5L547.6 1139.7L548.5 1139.1L549.3 1139.1L550.2 1138.8L551.0 1136.1L551.9 1139.7L552.7 1127.3L553.6 1128.6L554.4 1138.4L555.3 1138.9L556.1 1139.1L557.0 1138.2L557.8 1139.9L558.7 1139.2L559.5 1135.9L560.4 1138.4L561.2 1136.8L562.1 1133.8L562.9 1138.8L563.8 1139.3L564.6 1140.2L565.5 1140.2L566.3 1140.0L567.2 1140.2L568.0 1139.5L568.9 1133.3L569.7 1139.2L570.6 1139.7L571.4 1135.1L572.3 1137.8L573.1 1136.7L574.0 1136.2L574.8 1134.0L575.7 1130.2L576.5 1131.8L577.4 1121.3L578.2 1119.3L579.1 1119.2L579.9 1120.7L580.8 1107.1L581.6 1103.9L582.5 1110.2L583.3 1101.3L584.2 1094.4L585.0 1090.6L585.9 1078.0L586.7 1072.5L587.6 1074.5L588.4 1062.7L589.3 1060.2L590.1 1047.0L591.0 1048.5L591.8 1035.5L592.7 1035.1L593.5 1030.2L594.4 1034.7L595.2 1040.7L596.1 1024.7L596.9 1034.2L597.8 1026.3L598.6 1030.6L599.5 1028.7L600.3 1022.2L601.2 1028.7L602.0 1022.6L602.9 1036.1L603.7 1023.9L604.6 1029.0L605.4 1028.3L606.3 1027.7L607.1 1026.3L608.0 1020.3L608.8 1038.4L609.7 1029.7L610.5 1034.3L611.4 1025.8L612.2 1027.6L613.1 1025.8L613.9 1033.9L614.8 1031.4L615.6 1030.3L616.5 1037.7L617.3 1035.9L618.2 1043.4L619.0 1035.2L619.9 1032.7L620.7 1039.8L621.6 1031.7L622.4 1047.4L623.3 1046.3L624.1 1043.9L625.0 1039.3L625.8 1036.5L626.7 1036.5L627.5 1035.9L628.4 1031.2L629.2 1036.2L630.1 1039.1L630.9 1037.8L631.8 1020.0L632.6 1040.7L633.5 1028.6L634.3 1019.1L635.2 1022.7L636.0 1028.0L636.9 1022.8L637.7 1017.6L638.6 1015.1L639.4 1025.2L640.3 1016.6L641.1 1019.1L642.0 1015.1L642.8 1014.2L643.7 1023.7L644.5 1030.3L645.4 1022.4L646.2 1017.1L647.1 1024.2L647.9 1028.4L648.8 1019.5L649.6 1038.3L650.5 1030.5L651.3 1039.1L652.2 1037.2L653.0 1037.8L653.9 1031.4L654.7 1043.9L655.6 1042.5L656.4 1048.7L657.3 1040.3L658.1 1047.2L659.0 1046.8L659.8 1058.8L660.7 1061.1L661.5 1060.7L662.4 1072.9L663.2 1075.7L664.1 1082.3L664.9 1092.0L665.8 1102.4L666.6 1095.9L667.5 1103.4L668.3 1103.6L669.2 1119.4L670.0 1120.8L670.9 1125.4L671.7 1122.7L672.6 1117.4L673.4 1121.5L674.3 1123.7L675.1 1125.5L676.0 1125.8L676.8 1132.0L677.7 1130.7L678.5 1129.1L679.4 1139.5L680.2 1134.6L681.1 1130.1L681.9 1134.8L682.8 1135.2L683.6 1134.6L684.5 1134.6L685.3 1130.9L686.2 1134.4L687.0 1138.3L687.9 1140.2L688.7 1136.0L689.6 1140.2L690.4 1140.2L691.3 1130.2L692.1 1130.3L693.0 1140.0L693.8 1129.4L694.7 1130.8L695.5 1135.3L696.4 1129.4L697.2 1138.3L698.1 1136.5L698.9 1137.3L699.8 1135.9L700.6 1128.2L701.5 1136.5L702.3 1135.7L703.2 1134.8L704.0 1130.3L704.9 1132.2L705.7 1127.4L706.6 1128.2L707.4 1131.5L708.3 1130.7L709.1 1130.0L710.0 1133.6L710.8 1128.8L711.7 1122.7L712.5 1131.8L713.4 1129.3L714.2 1124.1L715.1 1131.7L715.9 1132.3L716.8 1133.1L717.6 1127.2L718.5 1126.7L719.3 1129.1L720.2 1128.2L721.0 1123.3L721.9 1124.8L722.7 1133.5L723.6 1128.0L724.4 1127.5L725.3 1125.0L726.1 1128.6L727.0 1130.1L727.8 1129.3L728.7 1134.4L729.5 1127.5L730.4 1129.6L731.2 1125.4L732.1 1131.2L732.9 1128.9L733.8 1130.9L734.6 1131.2L735.5 1124.3L736.3 1128.8L737.2 1125.2L738.0 1131.3L738.9 1126.6L739.7 1133.6L740.6 1128.8L741.4 1128.9L742.3 1124.7L743.1 1126.3L744.0 1127.7L744.8 1123.8L745.7 1126.3L746.5 1125.0L747.4 1123.9L748.2 1127.2L749.1 1128.3L749.9 1126.0L750.8 1129.0L751.6 1125.9L752.5 1123.2L753.3 1124.3L754.2 1129.2L755.0 1132.8L755.9 1128.1L756.7 1128.5L757.6 1123.8L758.4 1129.7L759.3 1129.1L760.1 1125.5L761.0 1130.4L761.8 1129.3L762.7 1122.1L763.5 1123.1L764.4 1126.6L765.2 1128.1L766.1 1133.0L766.9 1127.3L767.8 1129.3L768.6 1128.9L769.5 1131.9L770.3 1130.1L771.2 1130.9L772.0 1129.1L772.9 1125.0L773.7 1128.5L774.6 1136.2L775.4 1134.2L776.3 1137.0L777.1 1134.3L778.0 1129.3L778.8 1130.0L779.7 1134.0L780.5 1130.8L781.4 1134.9L782.2 1137.6L783.1 1137.6L783.9 1135.7L784.8 1127.3L785.6 1137.8L786.5 1128.2L787.3 1128.1L788.2 1133.9L789.0 1133.6L789.9 1135.8L790.7 1133.8L791.6 1131.3L792.4 1133.9L793.3 1130.4L794.1 1129.8L795.0 1133.1L795.8 1133.3L796.7 1134.8L797.5 1133.4L798.4 1133.1L799.2 1133.5L800.1 1134.3L800.9 1133.8L801.8 1127.3L802.6 1133.9L803.5 1134.1L804.3 1134.6L805.2 1132.9L806.0 1134.5L806.9 1133.6L807.7 1134.4L808.6 1135.5L809.4 1134.8L810.3 1132.0L811.1 1133.1L812.0 1131.8L812.8 1133.9L813.7 1135.2L814.5 1132.0L815.4 1135.1L816.2 1133.8L817.1 1127.0L817.9 1131.6L818.8 1134.9L819.6 1132.8L820.5 1132.2L821.3 1133.3L822.2 1134.8L823.0 1133.2L823.9 1134.4L824.7 1137.1L825.6 1129.3L826.4 1132.2L827.3 1136.8L828.1 1133.3L829.0 1137.3L829.8 1131.8L830.7 1129.0L831.5 1129.0L832.4 1136.2L833.2 1128.6L834.1 1123.6L834.9 1122.6L835.8 1117.1L836.6 1124.7L837.5 1114.9L838.3 1117.1L839.2 1110.8L840.0 1106.8L840.9 1102.5L841.7 1104.7L842.6 1098.3L843.4 1101.2L844.3 1099.7L845.1 1088.6L846.0 1089.3L846.8 1094.7L847.7 1089.9L848.5 1084.8L849.4 1076.8L850.2 1078.1L851.1 1078.1L851.9 1088.6L852.8 1079.8L853.6 1075.9L854.5 1075.0L855.3 1073.7L856.2 1075.5L857.0 1065.3L857.9 1065.6L858.7 1065.7L859.6 1070.7L860.4 1059.0L861.3 1072.6L862.1 1064.3L863.0 1060.9L863.8 1074.2L864.7 1068.7L865.5 1071.9L866.4 1068.3L867.2 1069.7L868.1 1062.8L868.9 1069.6L869.8 1073.0L870.6 1064.6L871.5 1072.6L872.3 1075.4L873.2 1065.2L874.0 1079.7L874.9 1078.7L875.7 1076.7L876.6 1082.1L877.4 1087.2L878.3 1073.0L879.1 1081.6L880.0 1080.7L880.8 1080.0L881.7 1082.9L882.5 1078.3L883.4 1073.9L884.2 1065.9L885.1 1074.9L885.9 1074.6L886.8 1084.7L887.6 1074.9L888.5 1080.5L889.3 1072.4L890.2 1077.3L891.0 1075.6L891.9 1075.7L892.7 1074.5L893.6 1079.0L894.4 1070.2L895.3 1079.6L896.1 1078.3L897.0 1073.9L897.8 1075.6L898.7 1071.0L899.5 1067.6L900.4 1071.2L901.2 1071.7L902.1 1072.8L902.9 1069.5L903.8 1082.6L904.6 1073.3L905.5 1080.1L906.3 1082.6L907.2 1078.1L908.0 1081.2L908.9 1070.5L909.7 1071.5L910.6 1091.8L911.4 1085.4L912.3 1077.7L913.1 1083.8L914.0 1082.4L914.8 1083.4L915.7 1092.6L916.5 1094.9L917.4 1089.6L918.2 1089.7L919.1 1094.6L919.9 1095.4L920.8 1097.0L921.6 1109.4L922.5 1106.2L923.3 1100.8L924.2 1101.5L925.0 1114.0L925.9 1108.9L926.7 1121.1L927.6 1124.6L928.4 1132.5L929.3 1121.8L930.1 1125.9L931.0 1117.8L931.8 1128.6L932.7 1131.6L933.5 1140.2L934.4 1129.5L935.2 1135.5L936.1 1136.9L936.9 1135.2L937.8 1135.1L938.6 1135.7L939.5 1139.1L940.3 1140.0L941.2 1139.1L942.0 1137.2L942.9 1140.1L943.7 1134.4L944.6 1139.7L945.4 1139.2L946.3 1139.3L947.1 1136.7L948.0 1138.8L948.8 1136.5L949.7 1139.1L950.5 1138.8L951.4 1138.9L952.2 1137.5L953.1 1139.7L953.9 1138.5L954.8 1138.0L955.6 1139.2L956.5 1137.3L957.3 1129.5L958.2 1138.5L959.0 1136.6L959.9 1138.5L960.7 1138.0L961.6 1138.5L962.4 1140.2L963.3 1140.0L964.1 1139.7L965.0 1140.1L965.8 1137.9L966.7 1134.8L967.5 1140.2L968.4 1138.6L969.2 1130.7L970.1 1136.4L970.9 1138.4L971.8 1140.1L972.6 1132.8L973.5 1138.9L974.3 1137.8L975.2 1138.4L976.0 1139.8L976.9 1139.7L977.7 1140.0L978.6 1138.9L979.4 1139.6L980.3 1134.9L981.1 1139.2L982.0 1139.9L982.8 1139.9L983.7 1139.0L984.5 1138.8L985.4 1138.5L986.2 1140.1L987.1 1134.3L987.9 1140.2L988.8 1139.7L989.6 1139.3L990.5 1138.5L991.3 1139.7L992.2 1140.1L993.0 1139.9L993.9 1138.1L994.7 1137.6L995.6 1139.1L996.4 1138.3L997.3 1136.2L998.1 1139.8L999.0 1139.8L999.8 1139.1L1000.7 1137.6L1001.5 1140.0L1002.4 1139.9L1003.2 1138.0L1004.1 1136.7L1004.9 1139.3L1005.8 1138.8L1006.6 1136.5L1007.5 1140.2L1008.3 1140.2L1009.2 1138.3L1010.0 1139.2" stroke="#000" stroke-width="1.25"/>
<path d="M93.0 1140.5L93.5 1140.5L94.0 1140.5L94.5 1140.5L95.0 1140.5L95.5 1140.5L96.0 1140.5L96.5 1140.5L97.0 1140.5L97.5 1140.5L98.0 1140.5L98.5 1140.5L99.0 1140.5L99.5 1140.5L100.0 1140.4L100.5 1140.4L101.0 1140.4L101.5 1140.4L102.0 1140.4L102.5 1140.4L103.0 1140.4L103.5 1140.4L104.0 1140.4L104.5 1140.3L105.0 1140.3L105.5 1140.3L106.0 1140.3L106.5 1140.2L107.0 1140.2L107.5 1140.2L108.0 1140.2L108.5 1140.1L109.0 1140.1L109.5 1140.0L110.0 1140.0L110.5 1139.9L111.0 1139.8L111.5 1139.8L112.0 1139.7L112.5 1139.6L113.0 1139.5L113.5 1139.4L114.0 1139.3L114.5 1139.2L115.0 1139.1L115.5 1138.9L116.0 1138.8L116.5 1138.6L117.0 1138.5L117.5 1138.3L118.0 1138.1L118.5 1137.9L119.0 1137.6L119.5 1137.4L120.0 1137.1L120.5 1136.8L121.0 1136.5L121.5 1136.2L122.0 1135.9L122.5 1135.5L123.0 1135.1L123.5 1134.7L124.0 1134.3L124.5 1133.9L125.0 1133.4L125.5 1132.9L126.0 1132.3L126.5 1131.8L127.0 1131.2L127.5 1130.6L128.0 1130.0L128.5 1129.3L129.0 1128.6L129.5 1127.9L130.0 1127.1L130.5 1126.4L131.0 1125.6L131.5 1124.7L132.0 1123.9L132.5 1123.0L133.0 1122.1L133.5 1121.1L134.0 1120.2L134.5 1119.2L135.0 1118.2L135.5 1117.2L136.0 1116.2L136.5 1115.1L137.0 1114.0L137.5 1112.9L138.0 1111.9L138.5 1110.8L139.0 1109.6L139.5 1108.5L140.0 1107.4L140.5 1106.3L141.0 1105.2L141.5 1104.1L142.0 1103.0L142.5 1101.9L143.0 1100.9L143.5 1099.8L144.0 1098.8L144.5 1097.8L145.0 1096.9L145.5 1095.9L146.0 1095.0L146.5 1094.1L147.0 1093.3L147.5 1092.5L148.0 1091.8L148.5 1091.1L149.0 1090.4L149.5 1089.8L150.0 1089.3L150.5 1088.8L151.0 1088.4L151.5 1088.0L152.0 1087.7L152.5 1087.4L153.0 1087.2L153.5 1087.1L154.0 1087.0L154.5 1087.0L155.0 1087.1L155.5 1087.2L156.0 1087.4L156.5 1087.7L157.0 1088.0L157.5 1088.5L158.0 1089.0L158.5 1089.5L159.0 1090.1L159.5 1090.8L160.0 1091.5L160.5 1092.3L161.0 1093.2L161.5 1094.1L162.0 1095.0L162.5 1096.0L163.0 1097.0L163.5 1098.0L164.0 1099.1L164.5 1100.2L165.0 1101.4L165.5 1102.5L166.0 1103.7L166.5 1104.9L167.0 1106.1L167.5 1107.3L168.0 1108.5L168.5 1109.7L169.0 1110.9L169.5 1112.1L170.0 1113.2L170.5 1114.4L171.0 1115.6L171.5 1116.7L172.0 1117.8L172.5 1118.9L173.0 1120.0L173.5 1121.0L174.0 1122.0L174.5 1123.0L175.0 1123.9L175.5 1124.9L176.0 1125.8L176.5 1126.6L177.0 1127.5L177.5 1128.2L178.0 1129.0L178.5 1129.7L179.0 1130.4L179.5 1131.1L180.0 1131.7L180.5 1132.3L181.0 1132.9L181.5 1133.5L182.0 1134.0L182.5 1134.4L183.0 1134.9L183.5 1135.3L184.0 1135.7L184.5 1136.1L185.0 1136.5L185.5 1136.8L186.0 1137.1L186.5 1137.4L187.0 1137.6L187.5 1137.9L188.0 1138.1L188.5 1138.3L189.0 1138.5L189.5 1138.7L190.0 1138.9L190.5 1139.0L191.0 1139.2L191.5 1139.3L192.0 1139.4L192.5 1139.5L193.0 1139.6L193.5 1139.7L194.0 1139.8L194.5 1139.9L195.0 1139.9L195.5 1140.0L196.0 1140.0L196.5 1140.1L197.0 1140.1L197.5 1140.2L198.0 1140.2L198.5 1140.2L199.0 1140.3L199.5 1140.3L200.0 1140.3L200.5 1140.3L201.0 1140.4L201.5 1140.4L202.0 1140.4L202.5 1140.4L203.0 1140.4L203.5 1140.4L204.0 1140.4L204.5 1140.4L205.0 1140.5L205.5 1140.5L206.0 1140.5L206.5 1140.5L207.0 1140.5L207.5 1140.5L208.0 1140.5L208.5 1140.5L209.0 1140.5L209.5 1140.5L210.0 1140.5L210.5 1140.5L211.0 1140.5" stroke="#808000" stroke-width="3"/>
<path d="M143.3 1140.5L143.8 1140.4L144.3 1140.4L144.8 1140.4L145.3 1140.4L145.8 1140.4L146.3 1140.4L146.8 1140.3L147.3 1140.3L147.8 1140.3L148.3 1140.2L148.8 1140.2L149.3 1140.1L149.8 1140.1L150.3 1140.0L150.8 1139.9L151.3 1139.8L151.8 1139.7L152.3 1139.6L152.8 1139.4L153.3 1139.3L153.8 1139.1L154.3 1138.9L154.8 1138.6L155.3 1138.3L155.8 1138.0L156.3 1137.7L156.8 1137.3L157.3 1136.8L157.8 1136.3L158.3 1135.7L158.8 1135.1L159.3 1134.4L159.8 1133.6L160.3 1132.8L160.8 1131.8L161.3 1130.7L161.8 1129.6L162.3 1128.3L162.8 1126.9L163.3 1125.3L163.8 1123.6L164.3 1121.8L164.8 1119.8L165.3 1117.6L165.8 1115.2L166.3 1112.6L166.8 1109.9L167.3 1106.9L167.8 1103.7L168.3 1100.3L168.8 1096.6L169.3 1092.7L169.8 1088.5L170.3 1084.1L170.8 1079.4L171.3 1074.5L171.8 1069.3L172.3 1063.8L172.8 1058.0L173.3 1052.0L173.8 1045.7L174.3 1039.1L174.8 1032.4L175.3 1025.3L175.8 1018.0L176.3 1010.6L176.8 1002.9L177.3 995.0L177.8 987.0L178.3 978.8L178.8 970.5L179.3 962.1L179.8 953.6L180.3 945.1L180.8 936.6L181.3 928.1L181.8 919.7L182.3 911.4L182.8 903.2L183.3 895.1L183.8 887.3L184.3 879.7L184.8 872.3L185.3 865.3L185.8 858.6L186.3 852.3L186.8 846.3L187.3 840.9L187.8 835.8L188.3 831.3L188.8 827.3L189.3 823.8L189.8 820.9L190.3 818.6L190.8 816.8L191.3 815.6L191.8 815.1L192.3 815.1L192.8 815.7L193.3 817.0L193.8 818.8L194.3 821.2L194.8 824.2L195.3 827.8L195.8 831.8L196.3 836.4L196.8 841.5L197.3 847.0L197.8 853.0L198.3 859.4L198.8 866.1L199.3 873.2L199.8 880.6L200.3 888.2L200.8 896.1L201.3 904.1L201.8 912.4L202.3 920.7L202.8 929.1L203.3 937.6L203.8 946.1L204.3 954.6L204.8 963.1L205.3 971.5L205.8 979.8L206.3 987.9L206.8 995.9L207.3 1003.8L207.8 1011.5L208.3 1018.9L208.8 1026.2L209.3 1033.2L209.8 1039.9L210.3 1046.5L210.8 1052.7L211.3 1058.7L211.8 1064.4L212.3 1069.9L212.8 1075.1L213.3 1080.0L213.8 1084.6L214.3 1089.0L214.8 1093.2L215.3 1097.1L215.8 1100.7L216.3 1104.1L216.8 1107.3L217.3 1110.2L217.8 1113.0L218.3 1115.5L218.8 1117.8L219.3 1120.0L219.8 1122.0L220.3 1123.8L220.8 1125.5L221.3 1127.0L221.8 1128.4L222.3 1129.7L222.8 1130.9L223.3 1131.9L223.8 1132.9L224.3 1133.7L224.8 1134.5L225.3 1135.2L225.8 1135.8L226.3 1136.4L226.8 1136.9L227.3 1137.3L227.8 1137.7L228.3 1138.1L228.8 1138.4L229.3 1138.6L229.8 1138.9L230.3 1139.1L230.8 1139.3L231.3 1139.4L231.8 1139.6L232.3 1139.7L232.8 1139.8L233.3 1139.9L233.8 1140.0L234.3 1140.1L234.8 1140.1L235.3 1140.2L235.8 1140.2L236.3 1140.3L236.8 1140.3L237.3 1140.3L237.8 1140.4L238.3 1140.4L238.8 1140.4L239.3 1140.4L239.8 1140.4L240.3 1140.4" stroke="#808000" stroke-width="3"/>
<path d="M179.2 1140.5L179.7 1140.5L180.2 1140.4L180.7 1140.4L181.2 1140.4L181.7 1140.4L182.2 1140.4L182.7 1140.3L183.2 1140.3L183.7 1140.2L184.2 1140.2L184.7 1140.1L185.2 1140.1L185.7 1140.0L186.2 1139.9L186.7 1139.7L187.2 1139.6L187.7 1139.4L188.2 1139.2L188.7 1139.0L189.2 1138.7L189.7 1138.4L190.2 1138.0L190.7 1137.6L191.2 1137.1L191.7 1136.6L192.2 1136.0L192.7 1135.2L193.2 1134.4L193.7 1133.5L194.2 1132.5L194.7 1131.3L195.2 1130.0L195.7 1128.6L196.2 1126.9L196.7 1125.1L197.2 1123.1L197.7 1120.9L198.2 1118.5L198.7 1115.9L199.2 1112.9L199.7 1109.8L200.2 1106.3L200.7 1102.6L201.2 1098.6L201.7 1094.2L202.2 1089.6L202.7 1084.6L203.2 1079.4L203.7 1073.8L204.2 1067.9L204.7 1061.6L205.2 1055.1L205.7 1048.2L206.2 1041.1L206.7 1033.7L207.2 1026.1L207.7 1018.3L208.2 1010.2L208.7 1002.0L209.2 993.7L209.7 985.3L210.2 976.8L210.7 968.3L211.2 959.9L211.7 951.6L212.2 943.4L212.7 935.4L213.2 927.6L213.7 920.2L214.2 913.0L214.7 906.3L215.2 900.0L215.7 894.2L216.2 888.9L216.7 884.2L217.2 880.1L217.7 876.6L218.2 873.8L218.7 871.7L219.2 870.3L219.7 869.6L220.2 869.6L220.7 870.3L221.2 871.8L221.7 873.9L222.2 876.8L222.7 880.3L223.2 884.4L223.7 889.1L224.2 894.4L224.7 900.2L225.2 906.6L225.7 913.3L226.2 920.4L226.7 927.9L227.2 935.7L227.7 943.7L228.2 951.9L228.7 960.3L229.2 968.7L229.7 977.1L230.2 985.6L230.7 994.0L231.2 1002.3L231.7 1010.5L232.2 1018.6L232.7 1026.4L233.2 1034.0L233.7 1041.4L234.2 1048.5L234.7 1055.4L235.2 1061.9L235.7 1068.1L236.2 1074.0L236.7 1079.6L237.2 1084.9L237.7 1089.8L238.2 1094.4L238.7 1098.7L239.2 1102.8L239.7 1106.5L240.2 1109.9L240.7 1113.1L241.2 1116.0L241.7 1118.6L242.2 1121.0L242.7 1123.2L243.2 1125.2L243.7 1127.0L244.2 1128.6L244.7 1130.1L245.2 1131.4L245.7 1132.5L246.2 1133.6L246.7 1134.5L247.2 1135.3L247.7 1136.0L248.2 1136.6L248.7 1137.2L249.2 1137.6L249.7 1138.1L250.2 1138.4L250.7 1138.7L251.2 1139.0L251.7 1139.2L252.2 1139.4L252.7 1139.6L253.2 1139.7L253.7 1139.9L254.2 1140.0L254.7 1140.1L255.2 1140.1L255.7 1140.2L256.2 1140.2L256.7 1140.3L257.2 1140.3L257.7 1140.4L258.2 1140.4L258.7 1140.4L259.2 1140.4L259.7 1140.4L260.2 1140.5" stroke="#808000" stroke-width="3"/>
<path d="M90.9 1140.5L91.4 1140.5L91.9 1140.5L92.4 1140.5L92.9 1140.5L93.4 1140.5L93.9 1140.5L94.4 1140.5L94.9 1140.5L95.4 1140.5L95.9 1140.5L96.4 1140.5L96.9 1140.5L97.4 1140.5L97.9 1140.5L98.4 1140.5L98.9 1140.5L99.4 1140.5L99.9 1140.5L100.4 1140.5L100.9 1140.5L101.4 1140.5L101.9 1140.5L102.4 1140.5L102.9 1140.5L103.4 1140.5L103.9 1140.5L104.4 1140.5L104.9 1140.5L105.4 1140.5L105.9 1140.5L106.4 1140.5L106.9 1140.5L107.4 1140.5L107.9 1140.5L108.4 1140.5L108.9 1140.5L109.4 1140.5L109.9 1140.5L110.4 1140.5L110.9 1140.4L111.4 1140.4L111.9 1140.4L112.4 1140.4L112.9 1140.4L113.4 1140.4L113.9 1140.4L114.4 1140.4L114.9 1140.4L115.4 1140.4L115.9 1140.4L116.4 1140.4L116.9 1140.4L117.4 1140.4L117.9 1140.4L118.4 1140.4L118.9 1140.4L119.4 1140.4L119.9 1140.4L120.4 1140.4L120.9 1140.4L121.4 1140.4L121.9 1140.4L122.4 1140.4L122.9 1140.3L123.4 1140.3L123.9 1140.3L124.4 1140.3L124.9 1140.3L125.4 1140.3L125.9 1140.3L126.4 1140.3L126.9 1140.3L127.4 1140.3L127.9 1140.3L128.4 1140.2L128.9 1140.2L129.4 1140.2L129.9 1140.2L130.4 1140.2L130.9 1140.2L131.4 1140.2L131.9 1140.2L132.4 1140.1L132.9 1140.1L133.4 1140.1L133.9 1140.1L134.4 1140.1L134.9 1140.1L135.4 1140.0L135.9 1140.0L136.4 1140.0L136.9 1140.0L137.4 1140.0L137.9 1139.9L138.4 1139.9L138.9 1139.9L139.4 1139.9L139.9 1139.8L140.4 1139.8L140.9 1139.8L141.4 1139.8L141.9 1139.7L142.4 1139.7L142.9 1139.7L143.4 1139.6L143.9 1139.6L144.4 1139.6L144.9 1139.5L145.4 1139.5L145.9 1139.5L146.4 1139.4L146.9 1139.4L147.4 1139.4L147.9 1139.3L148.4 1139.3L148.9 1139.2L149.4 1139.2L149.9 1139.1L150.4 1139.1L150.9 1139.0L151.4 1139.0L151.9 1138.9L152.4 1138.9L152.9 1138.8L153.4 1138.8L153.9 1138.7L154.4 1138.6L154.9 1138.6L155.4 1138.5L155.9 1138.4L156.4 1138.4L156.9 1138.3L157.4 1138.2L157.9 1138.2L158.4 1138.1L158.9 1138.0L159.4 1137.9L159.9 1137.8L160.4 1137.8L160.9 1137.7L161.4 1137.6L161.9 1137.5L162.4 1137.4L162.9 1137.3L163.4 1137.2L163.9 1137.1L164.4 1137.0L164.9 1136.9L165.4 1136.8L165.9 1136.7L166.4 1136.5L166.9 1136.4L167.4 1136.3L167.9 1136.2L168.4 1136.1L168.9 1135.9L169.4 1135.8L169.9 1135.7L170.4 1135.5L170.9 1135.4L171.4 1135.3L171.9 1135.1L172.4 1135.0L172.9 1134.8L173.4 1134.7L173.9 1134.5L174.4 1134.3L174.9 1134.2L175.4 1134.0L175.9 1133.8L176.4 1133.7L176.9 1133.5L177.4 1133.3L177.9 1133.1L178.4 1132.9L178.9 1132.8L179.4 1132.6L179.9 1132.4L180.4 1132.2L180.9 1132.0L181.4 1131.8L181.9 1131.6L182.4 1131.3L182.9 1131.1L183.4 1130.9L183.9 1130.7L184.4 1130.5L184.9 1130.2L185.4 1130.0L185.9 1129.8L186.4 1129.5L186.9 1129.3L187.4 1129.0L187.9 1128.8L188.4 1128.5L188.9 1128.3L189.4 1128.0L189.9 1127.8L190.4 1127.5L190.9 1127.2L191.4 1127.0L191.9 1126.7L192.4 1126.4L192.9 1126.1L193.4 1125.9L193.9 1125.6L194.4 1125.3L194.9 1125.0L195.4 1124.7L195.9 1124.4L196.4 1124.1L196.9 1123.8L197.4 1123.5L197.9 1123.2L198.4 1122.9L198.9 1122.6L199.4 1122.3L199.9 1122.0L200.4 1121.6L200.9 1121.3L201.4 1121.0L201.9 1120.7L202.4 1120.4L202.9 1120.0L203.4 1119.7L203.9 1119.4L204.4 1119.1L204.9 1118.7L205.4 1118.4L205.9 1118.1L206.4 1117.7L206.9 1117.4L207.4 1117.1L207.9 1116.7L208.4 1116.4L208.9 1116.1L209.4 1115.7L209.9 1115.4L210.4 1115.1L210.9 1114.7L211.4 1114.4L211.9 1114.1L212.4 1113.8L212.9 1113.4L213.4 1113.1L213.9 1112.8L214.4 1112.4L214.9 1112.1L215.4 1111.8L215.9 1111.5L216.4 1111.1L216.9 1110.8L217.4 1110.5L217.9 1110.2L218.4 1109.9L218.9 1109.6L219.4 1109.3L219.9 1108.9L220.4 1108.6L220.9 1108.3L221.4 1108.0L221.9 1107.8L222.4 1107.5L222.9 1107.2L223.4 1106.9L223.9 1106.6L224.4 1106.3L224.9 1106.1L225.4 1105.8L225.9 1105.5L226.4 1105.3L226.9 1105.0L227.4 1104.8L227.9 1104.5L228.4 1104.3L228.9 1104.1L229.4 1103.8L229.9 1103.6L230.4 1103.4L230.9 1103.2L231.4 1103.0L231.9 1102.8L232.4 1102.6L232.9 1102.4L233.4 1102.2L233.9 1102.0L234.4 1101.9L234.9 1101.7L235.4 1101.5L235.9 1101.4L236.4 1101.2L236.9 1101.1L237.4 1101.0L237.9 1100.8L238.4 1100.7L238.9 1100.6L239.4 1100.5L239.9 1100.4L240.4 1100.3L240.9 1100.2L241.4 1100.2L241.9 1100.1L242.4 1100.0L242.9 1100.0L243.4 1099.9L243.9 1099.9L244.4 1099.9L244.9 1099.8L245.4 1099.8L245.9 1099.8L246.4 1099.8L246.9 1099.8L247.4 1099.8L247.9 1099.8L248.4 1099.9L248.9 1099.9L249.4 1099.9L249.9 1100.0L250.4 1100.0L250.9 1100.1L251.4 1100.2L251.9 1100.3L252.4 1100.3L252.9 1100.4L253.4 1100.5L253.9 1100.6L254.4 1100.8L254.9 1100.9L255.4 1101.0L255.9 1101.1L256.4 1101.3L256.9 1101.4L257.4 1101.6L257.9 1101.8L258.4 1101.9L258.9 1102.1L259.4 1102.3L259.9 1102.5L260.4 1102.7L260.9 1102.8L261.4 1103.1L261.9 1103.3L262.4 1103.5L262.9 1103.7L263.4 1103.9L263.9 1104.2L264.4 1104.4L264.9 1104.6L265.4 1104.9L265.9 1105.1L266.4 1105.4L266.9 1105.6L267.4 1105.9L267.9 1106.2L268.4 1106.4L268.9 1106.7L269.4 1107.0L269.9 1107.3L270.4 1107.6L270.9 1107.9L271.4 1108.2L271.9 1108.5L272.4 1108.8L272.9 1109.1L273.4 1109.4L273.9 1109.7L274.4 1110.0L274.9 1110.3L275.4 1110.6L275.9 1110.9L276.4 1111.3L276.9 1111.6L277.4 1111.9L277.9 1112.2L278.4 1112.6L278.9 1112.9L279.4 1113.2L279.9 1113.6L280.4 1113.9L280.9 1114.2L281.4 1114.5L281.9 1114.9L282.4 1115.2L282.9 1115.5L283.4 1115.9L283.9 1116.2L284.4 1116.5L284.9 1116.9L285.4 1117.2L285.9 1117.5L286.4 1117.9L286.9 1118.2L287.4 1118.5L287.9 1118.9L288.4 1119.2L288.9 1119.5L289.4 1119.8L289.9 1120.2L290.4 1120.5L290.9 1120.8L291.4 1121.1L291.9 1121.5L292.4 1121.8L292.9 1122.1L293.4 1122.4L293.9 1122.7L294.4 1123.0L294.9 1123.3L295.4 1123.6L295.9 1123.9L296.4 1124.2L296.9 1124.5L297.4 1124.8L297.9 1125.1L298.4 1125.4L298.9 1125.7L299.4 1126.0L299.9 1126.2L300.4 1126.5L300.9 1126.8L301.4 1127.1L301.9 1127.3L302.4 1127.6L302.9 1127.9L303.4 1128.1L303.9 1128.4L304.4 1128.6L304.9 1128.9L305.4 1129.1L305.9 1129.4L306.4 1129.6L306.9 1129.9L307.4 1130.1L307.9 1130.3L308.4 1130.5L308.9 1130.8L309.4 1131.0L309.9 1131.2L310.4 1131.4L310.9 1131.6L311.4 1131.8L311.9 1132.0L312.4 1132.2L312.9 1132.4L313.4 1132.6L313.9 1132.8L314.4 1133.0L314.9 1133.2L315.4 1133.4L315.9 1133.6L316.4 1133.7L316.9 1133.9L317.4 1134.1L317.9 1134.2L318.4 1134.4L318.9 1134.6L319.4 1134.7L319.9 1134.9L320.4 1135.0L320.9 1135.2L321.4 1135.3L321.9 1135.5L322.4 1135.6L322.9 1135.7L323.4 1135.9L323.9 1136.0L324.4 1136.1L324.9 1136.2L325.4 1136.4L325.9 1136.5L326.4 1136.6L326.9 1136.7L327.4 1136.8L327.9 1136.9L328.4 1137.0L328.9 1137.1L329.4 1137.2L329.9 1137.3L330.4 1137.4L330.9 1137.5L331.4 1137.6L331.9 1137.7L332.4 1137.8L332.9 1137.9L333.4 1138.0L333.9 1138.0L334.4 1138.1L334.9 1138.2L335.4 1138.3L335.9 1138.3L336.4 1138.4L336.9 1138.5L337.4 1138.5L337.9 1138.6L338.4 1138.7L338.9 1138.7L339.4 1138.8L339.9 1138.8L340.4 1138.9L340.9 1139.0L341.4 1139.0L341.9 1139.1L342.4 1139.1L342.9 1139.2L343.4 1139.2L343.9 1139.2L344.4 1139.3L344.9 1139.3L345.4 1139.4L345.9 1139.4L346.4 1139.5L346.9 1139.5L347.4 1139.5L347.9 1139.6L348.4 1139.6L348.9 1139.6L349.4 1139.7L349.9 1139.7L350.4 1139.7L350.9 1139.8L351.4 1139.8L351.9 1139.8L352.4 1139.8L352.9 1139.9L353.4 1139.9L353.9 1139.9L354.4 1139.9L354.9 1140.0L355.4 1140.0L355.9 1140.0L356.4 1140.0L356.9 1140.0L357.4 1140.1L357.9 1140.1L358.4 1140.1L358.9 1140.1L359.4 1140.1L359.9 1140.1L360.4 1140.1L360.9 1140.2L361.4 1140.2L361.9 1140.2L362.4 1140.2L362.9 1140.2L363.4 1140.2L363.9 1140.2L364.4 1140.3L364.9 1140.3L365.4 1140.3L365.9 1140.3L366.4 1140.3L366.9 1140.3L367.4 1140.3L367.9 1140.3L368.4 1140.3L368.9 1140.3L369.4 1140.3L369.9 1140.3L370.4 1140.4L370.9 1140.4L371.4 1140.4L371.9 1140.4L372.4 1140.4L372.9 1140.4L373.4 1140.4L373.9 1140.4L374.4 1140.4L374.9 1140.4L375.4 1140.4L375.9 1140.4L376.4 1140.4L376.9 1140.4L377.4 1140.4L377.9 1140.4L378.4 1140.4L378.9 1140.4L379.4 1140.4L379.9 1140.4L380.4 1140.4L380.9 1140.4L381.4 1140.4L381.9 1140.5L382.4 1140.5L382.9 1140.5L383.4 1140.5L383.9 1140.5L384.4 1140.5L384.9 1140.5L385.4 1140.5L385.9 1140.5L386.4 1140.5L386.9 1140.5L387.4 1140.5L387.9 1140.5L388.4 1140.5L388.9 1140.5L389.4 1140.5L389.9 1140.5L390.4 1140.5L390.9 1140.5L391.4 1140.5L391.9 1140.5L392.4 1140.5L392.9 1140.5L393.4 1140.5L393.9 1140.5L394.4 1140.5L394.9 1140.5L395.4 1140.5L395.9 1140.5L396.4 1140.5L396.9 1140.5L397.4 1140.5L397.9 1140.5L398.4 1140.5L398.9 1140.5L399.4 1140.5L399.9 1140.5L400.4 1140.5L400.9 1140.5L401.4 1140.5" stroke="#808000" stroke-width="3"/>
<path d="M392.3 1140.5L392.8 1140.5L393.3 1140.5L393.8 1140.5L394.3 1140.5L394.8 1140.5L395.3 1140.5L395.8 1140.5L396.3 1140.5L396.8 1140.5L397.3 1140.5L397.8 1140.5L398.3 1140.5L398.8 1140.5L399.3 1140.5L399.8 1140.5L400.3 1140.5L400.8 1140.5L401.3 1140.5L401.8 1140.5L402.3 1140.5L402.8 1140.5L403.3 1140.4L403.8 1140.4L404.3 1140.4L404.8 1140.4L405.3 1140.4L405.8 1140.4L406.3 1140.4L406.8 1140.4L407.3 1140.4L407.8 1140.4L408.3 1140.4L408.8 1140.4L409.3 1140.3L409.8 1140.3L410.3 1140.3L410.8 1140.3L411.3 1140.3L411.8 1140.2L412.3 1140.2L412.8 1140.2L413.3 1140.2L413.8 1140.1L414.3 1140.1L414.8 1140.1L415.3 1140.0L415.8 1140.0L416.3 1140.0L416.8 1139.9L417.3 1139.9L417.8 1139.8L418.3 1139.8L418.8 1139.7L419.3 1139.6L419.8 1139.6L420.3 1139.5L420.8 1139.4L421.3 1139.3L421.8 1139.2L422.3 1139.1L422.8 1139.0L423.3 1138.9L423.8 1138.8L424.3 1138.7L424.8 1138.6L425.3 1138.5L425.8 1138.3L426.3 1138.2L426.8 1138.0L427.3 1137.9L427.8 1137.7L428.3 1137.5L428.8 1137.3L429.3 1137.1L429.8 1136.9L430.3 1136.7L430.8 1136.5L431.3 1136.2L431.8 1136.0L432.3 1135.7L432.8 1135.5L433.3 1135.2L433.8 1134.9L434.3 1134.6L434.8 1134.3L435.3 1134.0L435.8 1133.7L436.3 1133.3L436.8 1133.0L437.3 1132.6L437.8 1132.2L438.3 1131.9L438.8 1131.5L439.3 1131.1L439.8 1130.6L440.3 1130.2L440.8 1129.8L441.3 1129.4L441.8 1128.9L442.3 1128.4L442.8 1128.0L443.3 1127.5L443.8 1127.0L444.3 1126.5L444.8 1126.0L445.3 1125.5L445.8 1125.0L446.3 1124.5L446.8 1124.0L447.3 1123.5L447.8 1123.0L448.3 1122.5L448.8 1122.0L449.3 1121.5L449.8 1120.9L450.3 1120.4L450.8 1119.9L451.3 1119.4L451.8 1118.9L452.3 1118.4L452.8 1118.0L453.3 1117.5L453.8 1117.0L454.3 1116.6L454.8 1116.1L455.3 1115.7L455.8 1115.3L456.3 1114.9L456.8 1114.5L457.3 1114.1L457.8 1113.7L458.3 1113.4L458.8 1113.1L459.3 1112.8L459.8 1112.5L460.3 1112.2L460.8 1112.0L461.3 1111.8L461.8 1111.6L462.3 1111.4L462.8 1111.2L463.3 1111.1L463.8 1111.0L464.3 1110.9L464.8 1110.8L465.3 1110.8L465.8 1110.8L466.3 1110.8L466.8 1110.8L467.3 1110.9L467.8 1111.0L468.3 1111.1L468.8 1111.2L469.3 1111.4L469.8 1111.6L470.3 1111.8L470.8 1112.0L471.3 1112.2L471.8 1112.5L472.3 1112.8L472.8 1113.1L473.3 1113.4L473.8 1113.7L474.3 1114.1L474.8 1114.5L475.3 1114.9L475.8 1115.3L476.3 1115.7L476.8 1116.1L477.3 1116.6L477.8 1117.0L478.3 1117.5L478.8 1118.0L479.3 1118.4L479.8 1118.9L480.3 1119.4L480.8 1119.9L481.3 1120.4L481.8 1120.9L482.3 1121.5L482.8 1122.0L483.3 1122.5L483.8 1123.0L484.3 1123.5L484.8 1124.0L485.3 1124.5L485.8 1125.0L486.3 1125.5L486.8 1126.0L487.3 1126.5L487.8 1127.0L488.3 1127.5L488.8 1128.0L489.3 1128.4L489.8 1128.9L490.3 1129.4L490.8 1129.8L491.3 1130.2L491.8 1130.6L492.3 1131.1L492.8 1131.5L493.3 1131.9L493.8 1132.2L494.3 1132.6L494.8 1133.0L495.3 1133.3L495.8 1133.7L496.3 1134.0L496.8 1134.3L497.3 1134.6L497.8 1134.9L498.3 1135.2L498.8 1135.5L499.3 1135.7L499.8 1136.0L500.3 1136.2L500.8 1136.5L501.3 1136.7L501.8 1136.9L502.3 1137.1L502.8 1137.3L503.3 1137.5L503.8 1137.7L504.3 1137.9L504.8 1138.0L505.3 1138.2L505.8 1138.3L506.3 1138.5L506.8 1138.6L507.3 1138.7L507.8 1138.8L508.3 1138.9L508.8 1139.0L509.3 1139.1L509.8 1139.2L510.3 1139.3L510.8 1139.4L511.3 1139.5L511.8 1139.6L512.3 1139.6L512.8 1139.7L513.3 1139.8L513.8 1139.8L514.3 1139.9L514.8 1139.9L515.3 1140.0L515.8 1140.0L516.3 1140.0L516.8 1140.1L517.3 1140.1L517.8 1140.1L518.3 1140.2L518.8 1140.2L519.3 1140.2L519.8 1140.2L520.3 1140.3L520.8 1140.3L521.3 1140.3L521.8 1140.3L522.3 1140.3L522.8 1140.4L523.3 1140.4L523.8 1140.4L524.3 1140.4" stroke="#808000" stroke-width="3"/>
<path d="M547.2 1140.5L547.7 1140.5L548.2 1140.5L548.7 1140.5L549.2 1140.5L549.7 1140.5L550.2 1140.5L550.7 1140.5L551.2 1140.4L551.7 1140.4L552.2 1140.4L552.7 1140.4L553.2 1140.4L553.7 1140.4L554.2 1140.4L554.7 1140.4L555.2 1140.3L555.7 1140.3L556.2 1140.3L556.7 1140.3L557.2 1140.2L557.7 1140.2L558.2 1140.2L558.7 1140.1L559.2 1140.1L559.7 1140.0L560.2 1139.9L560.7 1139.9L561.2 1139.8L561.7 1139.7L562.2 1139.6L562.7 1139.5L563.2 1139.3L563.7 1139.2L564.2 1139.1L564.7 1138.9L565.2 1138.7L565.7 1138.5L566.2 1138.3L566.7 1138.0L567.2 1137.8L567.7 1137.5L568.2 1137.2L568.7 1136.8L569.2 1136.5L569.7 1136.1L570.2 1135.6L570.7 1135.2L571.2 1134.7L571.7 1134.1L572.2 1133.5L572.7 1132.9L573.2 1132.2L573.7 1131.5L574.2 1130.7L574.7 1129.9L575.2 1129.0L575.7 1128.1L576.2 1127.1L576.7 1126.1L577.2 1124.9L577.7 1123.8L578.2 1122.5L578.7 1121.3L579.2 1119.9L579.7 1118.5L580.2 1117.0L580.7 1115.4L581.2 1113.8L581.7 1112.1L582.2 1110.4L582.7 1108.6L583.2 1106.7L583.7 1104.8L584.2 1102.8L584.7 1100.8L585.2 1098.7L585.7 1096.6L586.2 1094.4L586.7 1092.2L587.2 1089.9L587.7 1087.6L588.2 1085.3L588.7 1083.0L589.2 1080.7L589.7 1078.3L590.2 1076.0L590.7 1073.6L591.2 1071.3L591.7 1069.0L592.2 1066.7L592.7 1064.5L593.2 1062.2L593.7 1060.1L594.2 1058.0L594.7 1056.0L595.2 1054.0L595.7 1052.1L596.2 1050.3L596.7 1048.6L597.2 1047.0L597.7 1045.5L598.2 1044.2L598.7 1042.9L599.2 1041.7L599.7 1040.7L600.2 1039.9L600.7 1039.1L601.2 1038.5L601.7 1038.0L602.2 1037.7L602.7 1037.5L603.2 1037.5L603.7 1037.6L604.2 1037.9L604.7 1038.3L605.2 1038.8L605.7 1039.5L606.2 1040.3L606.7 1041.3L607.2 1042.4L607.7 1043.6L608.2 1044.9L608.7 1046.4L609.2 1047.9L609.7 1049.6L610.2 1051.3L610.7 1053.2L611.2 1055.1L611.7 1057.1L612.2 1059.2L612.7 1061.3L613.2 1063.5L613.7 1065.7L614.2 1068.0L614.7 1070.3L615.2 1072.6L615.7 1074.9L616.2 1077.3L616.7 1079.6L617.2 1082.0L617.7 1084.3L618.2 1086.6L618.7 1088.9L619.2 1091.2L619.7 1093.4L620.2 1095.6L620.7 1097.8L621.2 1099.9L621.7 1101.9L622.2 1103.9L622.7 1105.9L623.2 1107.8L623.7 1109.6L624.2 1111.4L624.7 1113.1L625.2 1114.7L625.7 1116.3L626.2 1117.8L626.7 1119.3L627.2 1120.7L627.7 1122.0L628.2 1123.2L628.7 1124.4L629.2 1125.6L629.7 1126.6L630.2 1127.7L630.7 1128.6L631.2 1129.5L631.7 1130.4L632.2 1131.2L632.7 1131.9L633.2 1132.6L633.7 1133.2L634.2 1133.9L634.7 1134.4L635.2 1134.9L635.7 1135.4L636.2 1135.9L636.7 1136.3L637.2 1136.7L637.7 1137.0L638.2 1137.4L638.7 1137.7L639.2 1137.9L639.7 1138.2L640.2 1138.4L640.7 1138.6L641.2 1138.8L641.7 1139.0L642.2 1139.1L642.7 1139.3L643.2 1139.4L643.7 1139.5L644.2 1139.6L644.7 1139.7L645.2 1139.8L645.7 1139.9L646.2 1140.0L646.7 1140.0L647.2 1140.1L647.7 1140.1L648.2 1140.2L648.7 1140.2L649.2 1140.2L649.7 1140.3L650.2 1140.3L650.7 1140.3L651.2 1140.4L651.7 1140.4L652.2 1140.4L652.7 1140.4L653.2 1140.4L653.7 1140.4L654.2 1140.4L654.7 1140.4L655.2 1140.5L655.7 1140.5L656.2 1140.5L656.7 1140.5L657.2 1140.5L657.7 1140.5L658.2 1140.5L658.7 1140.5" stroke="#808000" stroke-width="3"/>
<path d="M574.4 1140.5L574.9 1140.5L575.4 1140.5L575.9 1140.5L576.4 1140.5L576.9 1140.5L577.4 1140.5L577.9 1140.5L578.4 1140.5L578.9 1140.4L579.4 1140.4L579.9 1140.4L580.4 1140.4L580.9 1140.4L581.4 1140.4L581.9 1140.4L582.4 1140.4L582.9 1140.4L583.4 1140.3L583.9 1140.3L584.4 1140.3L584.9 1140.3L585.4 1140.3L585.9 1140.2L586.4 1140.2L586.9 1140.2L587.4 1140.1L587.9 1140.1L588.4 1140.0L588.9 1140.0L589.4 1139.9L589.9 1139.9L590.4 1139.8L590.9 1139.7L591.4 1139.7L591.9 1139.6L592.4 1139.5L592.9 1139.4L593.4 1139.3L593.9 1139.1L594.4 1139.0L594.9 1138.9L595.4 1138.7L595.9 1138.5L596.4 1138.4L596.9 1138.2L597.4 1137.9L597.9 1137.7L598.4 1137.5L598.9 1137.2L599.4 1136.9L599.9 1136.6L600.4 1136.3L600.9 1135.9L601.4 1135.6L601.9 1135.2L602.4 1134.7L602.9 1134.3L603.4 1133.8L603.9 1133.3L604.4 1132.7L604.9 1132.1L605.4 1131.5L605.9 1130.9L606.4 1130.2L606.9 1129.5L607.4 1128.7L607.9 1127.9L608.4 1127.0L608.9 1126.1L609.4 1125.2L609.9 1124.2L610.4 1123.2L610.9 1122.1L611.4 1121.0L611.9 1119.8L612.4 1118.6L612.9 1117.3L613.4 1116.0L613.9 1114.6L614.4 1113.2L614.9 1111.7L615.4 1110.1L615.9 1108.6L616.4 1106.9L616.9 1105.3L617.4 1103.5L617.9 1101.8L618.4 1100.0L618.9 1098.1L619.4 1096.2L619.9 1094.3L620.4 1092.3L620.9 1090.3L621.4 1088.2L621.9 1086.1L622.4 1084.0L622.9 1081.9L623.4 1079.8L623.9 1077.6L624.4 1075.4L624.9 1073.2L625.4 1071.0L625.9 1068.8L626.4 1066.6L626.9 1064.4L627.4 1062.3L627.9 1060.1L628.4 1058.0L628.9 1055.8L629.4 1053.8L629.9 1051.7L630.4 1049.7L630.9 1047.7L631.4 1045.8L631.9 1044.0L632.4 1042.2L632.9 1040.4L633.4 1038.8L633.9 1037.2L634.4 1035.7L634.9 1034.2L635.4 1032.9L635.9 1031.6L636.4 1030.5L636.9 1029.4L637.4 1028.4L637.9 1027.6L638.4 1026.8L638.9 1026.1L639.4 1025.6L639.9 1025.2L640.4 1024.8L640.9 1024.6L641.4 1024.5L641.9 1024.5L642.4 1024.6L642.9 1024.9L643.4 1025.2L643.9 1025.7L644.4 1026.3L644.9 1026.9L645.4 1027.7L645.9 1028.6L646.4 1029.6L646.9 1030.7L647.4 1031.9L647.9 1033.2L648.4 1034.5L648.9 1036.0L649.4 1037.5L649.9 1039.1L650.4 1040.8L650.9 1042.5L651.4 1044.3L651.9 1046.2L652.4 1048.1L652.9 1050.1L653.4 1052.1L653.9 1054.2L654.4 1056.3L654.9 1058.4L655.4 1060.5L655.9 1062.7L656.4 1064.9L656.9 1067.1L657.4 1069.3L657.9 1071.5L658.4 1073.7L658.9 1075.8L659.4 1078.0L659.9 1080.2L660.4 1082.3L660.9 1084.5L661.4 1086.6L661.9 1088.6L662.4 1090.7L662.9 1092.7L663.4 1094.6L663.9 1096.6L664.4 1098.5L664.9 1100.3L665.4 1102.1L665.9 1103.9L666.4 1105.6L666.9 1107.3L667.4 1108.9L667.9 1110.5L668.4 1112.0L668.9 1113.4L669.4 1114.9L669.9 1116.2L670.4 1117.5L670.9 1118.8L671.4 1120.0L671.9 1121.2L672.4 1122.3L672.9 1123.4L673.4 1124.4L673.9 1125.4L674.4 1126.3L674.9 1127.2L675.4 1128.0L675.9 1128.8L676.4 1129.6L676.9 1130.3L677.4 1131.0L677.9 1131.7L678.4 1132.3L678.9 1132.8L679.4 1133.4L679.9 1133.9L680.4 1134.4L680.9 1134.8L681.4 1135.2L681.9 1135.6L682.4 1136.0L682.9 1136.4L683.4 1136.7L683.9 1137.0L684.4 1137.3L684.9 1137.5L685.4 1137.8L685.9 1138.0L686.4 1138.2L686.9 1138.4L687.4 1138.6L687.9 1138.7L688.4 1138.9L688.9 1139.0L689.4 1139.2L689.9 1139.3L690.4 1139.4L690.9 1139.5L691.4 1139.6L691.9 1139.7L692.4 1139.7L692.9 1139.8L693.4 1139.9L693.9 1139.9L694.4 1140.0L694.9 1140.0L695.4 1140.1L695.9 1140.1L696.4 1140.2L696.9 1140.2L697.4 1140.2L697.9 1140.3L698.4 1140.3L698.9 1140.3L699.4 1140.3L699.9 1140.3L700.4 1140.4L700.9 1140.4L701.4 1140.4L701.9 1140.4L702.4 1140.4L702.9 1140.4L703.4 1140.4L703.9 1140.4L704.4 1140.4L704.9 1140.5L705.4 1140.5L705.9 1140.5L706.4 1140.5L706.9 1140.5L707.4 1140.5L707.9 1140.5L708.4 1140.5" stroke="#808000" stroke-width="3"/>
<path d="M795.7 1140.5L796.2 1140.5L796.7 1140.5L797.2 1140.5L797.7 1140.5L798.2 1140.5L798.7 1140.5L799.2 1140.5L799.7 1140.5L800.2 1140.5L800.7 1140.5L801.2 1140.5L801.7 1140.5L802.2 1140.4L802.7 1140.4L803.2 1140.4L803.7 1140.4L804.2 1140.4L804.7 1140.4L805.2 1140.4L805.7 1140.4L806.2 1140.4L806.7 1140.4L807.2 1140.3L807.7 1140.3L808.2 1140.3L808.7 1140.3L809.2 1140.2L809.7 1140.2L810.2 1140.2L810.7 1140.1L811.2 1140.1L811.7 1140.1L812.2 1140.0L812.7 1140.0L813.2 1139.9L813.7 1139.8L814.2 1139.8L814.7 1139.7L815.2 1139.6L815.7 1139.5L816.2 1139.4L816.7 1139.3L817.2 1139.2L817.7 1139.1L818.2 1139.0L818.7 1138.8L819.2 1138.7L819.7 1138.5L820.2 1138.4L820.7 1138.2L821.2 1138.0L821.7 1137.8L822.2 1137.5L822.7 1137.3L823.2 1137.0L823.7 1136.7L824.2 1136.4L824.7 1136.1L825.2 1135.8L825.7 1135.4L826.2 1135.0L826.7 1134.6L827.2 1134.2L827.7 1133.8L828.2 1133.3L828.7 1132.8L829.2 1132.2L829.7 1131.7L830.2 1131.1L830.7 1130.5L831.2 1129.8L831.7 1129.2L832.2 1128.5L832.7 1127.7L833.2 1127.0L833.7 1126.2L834.2 1125.4L834.7 1124.5L835.2 1123.6L835.7 1122.7L836.2 1121.8L836.7 1120.8L837.2 1119.8L837.7 1118.8L838.2 1117.7L838.7 1116.6L839.2 1115.5L839.7 1114.4L840.2 1113.2L840.7 1112.0L841.2 1110.8L841.7 1109.6L842.2 1108.4L842.7 1107.1L843.2 1105.9L843.7 1104.6L844.2 1103.3L844.7 1102.0L845.2 1100.7L845.7 1099.4L846.2 1098.1L846.7 1096.9L847.2 1095.6L847.7 1094.3L848.2 1093.1L848.7 1091.8L849.2 1090.6L849.7 1089.4L850.2 1088.3L850.7 1087.1L851.2 1086.0L851.7 1084.9L852.2 1083.9L852.7 1082.9L853.2 1082.0L853.7 1081.1L854.2 1080.2L854.7 1079.4L855.2 1078.7L855.7 1078.0L856.2 1077.3L856.7 1076.8L857.2 1076.3L857.7 1075.8L858.2 1075.4L858.7 1075.1L859.2 1074.9L859.7 1074.7L860.2 1074.5L860.7 1074.5L861.2 1074.5L861.7 1074.6L862.2 1074.8L862.7 1075.0L863.2 1075.3L863.7 1075.6L864.2 1076.1L864.7 1076.6L865.2 1077.1L865.7 1077.7L866.2 1078.4L866.7 1079.1L867.2 1079.9L867.7 1080.7L868.2 1081.6L868.7 1082.5L869.2 1083.5L869.7 1084.5L870.2 1085.6L870.7 1086.7L871.2 1087.8L871.7 1089.0L872.2 1090.1L872.7 1091.3L873.2 1092.6L873.7 1093.8L874.2 1095.1L874.7 1096.4L875.2 1097.6L875.7 1098.9L876.2 1100.2L876.7 1101.5L877.2 1102.8L877.7 1104.1L878.2 1105.4L878.7 1106.6L879.2 1107.9L879.7 1109.1L880.2 1110.3L880.7 1111.6L881.2 1112.7L881.7 1113.9L882.2 1115.1L882.7 1116.2L883.2 1117.3L883.7 1118.3L884.2 1119.4L884.7 1120.4L885.2 1121.4L885.7 1122.3L886.2 1123.3L886.7 1124.2L887.2 1125.0L887.7 1125.9L888.2 1126.7L888.7 1127.4L889.2 1128.2L889.7 1128.9L890.2 1129.6L890.7 1130.2L891.2 1130.9L891.7 1131.5L892.2 1132.0L892.7 1132.6L893.2 1133.1L893.7 1133.6L894.2 1134.0L894.7 1134.5L895.2 1134.9L895.7 1135.3L896.2 1135.6L896.7 1136.0L897.2 1136.3L897.7 1136.6L898.2 1136.9L898.7 1137.2L899.2 1137.4L899.7 1137.7L900.2 1137.9L900.7 1138.1L901.2 1138.3L901.7 1138.5L902.2 1138.6L902.7 1138.8L903.2 1138.9L903.7 1139.1L904.2 1139.2L904.7 1139.3L905.2 1139.4L905.7 1139.5L906.2 1139.6L906.7 1139.7L907.2 1139.8L907.7 1139.8L908.2 1139.9L908.7 1139.9L909.2 1140.0L909.7 1140.0L910.2 1140.1L910.7 1140.1L911.2 1140.2L911.7 1140.2L912.2 1140.2L912.7 1140.3L913.2 1140.3L913.7 1140.3L914.2 1140.3L914.7 1140.3L915.2 1140.4L915.7 1140.4L916.2 1140.4L916.7 1140.4L917.2 1140.4L917.7 1140.4L918.2 1140.4L918.7 1140.4L919.2 1140.4L919.7 1140.5L920.2 1140.5L920.7 1140.5L921.2 1140.5L921.7 1140.5L922.2 1140.5L922.7 1140.5L923.2 1140.5L923.7 1140.5L924.2 1140.5L924.7 1140.5L925.2 1140.5L925.7 1140.5" stroke="#808000" stroke-width="3"/>
<path d="M832.8 1140.5L833.3 1140.5L833.8 1140.5L834.3 1140.5L834.8 1140.5L835.3 1140.5L835.8 1140.5L836.3 1140.5L836.8 1140.5L837.3 1140.5L837.8 1140.5L838.3 1140.5L838.8 1140.5L839.3 1140.5L839.8 1140.4L840.3 1140.4L840.8 1140.4L841.3 1140.4L841.8 1140.4L842.3 1140.4L842.8 1140.4L843.3 1140.4L843.8 1140.4L844.3 1140.4L844.8 1140.3L845.3 1140.3L845.8 1140.3L846.3 1140.3L846.8 1140.3L847.3 1140.2L847.8 1140.2L848.3 1140.2L848.8 1140.1L849.3 1140.1L849.8 1140.1L850.3 1140.0L850.8 1140.0L851.3 1139.9L851.8 1139.8L852.3 1139.8L852.8 1139.7L853.3 1139.6L853.8 1139.6L854.3 1139.5L854.8 1139.4L855.3 1139.3L855.8 1139.2L856.3 1139.1L856.8 1138.9L857.3 1138.8L857.8 1138.6L858.3 1138.5L858.8 1138.3L859.3 1138.1L859.8 1137.9L860.3 1137.7L860.8 1137.5L861.3 1137.3L861.8 1137.0L862.3 1136.8L862.8 1136.5L863.3 1136.2L863.8 1135.9L864.3 1135.5L864.8 1135.2L865.3 1134.8L865.8 1134.4L866.3 1134.0L866.8 1133.5L867.3 1133.1L867.8 1132.6L868.3 1132.1L868.8 1131.6L869.3 1131.0L869.8 1130.4L870.3 1129.8L870.8 1129.2L871.3 1128.5L871.8 1127.8L872.3 1127.1L872.8 1126.3L873.3 1125.6L873.8 1124.8L874.3 1123.9L874.8 1123.1L875.3 1122.2L875.8 1121.3L876.3 1120.4L876.8 1119.4L877.3 1118.4L877.8 1117.4L878.3 1116.4L878.8 1115.3L879.3 1114.3L879.8 1113.2L880.3 1112.1L880.8 1110.9L881.3 1109.8L881.8 1108.6L882.3 1107.5L882.8 1106.3L883.3 1105.1L883.8 1103.9L884.3 1102.7L884.8 1101.5L885.3 1100.3L885.8 1099.0L886.3 1097.8L886.8 1096.6L887.3 1095.5L887.8 1094.3L888.3 1093.1L888.8 1092.0L889.3 1090.8L889.8 1089.7L890.3 1088.7L890.8 1087.6L891.3 1086.6L891.8 1085.6L892.3 1084.6L892.8 1083.7L893.3 1082.8L893.8 1082.0L894.3 1081.2L894.8 1080.4L895.3 1079.7L895.8 1079.0L896.3 1078.4L896.8 1077.9L897.3 1077.4L897.8 1076.9L898.3 1076.6L898.8 1076.2L899.3 1076.0L899.8 1075.8L900.3 1075.6L900.8 1075.5L901.3 1075.5L901.8 1075.5L902.3 1075.6L902.8 1075.8L903.3 1076.0L903.8 1076.3L904.3 1076.6L904.8 1077.0L905.3 1077.5L905.8 1078.0L906.3 1078.5L906.8 1079.1L907.3 1079.8L907.8 1080.5L908.3 1081.3L908.8 1082.1L909.3 1082.9L909.8 1083.8L910.3 1084.8L910.8 1085.7L911.3 1086.7L911.8 1087.8L912.3 1088.8L912.8 1089.9L913.3 1091.0L913.8 1092.2L914.3 1093.3L914.8 1094.5L915.3 1095.6L915.8 1096.8L916.3 1098.0L916.8 1099.2L917.3 1100.4L917.8 1101.7L918.3 1102.9L918.8 1104.1L919.3 1105.3L919.8 1106.5L920.3 1107.6L920.8 1108.8L921.3 1110.0L921.8 1111.1L922.3 1112.2L922.8 1113.4L923.3 1114.4L923.8 1115.5L924.3 1116.6L924.8 1117.6L925.3 1118.6L925.8 1119.6L926.3 1120.5L926.8 1121.5L927.3 1122.4L927.8 1123.2L928.3 1124.1L928.8 1124.9L929.3 1125.7L929.8 1126.5L930.3 1127.2L930.8 1127.9L931.3 1128.6L931.8 1129.3L932.3 1129.9L932.8 1130.5L933.3 1131.1L933.8 1131.6L934.3 1132.2L934.8 1132.7L935.3 1133.2L935.8 1133.6L936.3 1134.1L936.8 1134.5L937.3 1134.9L937.8 1135.2L938.3 1135.6L938.8 1135.9L939.3 1136.2L939.8 1136.5L940.3 1136.8L940.8 1137.1L941.3 1137.3L941.8 1137.6L942.3 1137.8L942.8 1138.0L943.3 1138.2L943.8 1138.3L944.3 1138.5L944.8 1138.7L945.3 1138.8L945.8 1138.9L946.3 1139.1L946.8 1139.2L947.3 1139.3L947.8 1139.4L948.3 1139.5L948.8 1139.6L949.3 1139.7L949.8 1139.7L950.3 1139.8L950.8 1139.9L951.3 1139.9L951.8 1140.0L952.3 1140.0L952.8 1140.1L953.3 1140.1L953.8 1140.1L954.3 1140.2L954.8 1140.2L955.3 1140.2L955.8 1140.3L956.3 1140.3L956.8 1140.3L957.3 1140.3L957.8 1140.3L958.3 1140.4L958.8 1140.4L959.3 1140.4L959.8 1140.4L960.3 1140.4L960.8 1140.4L961.3 1140.4L961.8 1140.4L962.3 1140.4L962.8 1140.4L963.3 1140.5L963.8 1140.5L964.3 1140.5L964.8 1140.5L965.3 1140.5L965.8 1140.5L966.3 1140.5L966.8 1140.5L967.3 1140.5L967.8 1140.5L968.3 1140.5L968.8 1140.5L969.3 1140.5" stroke="#808000" stroke-width="3"/>
<path d="M55 1140.5H524.4M540.8 1140.5H1010.5" stroke="#808000" stroke-width="3"/>
<path d="M55.0 1140.5L55.5 1140.5L56.0 1140.5L56.5 1140.5L57.0 1140.5L57.5 1140.5L58.0 1140.5L58.5 1140.5L59.0 1140.5L59.5 1140.5L60.0 1140.5L60.5 1140.5L61.0 1140.5L61.5 1140.5L62.0 1140.5L62.5 1140.5L63.0 1140.5L63.5 1140.5L64.0 1140.5L64.5 1140.5L65.0 1140.5L65.5 1140.5L66.0 1140.5L66.5 1140.5L67.0 1140.5L67.5 1140.5L68.0 1140.5L68.5 1140.5L69.0 1140.5L69.5 1140.5L70.0 1140.5L70.5 1140.5L71.0 1140.5L71.5 1140.5L72.0 1140.5L72.5 1140.5L73.0 1140.5L73.5 1140.5L74.0 1140.5L74.5 1140.5L75.0 1140.5L75.5 1140.5L76.0 1140.5L76.5 1140.5L77.0 1140.5L77.5 1140.5L78.0 1140.5L78.5 1140.5L79.0 1140.5L79.5 1140.5L80.0 1140.5L80.5 1140.5L81.0 1140.5L81.5 1140.5L82.0 1140.5L82.5 1140.5L83.0 1140.5L83.5 1140.5L84.0 1140.5L84.5 1140.5L85.0 1140.5L85.5 1140.5L86.0 1140.5L86.5 1140.5L87.0 1140.5L87.5 1140.5L88.0 1140.5L88.5 1140.5L89.0 1140.5L89.5 1140.5L90.0 1140.5L90.5 1140.5L91.0 1140.5L91.5 1140.5L92.0 1140.5L92.5 1140.5L93.0 1140.5L93.5 1140.5L94.0 1140.5L94.5 1140.5L95.0 1140.5L95.5 1140.5L96.0 1140.5L96.5 1140.5L97.0 1140.5L97.5 1140.5L98.0 1140.5L98.5 1140.5L99.0 1140.4L99.5 1140.4L100.0 1140.4L100.5 1140.4L101.0 1140.4L101.5 1140.4L102.0 1140.4L102.5 1140.4L103.0 1140.3L103.5 1140.3L104.0 1140.3L104.5 1140.3L105.0 1140.2L105.5 1140.2L106.0 1140.2L106.5 1140.1L107.0 1140.1L107.5 1140.0L108.0 1140.0L108.5 1139.9L109.0 1139.9L109.5 1139.8L110.0 1139.7L110.5 1139.7L111.0 1139.6L111.5 1139.5L112.0 1139.4L112.5 1139.3L113.0 1139.2L113.5 1139.0L114.0 1138.9L114.5 1138.8L115.0 1138.6L115.5 1138.5L116.0 1138.3L116.5 1138.1L117.0 1137.9L117.5 1137.7L118.0 1137.5L118.5 1137.2L119.0 1137.0L119.5 1136.7L120.0 1136.4L120.5 1136.1L121.0 1135.7L121.5 1135.4L122.0 1135.0L122.5 1134.6L123.0 1134.1L123.5 1133.7L124.0 1133.2L124.5 1132.7L125.0 1132.1L125.5 1131.6L126.0 1131.0L126.5 1130.4L127.0 1129.7L127.5 1129.0L128.0 1128.3L128.5 1127.6L129.0 1126.8L129.5 1126.0L130.0 1125.2L130.5 1124.4L131.0 1123.5L131.5 1122.6L132.0 1121.7L132.5 1120.7L133.0 1119.7L133.5 1118.7L134.0 1117.7L134.5 1116.7L135.0 1115.6L135.5 1114.5L136.0 1113.4L136.5 1112.3L137.0 1111.2L137.5 1110.0L138.0 1108.9L138.5 1107.7L139.0 1106.5L139.5 1105.4L140.0 1104.2L140.5 1103.0L141.0 1101.9L141.5 1100.7L142.0 1099.6L142.5 1098.4L143.0 1097.3L143.5 1096.2L144.0 1095.1L144.5 1094.1L145.0 1093.0L145.5 1092.0L146.0 1091.0L146.5 1090.1L147.0 1089.2L147.5 1088.3L148.0 1087.4L148.5 1086.6L149.0 1085.9L149.5 1085.2L150.0 1084.5L150.5 1083.9L151.0 1083.3L151.5 1082.7L152.0 1082.2L152.5 1081.8L153.0 1081.4L153.5 1081.0L154.0 1080.7L154.5 1080.4L155.0 1080.1L155.5 1079.9L156.0 1079.8L156.5 1079.6L157.0 1079.5L157.5 1079.4L158.0 1079.4L158.5 1079.3L159.0 1079.2L159.5 1079.1L160.0 1079.0L160.5 1078.9L161.0 1078.7L161.5 1078.4L162.0 1078.1L162.5 1077.7L163.0 1077.2L163.5 1076.6L164.0 1075.9L164.5 1075.1L165.0 1074.1L165.5 1072.9L166.0 1071.6L166.5 1070.1L167.0 1068.3L167.5 1066.4L168.0 1064.2L168.5 1061.8L169.0 1059.2L169.5 1056.2L170.0 1053.1L170.5 1049.6L171.0 1045.8L171.5 1041.8L172.0 1037.5L172.5 1032.8L173.0 1027.9L173.5 1022.7L174.0 1017.2L174.5 1011.4L175.0 1005.3L175.5 999.0L176.0 992.4L176.5 985.5L177.0 978.4L177.5 971.2L178.0 963.7L178.5 956.0L179.0 948.2L179.5 940.3L180.0 932.3L180.5 924.2L181.0 916.1L181.5 907.9L182.0 899.9L182.5 891.8L183.0 883.9L183.5 876.1L184.0 868.5L184.5 861.1L185.0 854.0L185.5 847.1L186.0 840.5L186.5 834.2L187.0 828.3L187.5 822.8L188.0 817.7L188.5 813.0L189.0 808.8L189.5 805.1L190.0 801.9L190.5 799.2L191.0 797.0L191.5 795.4L192.0 794.2L192.5 793.6L193.0 793.5L193.5 793.9L194.0 794.8L194.5 796.1L195.0 797.9L195.5 800.0L196.0 802.4L196.5 805.1L197.0 808.1L197.5 811.3L198.0 814.6L198.5 817.9L199.0 821.3L199.5 824.7L200.0 828.0L200.5 831.2L201.0 834.3L201.5 837.2L202.0 839.9L202.5 842.3L203.0 844.6L203.5 846.6L204.0 848.3L204.5 849.8L205.0 851.0L205.5 852.0L206.0 852.8L206.5 853.3L207.0 853.5L207.5 853.5L208.0 853.2L208.5 852.7L209.0 851.8L209.5 850.7L210.0 849.4L210.5 847.8L211.0 845.9L211.5 843.9L212.0 841.6L212.5 839.2L213.0 836.7L213.5 834.2L214.0 831.6L214.5 829.1L215.0 826.7L215.5 824.4L216.0 822.4L216.5 820.7L217.0 819.3L217.5 818.3L218.0 817.7L218.5 817.5L219.0 817.9L219.5 818.8L220.0 820.2L220.5 822.2L221.0 824.7L221.5 827.8L222.0 831.5L222.5 835.7L223.0 840.5L223.5 845.7L224.0 851.5L224.5 857.7L225.0 864.3L225.5 871.3L226.0 878.7L226.5 886.3L227.0 894.2L227.5 902.3L228.0 910.6L228.5 919.0L229.0 927.5L229.5 936.0L230.0 944.4L230.5 952.9L231.0 961.2L231.5 969.4L232.0 977.4L232.5 985.2L233.0 992.8L233.5 1000.2L234.0 1007.3L234.5 1014.1L235.0 1020.6L235.5 1026.9L236.0 1032.8L236.5 1038.3L237.0 1043.6L237.5 1048.5L238.0 1053.2L238.5 1057.5L239.0 1061.5L239.5 1065.2L240.0 1068.7L240.5 1071.8L241.0 1074.7L241.5 1077.4L242.0 1079.8L242.5 1082.0L243.0 1084.0L243.5 1085.9L244.0 1087.5L244.5 1089.0L245.0 1090.3L245.5 1091.5L246.0 1092.5L246.5 1093.5L247.0 1094.3L247.5 1095.1L248.0 1095.8L248.5 1096.4L249.0 1096.9L249.5 1097.4L250.0 1097.8L250.5 1098.2L251.0 1098.5L251.5 1098.8L252.0 1099.1L252.5 1099.4L253.0 1099.6L253.5 1099.9L254.0 1100.1L254.5 1100.3L255.0 1100.5L255.5 1100.7L256.0 1100.9L256.5 1101.1L257.0 1101.2L257.5 1101.4L258.0 1101.6L258.5 1101.8L259.0 1102.0L259.5 1102.2L260.0 1102.4L260.5 1102.6L261.0 1102.8L261.5 1103.0L262.0 1103.2L262.5 1103.4L263.0 1103.6L263.5 1103.8L264.0 1104.1L264.5 1104.3L265.0 1104.5L265.5 1104.8L266.0 1105.0L266.5 1105.3L267.0 1105.5L267.5 1105.8L268.0 1106.1L268.5 1106.3L269.0 1106.6L269.5 1106.9L270.0 1107.1L270.5 1107.4L271.0 1107.7L271.5 1108.0L272.0 1108.3L272.5 1108.6L273.0 1108.9L273.5 1109.2L274.0 1109.5L274.5 1109.8L275.0 1110.1L275.5 1110.4L276.0 1110.7L276.5 1111.0L277.0 1111.4L277.5 1111.7L278.0 1112.0L278.5 1112.3L279.0 1112.6L279.5 1112.9L280.0 1113.3L280.5 1113.6L281.0 1113.9L281.5 1114.2L282.0 1114.6L282.5 1114.9L283.0 1115.2L283.5 1115.5L284.0 1115.9L284.5 1116.2L285.0 1116.5L285.5 1116.8L286.0 1117.2L286.5 1117.5L287.0 1117.8L287.5 1118.1L288.0 1118.5L288.5 1118.8L289.0 1119.1L289.5 1119.4L290.0 1119.7L290.5 1120.1L291.0 1120.4L291.5 1120.7L292.0 1121.0L292.5 1121.3L293.0 1121.6L293.5 1121.9L294.0 1122.2L294.5 1122.5L295.0 1122.8L295.5 1123.1L296.0 1123.4L296.5 1123.7L297.0 1124.0L297.5 1124.3L298.0 1124.5L298.5 1124.8L299.0 1125.1L299.5 1125.4L300.0 1125.6L300.5 1125.9L301.0 1126.2L301.5 1126.4L302.0 1126.7L302.5 1127.0L303.0 1127.2L303.5 1127.5L304.0 1127.7L304.5 1127.9L305.0 1128.2L305.5 1128.4L306.0 1128.7L306.5 1128.9L307.0 1129.1L307.5 1129.3L308.0 1129.6L308.5 1129.8L309.0 1130.0L309.5 1130.2L310.0 1130.4L310.5 1130.6L311.0 1130.8L311.5 1131.0L312.0 1131.2L312.5 1131.4L313.0 1131.6L313.5 1131.8L314.0 1131.9L314.5 1132.1L315.0 1132.3L315.5 1132.5L316.0 1132.6L316.5 1132.8L317.0 1132.9L317.5 1133.1L318.0 1133.3L318.5 1133.4L319.0 1133.6L319.5 1133.7L320.0 1133.8L320.5 1134.0L321.0 1134.1L321.5 1134.3L322.0 1134.4L322.5 1134.5L323.0 1134.6L323.5 1134.8L324.0 1134.9L324.5 1135.0L325.0 1135.1L325.5 1135.2L326.0 1135.3L326.5 1135.4L327.0 1135.5L327.5 1135.6L328.0 1135.7L328.5 1135.8L329.0 1135.9L329.5 1136.0L330.0 1136.1L330.5 1136.2L331.0 1136.2L331.5 1136.3L332.0 1136.4L332.5 1136.5L333.0 1136.5L333.5 1136.6L334.0 1136.7L334.5 1136.7L335.0 1136.8L335.5 1136.9L336.0 1136.9L336.5 1137.0L337.0 1137.0L337.5 1137.1L338.0 1137.2L338.5 1137.2L339.0 1137.3L339.5 1137.3L340.0 1137.4L340.5 1137.4L341.0 1137.4L341.5 1137.5L342.0 1137.5L342.5 1137.6L343.0 1137.6L343.5 1137.6L344.0 1137.7L344.5 1137.7L345.0 1137.7L345.5 1137.8L346.0 1137.8L346.5 1137.8L347.0 1137.8L347.5 1137.9L348.0 1137.9L348.5 1137.9L349.0 1137.9L349.5 1137.9L350.0 1138.0L350.5 1138.0L351.0 1138.0L351.5 1138.0L352.0 1138.0L352.5 1138.0L353.0 1138.1L353.5 1138.1L354.0 1138.1L354.5 1138.1L355.0 1138.1L355.5 1138.1L356.0 1138.1L356.5 1138.1L357.0 1138.1L357.5 1138.1L358.0 1138.1L358.5 1138.2L359.0 1138.2L359.5 1138.2L360.0 1138.2L360.5 1138.2L361.0 1138.2L361.5 1138.2L362.0 1138.2L362.5 1138.2L363.0 1138.2L363.5 1138.2L364.0 1138.2L364.5 1138.2L365.0 1138.2L365.5 1138.2L366.0 1138.2L366.5 1138.2L367.0 1138.1L367.5 1138.1L368.0 1138.1L368.5 1138.1L369.0 1138.1L369.5 1138.1L370.0 1138.1L370.5 1138.1L371.0 1138.1L371.5 1138.1L372.0 1138.1L372.5 1138.1L373.0 1138.1L373.5 1138.1L374.0 1138.1L374.5 1138.1L375.0 1138.0L375.5 1138.0L376.0 1138.0L376.5 1138.0L377.0 1138.0L377.5 1138.0L378.0 1138.0L378.5 1138.0L379.0 1138.0L379.5 1138.0L380.0 1138.0L380.5 1137.9L381.0 1137.9L381.5 1137.9L382.0 1137.9L382.5 1137.9L383.0 1137.9L383.5 1137.9L384.0 1137.9L384.5 1137.9L385.0 1137.8L385.5 1137.8L386.0 1137.8L386.5 1137.8L387.0 1137.8L387.5 1137.8L388.0 1137.8L388.5 1137.8L389.0 1137.8L389.5 1137.7L390.0 1137.7L390.5 1137.7L391.0 1137.7L391.5 1137.7L392.0 1137.7L392.5 1137.7L393.0 1137.7L393.5 1137.6L394.0 1137.6L394.5 1137.6L395.0 1137.6L395.5 1137.6L396.0 1137.6L396.5 1137.6L397.0 1137.6L397.5 1137.5L398.0 1137.5L398.5 1137.5L399.0 1137.5L399.5 1137.5L400.0 1137.5L400.5 1137.5L401.0 1137.4L401.5 1137.4L402.0 1137.4L402.5 1137.4L403.0 1137.4L403.5 1137.4L404.0 1137.3L404.5 1137.3L405.0 1137.3L405.5 1137.3L406.0 1137.3L406.5 1137.2L407.0 1137.2L407.5 1137.2L408.0 1137.2L408.5 1137.1L409.0 1137.1L409.5 1137.1L410.0 1137.1L410.5 1137.0L411.0 1137.0L411.5 1137.0L412.0 1136.9L412.5 1136.9L413.0 1136.9L413.5 1136.8L414.0 1136.8L414.5 1136.7L415.0 1136.7L415.5 1136.6L416.0 1136.6L416.5 1136.5L417.0 1136.5L417.5 1136.4L418.0 1136.3L418.5 1136.3L419.0 1136.2L419.5 1136.1L420.0 1136.0L420.5 1136.0L421.0 1135.9L421.5 1135.8L422.0 1135.7L422.5 1135.6L423.0 1135.4L423.5 1135.3L424.0 1135.2L424.5 1135.1L425.0 1134.9L425.5 1134.8L426.0 1134.6L426.5 1134.5L427.0 1134.3L427.5 1134.1L428.0 1133.9L428.5 1133.7L429.0 1133.5L429.5 1133.3L430.0 1133.1L430.5 1132.9L431.0 1132.6L431.5 1132.4L432.0 1132.1L432.5 1131.8L433.0 1131.6L433.5 1131.3L434.0 1131.0L434.5 1130.6L435.0 1130.3L435.5 1130.0L436.0 1129.6L436.5 1129.3L437.0 1128.9L437.5 1128.5L438.0 1128.1L438.5 1127.7L439.0 1127.3L439.5 1126.9L440.0 1126.5L440.5 1126.0L441.0 1125.6L441.5 1125.1L442.0 1124.7L442.5 1124.2L443.0 1123.7L443.5 1123.2L444.0 1122.7L444.5 1122.2L445.0 1121.7L445.5 1121.2L446.0 1120.7L446.5 1120.1L447.0 1119.6L447.5 1119.1L448.0 1118.6L448.5 1118.0L449.0 1117.5L449.5 1117.0L450.0 1116.5L450.5 1115.9L451.0 1115.4L451.5 1114.9L452.0 1114.4L452.5 1113.9L453.0 1113.4L453.5 1112.9L454.0 1112.4L454.5 1112.0L455.0 1111.5L455.5 1111.1L456.0 1110.6L456.5 1110.2L457.0 1109.8L457.5 1109.4L458.0 1109.1L458.5 1108.7L459.0 1108.4L459.5 1108.1L460.0 1107.8L460.5 1107.5L461.0 1107.3L461.5 1107.0L462.0 1106.8L462.5 1106.6L463.0 1106.5L463.5 1106.3L464.0 1106.2L464.5 1106.1L465.0 1106.1L465.5 1106.0L466.0 1106.0L466.5 1106.0L467.0 1106.0L467.5 1106.1L468.0 1106.2L468.5 1106.3L469.0 1106.4L469.5 1106.5L470.0 1106.7L470.5 1106.9L471.0 1107.1L471.5 1107.3L472.0 1107.6L472.5 1107.9L473.0 1108.2L473.5 1108.5L474.0 1108.8L474.5 1109.1L475.0 1109.5L475.5 1109.9L476.0 1110.3L476.5 1110.7L477.0 1111.1L477.5 1111.5L478.0 1112.0L478.5 1112.4L479.0 1112.9L479.5 1113.3L480.0 1113.8L480.5 1114.3L481.0 1114.8L481.5 1115.3L482.0 1115.7L482.5 1116.2L483.0 1116.7L483.5 1117.2L484.0 1117.7L484.5 1118.2L485.0 1118.7L485.5 1119.2L486.0 1119.7L486.5 1120.1L487.0 1120.6L487.5 1121.1L488.0 1121.6L488.5 1122.0L489.0 1122.5L489.5 1122.9L490.0 1123.3L490.5 1123.8L491.0 1124.2L491.5 1124.6L492.0 1125.0L492.5 1125.4L493.0 1125.7L493.5 1126.1L494.0 1126.5L494.5 1126.8L495.0 1127.1L495.5 1127.5L496.0 1127.8L496.5 1128.1L497.0 1128.4L497.5 1128.7L498.0 1128.9L498.5 1129.2L499.0 1129.4L499.5 1129.7L500.0 1129.9L500.5 1130.1L501.0 1130.3L501.5 1130.5L502.0 1130.7L502.5 1130.9L503.0 1131.1L503.5 1131.2L504.0 1131.4L504.5 1131.5L505.0 1131.6L505.5 1131.8L506.0 1131.9L506.5 1132.0L507.0 1132.1L507.5 1132.2L508.0 1132.3L508.5 1132.4L509.0 1132.4L509.5 1132.5L510.0 1132.6L510.5 1132.6L511.0 1132.7L511.5 1132.7L512.0 1132.8L512.5 1132.8L513.0 1132.9L513.5 1132.9L514.0 1132.9L514.5 1132.9L515.0 1133.0L515.5 1133.0L516.0 1133.0L516.5 1133.0L517.0 1133.0L517.5 1133.0L518.0 1133.0L518.5 1133.0L519.0 1133.0L519.5 1133.0L520.0 1133.0L520.5 1133.0L521.0 1133.0L521.5 1133.0L522.0 1133.0L522.5 1133.0L523.0 1132.9L523.5 1132.9L524.0 1132.9" stroke="#800080" stroke-width="3.4"/>
<path d="M540.8 1140.3L541.3 1140.3L541.8 1140.3L542.3 1140.3L542.8 1140.2L543.3 1140.2L543.8 1140.2L544.3 1140.2L544.8 1140.2L545.3 1140.2L545.8 1140.2L546.3 1140.2L546.8 1140.1L547.3 1140.1L547.8 1140.1L548.3 1140.1L548.8 1140.1L549.3 1140.1L549.8 1140.0L550.3 1140.0L550.8 1140.0L551.3 1140.0L551.8 1140.0L552.3 1139.9L552.8 1139.9L553.3 1139.9L553.8 1139.9L554.3 1139.8L554.8 1139.8L555.3 1139.8L555.8 1139.7L556.3 1139.7L556.8 1139.6L557.3 1139.6L557.8 1139.5L558.3 1139.5L558.8 1139.4L559.3 1139.4L559.8 1139.3L560.3 1139.2L560.8 1139.1L561.3 1139.0L561.8 1138.9L562.3 1138.8L562.8 1138.7L563.3 1138.5L563.8 1138.4L564.3 1138.2L564.8 1138.0L565.3 1137.8L565.8 1137.6L566.3 1137.4L566.8 1137.1L567.3 1136.8L567.8 1136.5L568.3 1136.2L568.8 1135.8L569.3 1135.4L569.8 1135.0L570.3 1134.6L570.8 1134.1L571.3 1133.5L571.8 1133.0L572.3 1132.4L572.8 1131.7L573.3 1131.0L573.8 1130.3L574.3 1129.5L574.8 1128.6L575.3 1127.7L575.8 1126.7L576.3 1125.7L576.8 1124.6L577.3 1123.5L577.8 1122.3L578.3 1121.0L578.8 1119.7L579.3 1118.3L579.8 1116.8L580.3 1115.3L580.8 1113.7L581.3 1112.1L581.8 1110.3L582.3 1108.6L582.8 1106.7L583.3 1104.8L583.8 1102.8L584.3 1100.8L584.8 1098.7L585.3 1096.6L585.8 1094.4L586.3 1092.2L586.8 1089.9L587.3 1087.6L587.8 1085.2L588.3 1082.8L588.8 1080.4L589.3 1078.0L589.8 1075.6L590.3 1073.2L590.8 1070.7L591.3 1068.3L591.8 1065.9L592.3 1063.5L592.8 1061.2L593.3 1058.9L593.8 1056.6L594.3 1054.3L594.8 1052.2L595.3 1050.1L595.8 1048.0L596.3 1046.0L596.8 1044.1L597.3 1042.3L597.8 1040.6L598.3 1039.0L598.8 1037.5L599.3 1036.1L599.8 1034.8L600.3 1033.6L600.8 1032.5L601.3 1031.6L601.8 1030.7L602.3 1030.0L602.8 1029.4L603.3 1028.9L603.8 1028.5L604.3 1028.2L604.8 1028.1L605.3 1028.0L605.8 1028.1L606.3 1028.2L606.8 1028.5L607.3 1028.8L607.8 1029.3L608.3 1029.8L608.8 1030.3L609.3 1031.0L609.8 1031.6L610.3 1032.4L610.8 1033.2L611.3 1034.0L611.8 1034.8L612.3 1035.7L612.8 1036.6L613.3 1037.4L613.8 1038.3L614.3 1039.1L614.8 1040.0L615.3 1040.8L615.8 1041.5L616.3 1042.3L616.8 1043.0L617.3 1043.6L617.8 1044.1L618.3 1044.7L618.8 1045.1L619.3 1045.5L619.8 1045.8L620.3 1046.0L620.8 1046.1L621.3 1046.2L621.8 1046.1L622.3 1046.0L622.8 1045.9L623.3 1045.6L623.8 1045.2L624.3 1044.8L624.8 1044.3L625.3 1043.8L625.8 1043.1L626.3 1042.4L626.8 1041.7L627.3 1040.9L627.8 1040.0L628.3 1039.1L628.8 1038.2L629.3 1037.2L629.8 1036.2L630.3 1035.2L630.8 1034.2L631.3 1033.1L631.8 1032.1L632.3 1031.1L632.8 1030.1L633.3 1029.1L633.8 1028.1L634.3 1027.2L634.8 1026.3L635.3 1025.4L635.8 1024.6L636.3 1023.9L636.8 1023.2L637.3 1022.6L637.8 1022.0L638.3 1021.5L638.8 1021.1L639.3 1020.8L639.8 1020.6L640.3 1020.5L640.8 1020.4L641.3 1020.5L641.8 1020.6L642.3 1020.9L642.8 1021.2L643.3 1021.7L643.8 1022.2L644.3 1022.8L644.8 1023.6L645.3 1024.4L645.8 1025.3L646.3 1026.3L646.8 1027.5L647.3 1028.7L647.8 1029.9L648.3 1031.3L648.8 1032.8L649.3 1034.3L649.8 1035.9L650.3 1037.6L650.8 1039.3L651.3 1041.1L651.8 1043.0L652.3 1044.9L652.8 1046.8L653.3 1048.8L653.8 1050.8L654.3 1052.9L654.8 1055.0L655.3 1057.1L655.8 1059.3L656.3 1061.4L656.8 1063.6L657.3 1065.7L657.8 1067.9L658.3 1070.1L658.8 1072.2L659.3 1074.4L659.8 1076.5L660.3 1078.6L660.8 1080.7L661.3 1082.8L661.8 1084.8L662.3 1086.9L662.8 1088.8L663.3 1090.8L663.8 1092.7L664.3 1094.5L664.8 1096.3L665.3 1098.1L665.8 1099.8L666.3 1101.5L666.8 1103.1L667.3 1104.7L667.8 1106.3L668.3 1107.7L668.8 1109.2L669.3 1110.5L669.8 1111.9L670.3 1113.1L670.8 1114.4L671.3 1115.5L671.8 1116.6L672.3 1117.7L672.8 1118.7L673.3 1119.7L673.8 1120.6L674.3 1121.5L674.8 1122.4L675.3 1123.1L675.8 1123.9L676.3 1124.6L676.8 1125.3L677.3 1125.9L677.8 1126.5L678.3 1127.0L678.8 1127.5L679.3 1128.0L679.8 1128.5L680.3 1128.9L680.8 1129.3L681.3 1129.6L681.8 1129.9L682.3 1130.2L682.8 1130.5L683.3 1130.8L683.8 1131.0L684.3 1131.2L684.8 1131.4L685.3 1131.6L685.8 1131.7L686.3 1131.9L686.8 1132.0L687.3 1132.1L687.8 1132.2L688.3 1132.2L688.8 1132.3L689.3 1132.3L689.8 1132.4L690.3 1132.4L690.8 1132.4L691.3 1132.4L691.8 1132.4L692.3 1132.4L692.8 1132.4L693.3 1132.4L693.8 1132.4L694.3 1132.3L694.8 1132.3L695.3 1132.2L695.8 1132.2L696.3 1132.1L696.8 1132.1L697.3 1132.0L697.8 1132.0L698.3 1131.9L698.8 1131.8L699.3 1131.8L699.8 1131.7L700.3 1131.6L700.8 1131.5L701.3 1131.5L701.8 1131.4L702.3 1131.3L702.8 1131.2L703.3 1131.1L703.8 1131.0L704.3 1131.0L704.8 1130.9L705.3 1130.8L705.8 1130.7L706.3 1130.6L706.8 1130.5L707.3 1130.4L707.8 1130.4L708.3 1130.3L708.8 1130.2L709.3 1130.1L709.8 1130.0L710.3 1129.9L710.8 1129.8L711.3 1129.7L711.8 1129.7L712.3 1129.6L712.8 1129.5L713.3 1129.4L713.8 1129.3L714.3 1129.2L714.8 1129.2L715.3 1129.1L715.8 1129.0L716.3 1128.9L716.8 1128.8L717.3 1128.8L717.8 1128.7L718.3 1128.6L718.8 1128.5L719.3 1128.5L719.8 1128.4L720.3 1128.3L720.8 1128.3L721.3 1128.2L721.8 1128.1L722.3 1128.1L722.8 1128.0L723.3 1127.9L723.8 1127.9L724.3 1127.8L724.8 1127.8L725.3 1127.7L725.8 1127.6L726.3 1127.6L726.8 1127.5L727.3 1127.5L727.8 1127.4L728.3 1127.4L728.8 1127.3L729.3 1127.3L729.8 1127.3L730.3 1127.2L730.8 1127.2L731.3 1127.1L731.8 1127.1L732.3 1127.1L732.8 1127.0L733.3 1127.0L733.8 1127.0L734.3 1127.0L734.8 1126.9L735.3 1126.9L735.8 1126.9L736.3 1126.9L736.8 1126.9L737.3 1126.8L737.8 1126.8L738.3 1126.8L738.8 1126.8L739.3 1126.8L739.8 1126.8L740.3 1126.8L740.8 1126.8L741.3 1126.8L741.8 1126.8L742.3 1126.8L742.8 1126.8L743.3 1126.8L743.8 1126.8L744.3 1126.9L744.8 1126.9L745.3 1126.9L745.8 1126.9L746.3 1126.9L746.8 1127.0L747.3 1127.0L747.8 1127.0L748.3 1127.0L748.8 1127.1L749.3 1127.1L749.8 1127.1L750.3 1127.2L750.8 1127.2L751.3 1127.2L751.8 1127.3L752.3 1127.3L752.8 1127.4L753.3 1127.4L753.8 1127.5L754.3 1127.5L754.8 1127.6L755.3 1127.6L755.8 1127.7L756.3 1127.7L756.8 1127.8L757.3 1127.9L757.8 1127.9L758.3 1128.0L758.8 1128.0L759.3 1128.1L759.8 1128.2L760.3 1128.2L760.8 1128.3L761.3 1128.4L761.8 1128.5L762.3 1128.5L762.8 1128.6L763.3 1128.7L763.8 1128.8L764.3 1128.8L764.8 1128.9L765.3 1129.0L765.8 1129.1L766.3 1129.2L766.8 1129.2L767.3 1129.3L767.8 1129.4L768.3 1129.5L768.8 1129.6L769.3 1129.7L769.8 1129.7L770.3 1129.8L770.8 1129.9L771.3 1130.0L771.8 1130.1L772.3 1130.2L772.8 1130.3L773.3 1130.4L773.8 1130.4L774.3 1130.5L774.8 1130.6L775.3 1130.7L775.8 1130.8L776.3 1130.9L776.8 1131.0L777.3 1131.1L777.8 1131.2L778.3 1131.3L778.8 1131.4L779.3 1131.5L779.8 1131.5L780.3 1131.6L780.8 1131.7L781.3 1131.8L781.8 1131.9L782.3 1132.0L782.8 1132.1L783.3 1132.2L783.8 1132.3L784.3 1132.4L784.8 1132.5L785.3 1132.5L785.8 1132.6L786.3 1132.7L786.8 1132.8L787.3 1132.9L787.8 1133.0L788.3 1133.1L788.8 1133.2L789.3 1133.2L789.8 1133.3L790.3 1133.4L790.8 1133.5L791.3 1133.6L791.8 1133.7L792.3 1133.7L792.8 1133.8L793.3 1133.9L793.8 1134.0L794.3 1134.1L794.8 1134.1L795.3 1134.2L795.8 1134.3L796.3 1134.4L796.8 1134.4L797.3 1134.5L797.8 1134.6L798.3 1134.6L798.8 1134.7L799.3 1134.8L799.8 1134.9L800.3 1134.9L800.8 1135.0L801.3 1135.0L801.8 1135.1L802.3 1135.2L802.8 1135.2L803.3 1135.3L803.8 1135.3L804.3 1135.4L804.8 1135.5L805.3 1135.5L805.8 1135.6L806.3 1135.6L806.8 1135.6L807.3 1135.7L807.8 1135.7L808.3 1135.8L808.8 1135.8L809.3 1135.8L809.8 1135.8L810.3 1135.9L810.8 1135.9L811.3 1135.9L811.8 1135.9L812.3 1135.9L812.8 1135.9L813.3 1135.9L813.8 1135.9L814.3 1135.9L814.8 1135.8L815.3 1135.8L815.8 1135.8L816.3 1135.7L816.8 1135.7L817.3 1135.6L817.8 1135.5L818.3 1135.4L818.8 1135.3L819.3 1135.2L819.8 1135.1L820.3 1135.0L820.8 1134.8L821.3 1134.6L821.8 1134.5L822.3 1134.3L822.8 1134.1L823.3 1133.8L823.8 1133.6L824.3 1133.3L824.8 1133.0L825.3 1132.7L825.8 1132.4L826.3 1132.0L826.8 1131.6L827.3 1131.2L827.8 1130.8L828.3 1130.4L828.8 1129.9L829.3 1129.4L829.8 1128.8L830.3 1128.3L830.8 1127.7L831.3 1127.1L831.8 1126.4L832.3 1125.7L832.8 1125.0L833.3 1124.3L833.8 1123.5L834.3 1122.7L834.8 1121.8L835.3 1121.0L835.8 1120.1L836.3 1119.1L836.8 1118.2L837.3 1117.2L837.8 1116.2L838.3 1115.1L838.8 1114.1L839.3 1113.0L839.8 1111.8L840.3 1110.7L840.8 1109.5L841.3 1108.3L841.8 1107.1L842.3 1105.9L842.8 1104.6L843.3 1103.4L843.8 1102.1L844.3 1100.8L844.8 1099.6L845.3 1098.3L845.8 1097.0L846.3 1095.7L846.8 1094.4L847.3 1093.1L847.8 1091.8L848.3 1090.6L848.8 1089.3L849.3 1088.1L849.8 1086.9L850.3 1085.7L850.8 1084.5L851.3 1083.4L851.8 1082.3L852.3 1081.2L852.8 1080.2L853.3 1079.2L853.8 1078.2L854.3 1077.3L854.8 1076.4L855.3 1075.6L855.8 1074.8L856.3 1074.1L856.8 1073.4L857.3 1072.8L857.8 1072.2L858.3 1071.7L858.8 1071.3L859.3 1070.9L859.8 1070.5L860.3 1070.2L860.8 1070.0L861.3 1069.8L861.8 1069.6L862.3 1069.6L862.8 1069.5L863.3 1069.5L863.8 1069.6L864.3 1069.7L864.8 1069.9L865.3 1070.1L865.8 1070.3L866.3 1070.6L866.8 1070.9L867.3 1071.2L867.8 1071.6L868.3 1072.0L868.8 1072.4L869.3 1072.8L869.8 1073.3L870.3 1073.7L870.8 1074.2L871.3 1074.7L871.8 1075.2L872.3 1075.7L872.8 1076.1L873.3 1076.6L873.8 1077.1L874.3 1077.5L874.8 1077.9L875.3 1078.3L875.8 1078.7L876.3 1079.1L876.8 1079.4L877.3 1079.8L877.8 1080.0L878.3 1080.3L878.8 1080.5L879.3 1080.7L879.8 1080.9L880.3 1081.0L880.8 1081.1L881.3 1081.1L881.8 1081.1L882.3 1081.1L882.8 1081.0L883.3 1080.9L883.8 1080.8L884.3 1080.6L884.8 1080.5L885.3 1080.2L885.8 1080.0L886.3 1079.7L886.8 1079.4L887.3 1079.1L887.8 1078.7L888.3 1078.4L888.8 1078.0L889.3 1077.6L889.8 1077.2L890.3 1076.8L890.8 1076.4L891.3 1076.0L891.8 1075.6L892.3 1075.2L892.8 1074.8L893.3 1074.5L893.8 1074.1L894.3 1073.8L894.8 1073.4L895.3 1073.1L895.8 1072.9L896.3 1072.6L896.8 1072.4L897.3 1072.3L897.8 1072.1L898.3 1072.0L898.8 1072.0L899.3 1072.0L899.8 1072.0L900.3 1072.1L900.8 1072.2L901.3 1072.3L901.8 1072.6L902.3 1072.8L902.8 1073.1L903.3 1073.5L903.8 1073.9L904.3 1074.4L904.8 1074.9L905.3 1075.4L905.8 1076.0L906.3 1076.7L906.8 1077.4L907.3 1078.1L907.8 1078.9L908.3 1079.8L908.8 1080.6L909.3 1081.5L909.8 1082.5L910.3 1083.5L910.8 1084.5L911.3 1085.5L911.8 1086.6L912.3 1087.7L912.8 1088.8L913.3 1089.9L913.8 1091.1L914.3 1092.3L914.8 1093.5L915.3 1094.7L915.8 1095.9L916.3 1097.1L916.8 1098.3L917.3 1099.6L917.8 1100.8L918.3 1102.0L918.8 1103.2L919.3 1104.4L919.8 1105.7L920.3 1106.9L920.8 1108.0L921.3 1109.2L921.8 1110.4L922.3 1111.5L922.8 1112.6L923.3 1113.7L923.8 1114.8L924.3 1115.9L924.8 1116.9L925.3 1117.9L925.8 1118.9L926.3 1119.9L926.8 1120.8L927.3 1121.8L927.8 1122.6L928.3 1123.5L928.8 1124.3L929.3 1125.1L929.8 1125.9L930.3 1126.7L930.8 1127.4L931.3 1128.1L931.8 1128.8L932.3 1129.4L932.8 1130.0L933.3 1130.6L933.8 1131.2L934.3 1131.7L934.8 1132.2L935.3 1132.7L935.8 1133.2L936.3 1133.7L936.8 1134.1L937.3 1134.5L937.8 1134.9L938.3 1135.2L938.8 1135.6L939.3 1135.9L939.8 1136.2L940.3 1136.5L940.8 1136.8L941.3 1137.0L941.8 1137.3L942.3 1137.5L942.8 1137.7L943.3 1137.9L943.8 1138.1L944.3 1138.3L944.8 1138.4L945.3 1138.6L945.8 1138.7L946.3 1138.9L946.8 1139.0L947.3 1139.1L947.8 1139.2L948.3 1139.3L948.8 1139.4L949.3 1139.5L949.8 1139.6L950.3 1139.7L950.8 1139.8L951.3 1139.8L951.8 1139.9L952.3 1139.9L952.8 1140.0L953.3 1140.0L953.8 1140.1L954.3 1140.1L954.8 1140.2L955.3 1140.2L955.8 1140.2L956.3 1140.3L956.8 1140.3L957.3 1140.3L957.8 1140.3L958.3 1140.4L958.8 1140.4L959.3 1140.4L959.8 1140.4L960.3 1140.4L960.8 1140.4L961.3 1140.4L961.8 1140.4L962.3 1140.4L962.8 1140.4L963.3 1140.5L963.8 1140.5L964.3 1140.5L964.8 1140.5L965.3 1140.5L965.8 1140.5L966.3 1140.5L966.8 1140.5L967.3 1140.5L967.8 1140.5L968.3 1140.5L968.8 1140.5L969.3 1140.5L969.8 1140.5L970.3 1140.5L970.8 1140.5L971.3 1140.5L971.8 1140.5L972.3 1140.5L972.8 1140.5L973.3 1140.5L973.8 1140.5L974.3 1140.5L974.8 1140.5L975.3 1140.5L975.8 1140.5L976.3 1140.5L976.8 1140.5L977.3 1140.5L977.8 1140.5L978.3 1140.5L978.8 1140.5L979.3 1140.5L979.8 1140.5L980.3 1140.5L980.8 1140.5L981.3 1140.5L981.8 1140.5L982.3 1140.5L982.8 1140.5L983.3 1140.5L983.8 1140.5L984.3 1140.5L984.8 1140.5L985.3 1140.5L985.8 1140.5L986.3 1140.5L986.8 1140.5L987.3 1140.5L987.8 1140.5L988.3 1140.5L988.8 1140.5L989.3 1140.5L989.8 1140.5L990.3 1140.5L990.8 1140.5L991.3 1140.5L991.8 1140.5L992.3 1140.5L992.8 1140.5L993.3 1140.5L993.8 1140.5L994.3 1140.5L994.8 1140.5L995.3 1140.5L995.8 1140.5L996.3 1140.5L996.8 1140.5L997.3 1140.5L997.8 1140.5L998.3 1140.5L998.8 1140.5L999.3 1140.5L999.8 1140.5L1000.3 1140.5L1000.8 1140.5L1001.3 1140.5L1001.8 1140.5L1002.3 1140.5L1002.8 1140.5L1003.3 1140.5L1003.8 1140.5L1004.3 1140.5L1004.8 1140.5L1005.3 1140.5L1005.8 1140.5L1006.3 1140.5L1006.8 1140.5L1007.3 1140.5L1007.8 1140.5L1008.3 1140.5L1008.8 1140.5L1009.3 1140.5L1009.8 1140.5L1010.3 1140.5" stroke="#800080" stroke-width="3.4"/>
</g>
<path d="M516.1 29.6L532.7 0.8M532.5 29.6L549.1 0.8M516.1 404.9L532.7 376.1M532.5 404.9L549.1 376.1M516.1 780.4L532.7 751.6M532.5 780.4L549.1 751.6M516.1 1156.7L532.7 1127.9M532.5 1156.7L549.1 1127.9" stroke="#000" stroke-width="3.2" fill="none"/>
<g id="labels" class="serif" fill="#000">
<text x="55.1" y="1191" font-size="33" text-anchor="middle">20</text>
<text x="250.8" y="1191" font-size="33" text-anchor="middle">25</text>
<text x="446.4" y="1191" font-size="33" text-anchor="middle">30</text>
<text x="649.4" y="1191" font-size="33" text-anchor="middle">40</text>
<text x="829.9" y="1191" font-size="33" text-anchor="middle">45</text>
<text x="1010.5" y="1191" font-size="33" text-anchor="middle">50</text>
<text x="532.4" y="1248.2" font-size="35.7" text-anchor="middle">2θ (degree)</text>
<text transform="translate(25.0 571.3) rotate(-90)" font-size="35" text-anchor="middle">Intensity (a.u.)</text>
<text x="63" y="355.2" font-size="35.5" font-weight="bold">c)</text>
<text x="63" y="747.2" font-size="35.5" font-weight="bold">b)</text>
<text x="63" y="1116" font-size="35.5" font-weight="bold">a)</text>
<line x1="637.6" y1="45" x2="702" y2="45" stroke="#0000ff" stroke-width="1.5"/>
<line x1="637.6" y1="80.4" x2="702" y2="80.4" stroke="#008080" stroke-width="2.8"/>
<line x1="637.6" y1="114.8" x2="702" y2="114.8" stroke="#ff0080" stroke-width="3.2"/>
<text x="708.9" y="54.3" font-size="28.3">CST(250)/CT(200) at 3°</text>
<text x="708.9" y="89.4" font-size="28.3">Fit Peak</text>
<text x="708.9" y="124.5" font-size="28.3">Cum. Fit</text>
<line x1="633.7" y1="418.4" x2="698" y2="418.4" stroke="#ff0000" stroke-width="1.5"/>
<line x1="633.7" y1="453.5" x2="698" y2="453.5" stroke="#000080" stroke-width="1.7"/>
<line x1="633.7" y1="488.7" x2="698" y2="488.7" stroke="#00ffff" stroke-width="3.4"/>
<text x="703.8" y="428" font-size="28.3">CST(250)/CT(200) at 1°</text>
<text x="703.8" y="463" font-size="28.3">Fit Peak</text>
<text x="703.8" y="498" font-size="28.3">Cum. Fit</text>
<line x1="627" y1="794.2" x2="691" y2="794.2" stroke="#000000" stroke-width="1.4"/>
<line x1="627" y1="829.3" x2="691" y2="829.3" stroke="#808000" stroke-width="2.8"/>
<line x1="627" y1="864.1" x2="691" y2="864.1" stroke="#800080" stroke-width="3.2"/>
<text x="696.8" y="803.6" font-size="28.45">CST(250)/CT(200) at 0.5°</text>
<text x="696.8" y="838.6" font-size="28.45">Fit Peak</text>
<text x="696.8" y="873.6" font-size="28.45">Cum. Fit</text>
<text x="315.2" y="57.8" font-size="25.1">CdTe(C)</text>
<text x="317.2" y="87.5" font-size="25.1">CdSe<tspan dy="9.6" font-size="15.4">x</tspan><tspan dy="-9.6">Te</tspan><tspan dy="9.6" font-size="15.4">1-x</tspan><tspan dy="-9.6">(C)</tspan></text>
<text x="348.1" y="455.5" font-size="24.85">CdSe(H)</text>
<text x="350.0" y="484.8" font-size="25.1">CdSe<tspan dy="9.6" font-size="15.4">x</tspan><tspan dy="-9.6">Te</tspan><tspan dy="9.6" font-size="15.4">1-x</tspan><tspan dy="-9.6">(C)</tspan></text>
<text x="347.9" y="523" font-size="25.6">CdTe(Te-rich)</text>
<text x="348.3" y="554.6" font-size="25.1">TeO<tspan dy="9.6" font-size="15.4">3</tspan></text>
<text x="300.9" y="854.5" font-size="25.6">CdTe(Te-rich)</text>
<text x="304.6" y="884.4" font-size="25.1">CdSe<tspan dy="9.6" font-size="15.4">x</tspan><tspan dy="-9.6">Te</tspan><tspan dy="9.6" font-size="15.4">1-x</tspan><tspan dy="-9.6">(C)</tspan></text>
<text x="303.0" y="922.8" font-size="25.1">TeO<tspan dy="9.6" font-size="15.4">3</tspan></text>
</g>
<g id="symbols" fill="#000">
<path transform="translate(623.5 290.1)" d="M-2.6 5.4V-5.4A2.8 2.8 0 1 0 -5.4 -2.6H5.4A2.8 2.8 0 1 0 2.6 -5.4V5.4A2.8 2.8 0 1 0 5.4 2.6H-5.4A2.8 2.8 0 1 0 -2.6 5.4Z" fill="none" stroke="#000" stroke-width="1.9"/>
<rect x="645.4" y="296.5" width="14.6" height="14.6"/>
<path transform="translate(881.9 272.7)" d="M-2.6 5.4V-5.4A2.8 2.8 0 1 0 -5.4 -2.6H5.4A2.8 2.8 0 1 0 2.6 -5.4V5.4A2.8 2.8 0 1 0 5.4 2.6H-5.4A2.8 2.8 0 1 0 -2.6 5.4Z" fill="none" stroke="#000" stroke-width="1.9"/>
<rect x="904.7" y="306.7" width="14.6" height="14.6"/>
<path transform="translate(303.3 49.6)" d="M-2.6 5.4V-5.4A2.8 2.8 0 1 0 -5.4 -2.6H5.4A2.8 2.8 0 1 0 2.6 -5.4V5.4A2.8 2.8 0 1 0 5.4 2.6H-5.4A2.8 2.8 0 1 0 -2.6 5.4Z" fill="none" stroke="#000" stroke-width="1.9"/>
<rect x="294.2" y="72.0" width="14.6" height="14.6"/>
<path transform="translate(201.2 408.1)" d="M0 -9.100000000000001l3.7 3.7l-3.7 3.7l-3.7 -3.7ZM0 1.7000000000000002l3.7 3.7l-3.7 3.7l-3.7 -3.7ZM-5.4 -3.7l3.7 3.7l-3.7 3.7l-3.7 -3.7ZM5.4 -3.7l3.7 3.7l-3.7 3.7l-3.7 -3.7Z"/>
<rect x="214.2" y="400.9" width="14.6" height="14.6"/>
<g transform="translate(153.9 700.7)"><circle cx="1.45" cy="0.9" r="8.5"/><circle cx="-1.35" cy="-0.4" r="8.4"/><circle cx="-1.35" cy="-0.4" r="7.05" fill="#fff"/></g>
<path transform="translate(266.8 725.4)" d="M0 -9.100000000000001l3.7 3.7l-3.7 3.7l-3.7 -3.7ZM0 1.7000000000000002l3.7 3.7l-3.7 3.7l-3.7 -3.7ZM-5.4 -3.7l3.7 3.7l-3.7 3.7l-3.7 -3.7ZM5.4 -3.7l3.7 3.7l-3.7 3.7l-3.7 -3.7Z"/>
<g transform="translate(605.6 667.9)" fill="none" stroke="#000"><rect x="-8.3" y="-8.15" width="16.6" height="16.3" stroke-width="1.9"/><path d="M-2.6 -4.3Q-1.2 -0.6 4.2 3.7M4.4 -3.4Q0.6 -1.8 -0.4 1.2T-3.8 4.2" stroke-width="3.1" stroke-linecap="round"/></g>
<rect x="630.9" y="656.3" width="14.6" height="14.6"/>
<path transform="translate(865.2 696.8)" d="M0 -9.100000000000001l3.7 3.7l-3.7 3.7l-3.7 -3.7ZM0 1.7000000000000002l3.7 3.7l-3.7 3.7l-3.7 -3.7ZM-5.4 -3.7l3.7 3.7l-3.7 3.7l-3.7 -3.7ZM5.4 -3.7l3.7 3.7l-3.7 3.7l-3.7 -3.7Z"/>
<rect x="891.7" y="688.6" width="14.6" height="14.6"/>
<path transform="translate(337 446.2)" d="M0 -9.100000000000001l3.7 3.7l-3.7 3.7l-3.7 -3.7ZM0 1.7000000000000002l3.7 3.7l-3.7 3.7l-3.7 -3.7ZM-5.4 -3.7l3.7 3.7l-3.7 3.7l-3.7 -3.7ZM5.4 -3.7l3.7 3.7l-3.7 3.7l-3.7 -3.7Z"/>
<rect x="328.0" y="469.9" width="14.6" height="14.6"/>
<g transform="translate(337 514.8)" fill="none" stroke="#000"><rect x="-8.3" y="-8.15" width="16.6" height="16.3" stroke-width="1.9"/><path d="M-2.6 -4.3Q-1.2 -0.6 4.2 3.7M4.4 -3.4Q0.6 -1.8 -0.4 1.2T-3.8 4.2" stroke-width="3.1" stroke-linecap="round"/></g>
<g transform="translate(337.3 545.6)"><circle cx="1.45" cy="0.9" r="8.5"/><circle cx="-1.35" cy="-0.4" r="8.4"/><circle cx="-1.35" cy="-0.4" r="7.05" fill="#fff"/></g>
<g transform="translate(193.4 780.1)" fill="none" stroke="#000"><rect x="-8.3" y="-8.15" width="16.6" height="16.3" stroke-width="1.9"/><path d="M-2.6 -4.3Q-1.2 -0.6 4.2 3.7M4.4 -3.4Q0.6 -1.8 -0.4 1.2T-3.8 4.2" stroke-width="3.1" stroke-linecap="round"/></g>
<rect x="213.0" y="784.0" width="14.6" height="14.6"/>
<g transform="translate(152.7 1033.7)"><circle cx="1.45" cy="0.9" r="8.5"/><circle cx="-1.35" cy="-0.4" r="8.4"/><circle cx="-1.35" cy="-0.4" r="7.05" fill="#fff"/></g>
<g transform="translate(252.4 1040)"><circle cx="1.45" cy="0.9" r="8.5"/><circle cx="-1.35" cy="-0.4" r="8.4"/><circle cx="-1.35" cy="-0.4" r="7.05" fill="#fff"/></g>
<g transform="translate(468 1069.5)"><circle cx="1.45" cy="0.9" r="8.5"/><circle cx="-1.35" cy="-0.4" r="8.4"/><circle cx="-1.35" cy="-0.4" r="7.05" fill="#fff"/></g>
<g transform="translate(603.6 1000.7)" fill="none" stroke="#000"><rect x="-8.3" y="-8.15" width="16.6" height="16.3" stroke-width="1.9"/><path d="M-2.6 -4.3Q-1.2 -0.6 4.2 3.7M4.4 -3.4Q0.6 -1.8 -0.4 1.2T-3.8 4.2" stroke-width="3.1" stroke-linecap="round"/></g>
<rect x="636.0" y="988.3" width="14.6" height="14.6"/>
<g transform="translate(859.9 1033.8)" fill="none" stroke="#000"><rect x="-8.3" y="-8.15" width="16.6" height="16.3" stroke-width="1.9"/><path d="M-2.6 -4.3Q-1.2 -0.6 4.2 3.7M4.4 -3.4Q0.6 -1.8 -0.4 1.2T-3.8 4.2" stroke-width="3.1" stroke-linecap="round"/></g>
<rect x="896.4" y="1038.0" width="14.6" height="14.6"/>
<g transform="translate(290.3 846.0)" fill="none" stroke="#000"><rect x="-8.3" y="-8.15" width="16.6" height="16.3" stroke-width="1.9"/><path d="M-2.6 -4.3Q-1.2 -0.6 4.2 3.7M4.4 -3.4Q0.6 -1.8 -0.4 1.2T-3.8 4.2" stroke-width="3.1" stroke-linecap="round"/></g>
<rect x="281.3" y="869.6" width="14.6" height="14.6"/>
<g transform="translate(291.15 914.4)"><circle cx="1.45" cy="0.9" r="8.5"/><circle cx="-1.35" cy="-0.4" r="8.4"/><circle cx="-1.35" cy="-0.4" r="7.05" fill="#fff"/></g>
</g>
<g id="guides">
<line x1="201.50" y1="15.2" x2="201.50" y2="390.5" class="dot"/>
<line x1="218.20" y1="15.2" x2="218.20" y2="390.5" class="dot"/>
<line x1="623.80" y1="15.2" x2="623.80" y2="390.5" class="dot"/>
<line x1="651.90" y1="15.2" x2="651.90" y2="390.5" class="dot"/>
<line x1="882.10" y1="15.2" x2="882.10" y2="390.5" class="dot"/>
<line x1="909.30" y1="15.2" x2="909.30" y2="390.5" class="dot"/>
<line x1="155.00" y1="390.5" x2="155.00" y2="766.0" class="dot"/>
<line x1="209.70" y1="390.5" x2="209.70" y2="766.0" class="dot"/>
<line x1="266.00" y1="390.5" x2="266.00" y2="766.0" class="dot"/>
<line x1="606.05" y1="390.5" x2="606.05" y2="766.0" class="dot"/>
<line x1="637.10" y1="390.5" x2="637.10" y2="766.0" class="dot"/>
<line x1="864.90" y1="390.5" x2="864.90" y2="766.0" class="dot"/>
<line x1="897.60" y1="390.5" x2="897.60" y2="766.0" class="dot"/>
<line x1="153.95" y1="766.0" x2="153.95" y2="1142.3" class="dot"/>
<line x1="193.50" y1="766.0" x2="193.50" y2="1142.3" class="dot"/>
<line x1="218.90" y1="766.0" x2="218.90" y2="1142.3" class="dot"/>
<line x1="250.60" y1="766.0" x2="250.60" y2="1142.3" class="dot"/>
<line x1="466.20" y1="766.0" x2="466.20" y2="1142.3" class="dot"/>
<line x1="603.60" y1="766.0" x2="603.60" y2="1142.3" class="dot"/>
<line x1="642.10" y1="766.0" x2="642.10" y2="1142.3" class="dot"/>
<line x1="858.80" y1="766.0" x2="858.80" y2="1142.3" class="dot"/>
<line x1="903.60" y1="766.0" x2="903.60" y2="1142.3" class="dot"/>
</g>
<g id="symbols-top" fill="#000">
<path transform="translate(199.2 29.6)" d="M-2.6 5.4V-5.4A2.8 2.8 0 1 0 -5.4 -2.6H5.4A2.8 2.8 0 1 0 2.6 -5.4V5.4A2.8 2.8 0 1 0 5.4 2.6H-5.4A2.8 2.8 0 1 0 -2.6 5.4Z" fill="none" stroke="#000" stroke-width="1.9"/>
<rect x="212.6" y="150.3" width="14.6" height="14.6"/>
</g>
</svg>
</body></html>
